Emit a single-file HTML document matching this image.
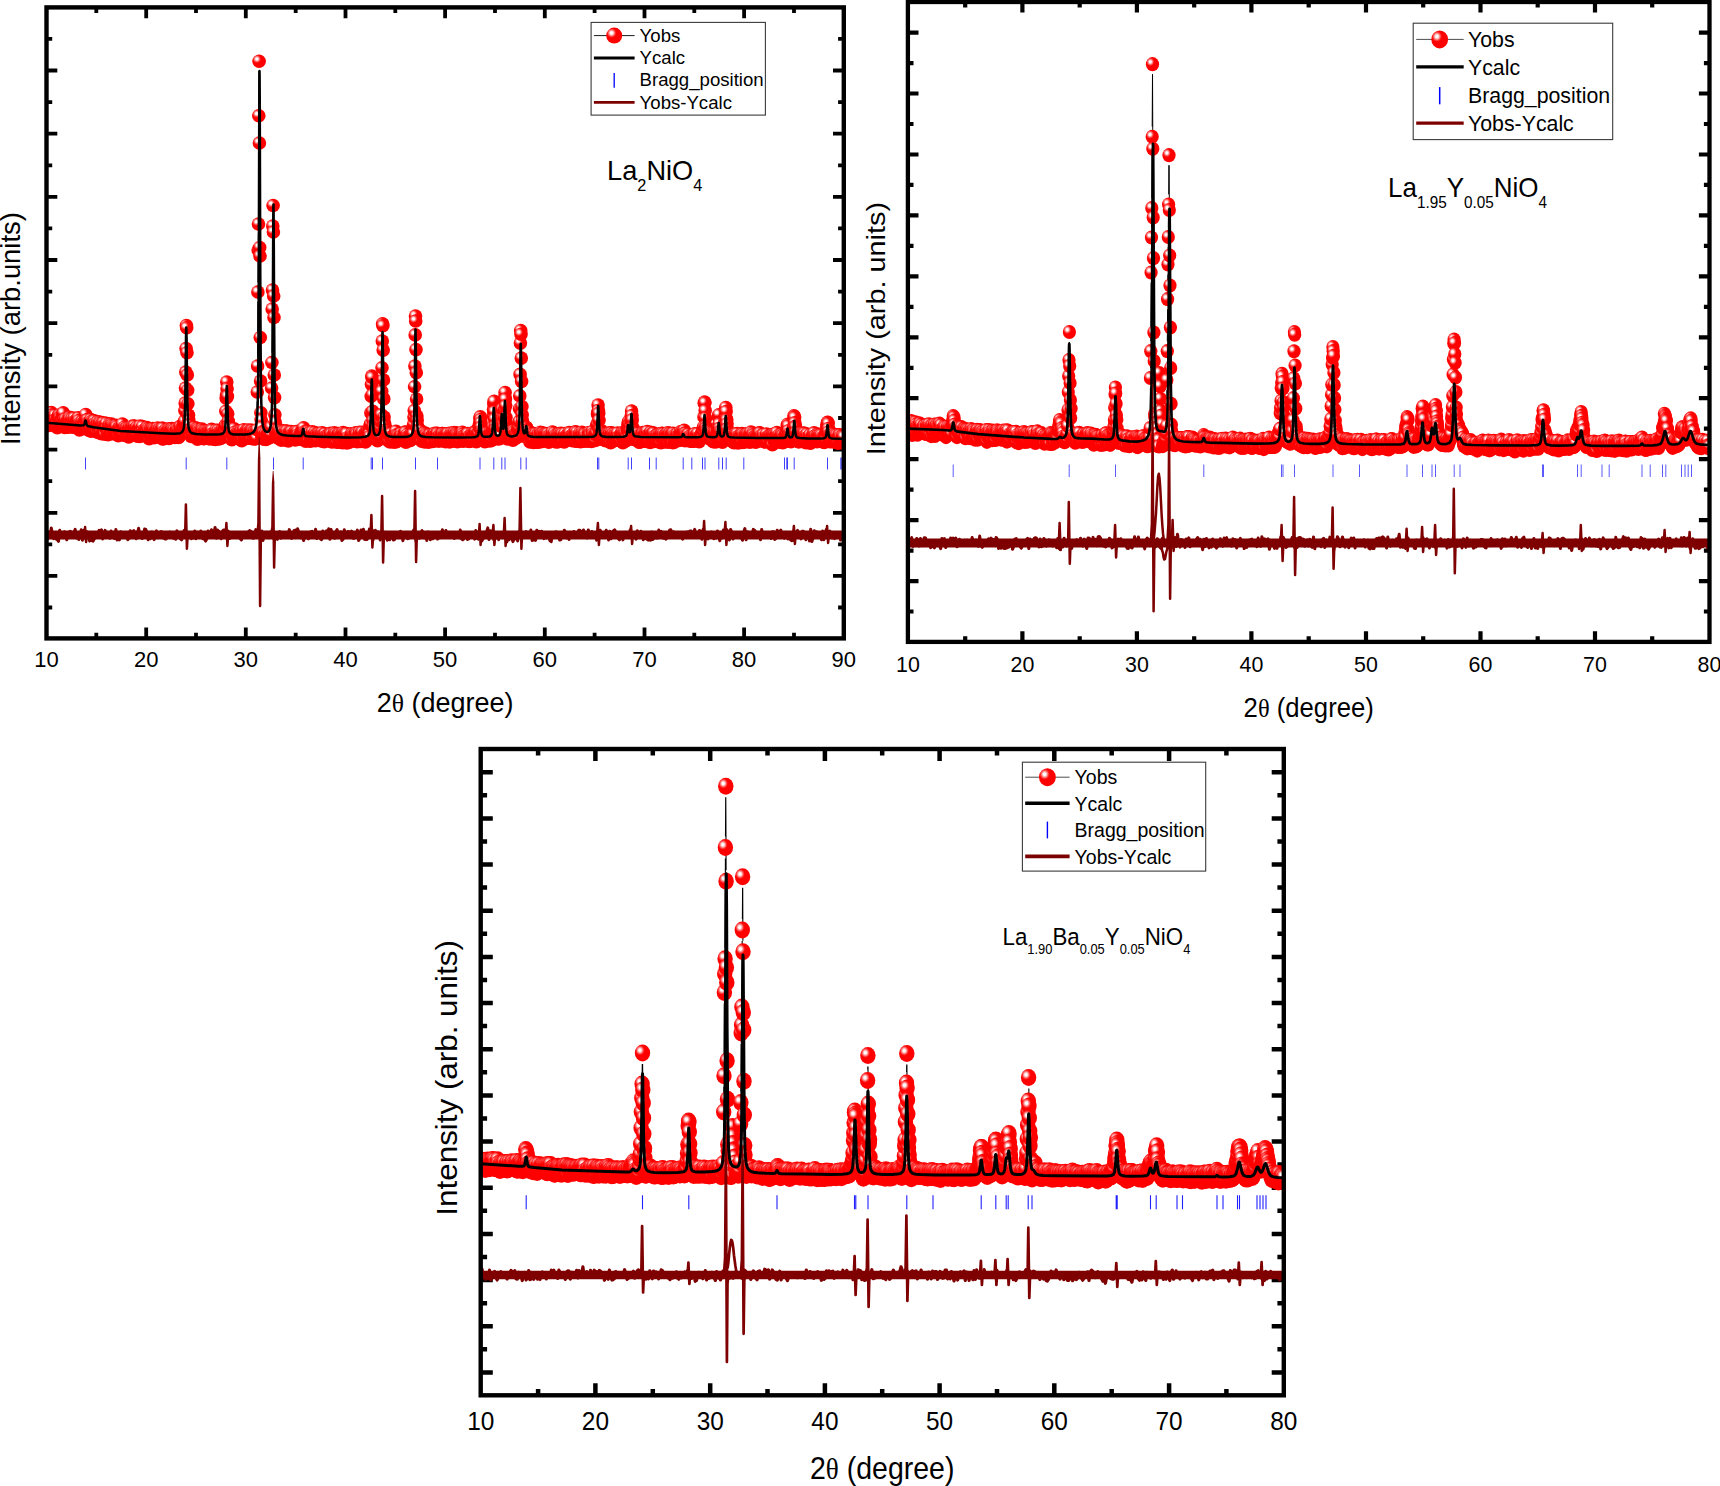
<!DOCTYPE html>
<html lang="en">
<head>
<meta charset="utf-8">
<title>Rietveld refinement XRD patterns</title>
<style>
html,body{margin:0;padding:0;background:#fff;}
body{width:1720px;height:1486px;overflow:hidden;}
svg{display:block;font-family:'Liberation Sans', Arial, sans-serif;fill:#000;}
</style>
</head>
<body>
<svg width="1720" height="1486" viewBox="0 0 1720 1486">
<defs>
<radialGradient id="rg" cx="0.335" cy="0.335" r="0.3">
<stop offset="0" stop-color="#fff"/>
<stop offset="0.25" stop-color="#fff"/>
<stop offset="0.5" stop-color="#ffa0a0"/>
<stop offset="0.8" stop-color="#ff3030"/>
<stop offset="1" stop-color="#ff0000"/>
</radialGradient>
</defs>
<rect width="1720" height="1486" fill="#fff"/>
<marker id="b1" markerUnits="userSpaceOnUse" markerWidth="15.5" markerHeight="15.5" refX="7.8" refY="7.8" overflow="visible"><ellipse cx="7.8" cy="7.8" rx="6.8" ry="6.8" fill="url(#rg)"/></marker>
<clipPath id="c1"><rect x="45" y="7.4" width="800.3" height="631"/></clipPath>
<path d="M46.5 38.9h5.7M843.8 38.9h-5.7M46.5 70.5h10.8M843.8 70.5h-10.8M46.5 102.1h5.7M843.8 102.1h-5.7M46.5 133.7h10.8M843.8 133.7h-10.8M46.5 165.3h5.7M843.8 165.3h-5.7M46.5 196.8h10.8M843.8 196.8h-10.8M46.5 228.4h5.7M843.8 228.4h-5.7M46.5 260h10.8M843.8 260h-10.8M46.5 291.6h5.7M843.8 291.6h-5.7M46.5 323.2h10.8M843.8 323.2h-10.8M46.5 354.8h5.7M843.8 354.8h-5.7M46.5 386.4h10.8M843.8 386.4h-10.8M46.5 418h5.7M843.8 418h-5.7M46.5 449.6h10.8M843.8 449.6h-10.8M46.5 481.2h5.7M843.8 481.2h-5.7M46.5 512.8h10.8M843.8 512.8h-10.8M46.5 544.3h5.7M843.8 544.3h-5.7M46.5 575.9h10.8M843.8 575.9h-10.8M46.5 607.5h5.7M843.8 607.5h-5.7M96.3 7.4v5.7M96.3 638.4v-5.7M146.2 7.4v10.8M146.2 638.4v-10.8M196 7.4v5.7M196 638.4v-5.7M245.8 7.4v10.8M245.8 638.4v-10.8M295.7 7.4v5.7M295.7 638.4v-5.7M345.5 7.4v10.8M345.5 638.4v-10.8M395.3 7.4v5.7M395.3 638.4v-5.7M445.1 7.4v10.8M445.1 638.4v-10.8M495 7.4v5.7M495 638.4v-5.7M544.8 7.4v10.8M544.8 638.4v-10.8M594.6 7.4v5.7M594.6 638.4v-5.7M644.5 7.4v10.8M644.5 638.4v-10.8M694.3 7.4v5.7M694.3 638.4v-5.7M744.1 7.4v10.8M744.1 638.4v-10.8M794 7.4v5.7M794 638.4v-5.7" stroke="#000" stroke-width="3.8" fill="none"/>
<g clip-path="url(#c1)">
<path d="M186 362.4L186 358.4M186.3 338.9L186.3 335.2M186.8 337.5L186.9 343M187.2 362.5L187.2 365.2M257.1 420.1L257.2 401.7M257.4 382.3L257.5 375.7M257.6 356.3L257.8 301.7M258 282.3L258.1 259.7M258.3 240.3L258.4 233.7M258.5 214.3L258.8 125.5M258.8 106L259 71M259.1 71L259.3 133.3M259.4 152.7L259.7 237.8M260 265.7L260.2 327.8M260.3 347.2L260.5 371.3M260.7 390.7L260.8 403M271.4 417.3L271.6 397.7M271.8 378.3L271.8 372.2M272 352.8L272.2 318.7M272.6 280.3L272.8 235.7M273.2 215.2L273.3 222.3M273.5 241.7L273.7 286.3M273.9 305.7L273.9 307.8M274.1 327.2L274.3 365.3M274.5 384.7L274.5 387.8M381.5 405L381.5 401.1M381.8 381.6L381.8 377.6M382.1 358.1L382.2 350.8M383 335.5L383 340.3M383.3 359.8L383.4 370.2M414.4 400.9L414.4 396.6M414.9 356.3L415.1 344.6M415.9 330.8L415.9 339.9M416.2 359.4L416.2 363M416.5 382.5L416.5 389.3M520.2 364.7L520.3 352.8M521.1 344L521.2 348.4M521.4 367.9L521.5 371.7M521.7 391.2L521.8 396.7" fill="none" stroke="#000" stroke-width="1"/>
<polyline points="46.5,415 46.8,414.5 47.1,418.3 47.4,424.1 47.7,418.1 48,419.1 48.3,412.8 48.6,418.5 48.9,425.5 49.2,423.6 49.5,422.6 49.8,413.7 50.1,423 50.4,422.6 50.7,414.5 51,419.3 51.3,412.5 51.6,415 51.9,418.1 52.2,418.2 52.5,421.7 52.8,425.2 53.1,418.6 53.4,418.8 53.7,416.8 54,417.2 54.3,422.8 54.6,420.6 54.9,415.3 55.2,420.7 55.5,419.5 55.8,423.5 56.1,423.2 56.4,422.2 56.7,421 57,424.6 57.3,427.7 57.6,417.6 57.9,418.4 58.2,425.1 58.5,415.4 58.8,418.9 59.1,415.3 59.4,419 59.7,416.9 60,417.8 60.3,425.1 60.6,423.3 60.9,422.6 61.2,419.9 61.4,422.7 61.7,419.2 62,416.8 62.3,421.1 62.6,421.9 62.9,415.4 63.2,412.9 63.5,424.7 63.8,420 64.1,423.9 64.4,423.7 64.7,427.4 65,419.7 65.3,419.1 65.6,425.4 65.9,424.1 66.2,422.8 66.5,427.3 66.8,422.6 67.1,427.2 67.4,420.1 67.7,424 68,426.4 68.3,420.5 68.6,424.5 68.9,420.2 69.2,421.6 69.5,417.3 69.8,418.7 70.1,426.7 70.4,423.3 70.7,423 71,424.7 71.3,422.1 71.6,421.8 71.9,418.6 72.2,425.3 72.5,427.3 72.8,426.3 73.1,425.1 73.4,423.4 73.7,423.2 74,418.1 74.3,426.5 74.6,421.7 74.9,422.5 75.2,421.1 75.5,424.9 75.8,424.1 76.1,424.4 76.4,420.4 76.7,420.5 77,425.2 77.3,421.4 77.6,421.5 77.9,418.5 78.2,421.4 78.5,417.8 78.8,420.6 79.1,426.2 79.4,430 79.7,424.9 80,422.7 80.3,426.5 80.6,425.1 80.9,428.2 81.2,425 81.5,428.1 81.8,423.8 82.1,421.5 82.4,423.7 82.7,428.8 83,427.9 83.3,423.9 83.6,423 83.9,425.4 84.2,421.7 84.5,423 84.8,426.4 85.1,424.5 85.4,419.8 85.7,414.5 86,420.2 86.3,420.2 86.6,427.1 86.9,420.4 87.2,428.1 87.5,419.8 87.8,422.9 88.1,429.5 88.4,424 88.7,430.3 89,425.5 89.3,422.3 89.6,427.5 89.9,426 90.2,425.4 90.5,420.6 90.8,419.5 91,431.1 91.3,429.8 91.6,430.1 91.9,424.2 92.2,421.1 92.5,425.6 92.8,427.7 93.1,426.8 93.4,421 93.7,424 94,427.9 94.3,420.8 94.6,429.3 94.9,430.7 95.2,424.3 95.5,423 95.8,431.3 96.1,428.2 96.4,425.7 96.7,427.2 97,431.9 97.3,424.9 97.6,421.8 97.9,427 98.2,424.5 98.5,428.6 98.8,432.7 99.1,426.1 99.4,425.2 99.7,422.1 100,429.7 100.3,423.2 100.6,430.9 100.9,429.8 101.2,432.4 101.5,433.8 101.8,423.8 102.1,423.9 102.4,433.2 102.7,426.5 103,431.7 103.3,422.9 103.6,426.1 103.9,429.3 104.2,425.6 104.5,429.8 104.8,434.2 105.1,426.7 105.4,426.1 105.7,424.9 106,427.1 106.3,423.3 106.6,428.4 106.9,429.8 107.2,431 107.5,429.9 107.8,430.4 108.1,434.8 108.4,428.7 108.7,433.1 109,426.3 109.3,424.1 109.6,425.9 109.9,432.9 110.2,426.6 110.5,431.3 110.8,432.3 111.1,429.2 111.4,424 111.7,430 112,425 112.3,433.8 112.6,427.4 112.9,425.7 113.2,429.7 113.5,430.9 113.8,426.7 114.1,428.9 114.4,430.1 114.7,428.6 115,425.9 115.3,429.7 115.6,431.7 115.9,427.5 116.2,425.4 116.5,426.7 116.8,434.1 117.1,433.6 117.4,434.5 117.7,432 118,429.7 118.3,435.8 118.6,428.1 118.9,430.6 119.2,432.2 119.5,430.2 119.8,427.5 120.1,427.2 120.3,432.5 120.6,430 120.9,429.1 121.2,428.9 121.5,427.6 121.8,433.6 122.1,431.6 122.4,424 122.7,434.3 123,431.2 123.3,433.1 123.6,429 123.9,429.5 124.2,435.1 124.5,427.1 124.8,429 125.1,431.5 125.4,435.5 125.7,428.7 126,429.2 126.3,430.7 126.6,432.9 126.9,428 127.2,434.5 127.5,431.1 127.8,431 128.1,430.3 128.4,428.5 128.7,436.9 129,436.3 129.3,429.2 129.6,427.5 129.9,432.4 130.2,434.2 130.5,435.3 130.8,430.6 131.1,427.4 131.4,427.9 131.7,432.6 132,432.7 132.3,433.9 132.6,426.1 132.9,427.4 133.2,433.1 133.5,433 133.8,427.9 134.1,427.8 134.4,426.1 134.7,434.7 135,429 135.3,429 135.6,432.8 135.9,428.6 136.2,431.1 136.5,428.5 136.8,427.2 137.1,433.7 137.4,436.2 137.7,431.6 138,429.6 138.3,435.2 138.6,427.7 138.9,428.7 139.2,435 139.5,436.4 139.8,427.6 140.1,426 140.4,433.5 140.7,433.7 141,434.7 141.3,434.2 141.6,432.5 141.9,434.8 142.2,434 142.5,426.6 142.8,431.1 143.1,435.6 143.4,433.2 143.7,432.6 144,434.6 144.3,434.9 144.6,429.5 144.9,431.6 145.2,434.3 145.5,433.5 145.8,430.3 146.1,428.5 146.4,430.1 146.7,433.1 147,427.6 147.3,433.1 147.6,436.7 147.9,428.9 148.2,435.8 148.5,430.3 148.8,431.9 149.1,438.8 149.4,434 149.7,432.2 149.9,434.9 150.2,432.1 150.5,434.2 150.8,429 151.1,429.3 151.4,433.5 151.7,433.1 152,433.3 152.3,428.7 152.6,436.3 152.9,428.6 153.2,435.8 153.5,430.3 153.8,429.3 154.1,437.7 154.4,437.3 154.7,434 155,437.1 155.3,429.7 155.6,436.1 155.9,435.8 156.2,431 156.5,434.3 156.8,428.9 157.1,435.2 157.4,434.8 157.7,428.1 158,430.1 158.3,432.2 158.6,431.6 158.9,431.1 159.2,431.2 159.5,433.6 159.8,428.9 160.1,434.6 160.4,433.4 160.7,433.3 161,432.5 161.3,429.3 161.6,435.7 161.9,428.3 162.2,435 162.5,439 162.8,428.4 163.1,434.4 163.4,436.8 163.7,438.8 164,431.2 164.3,435.3 164.6,438.1 164.9,434.5 165.2,436.2 165.5,434.4 165.8,429.9 166.1,432.9 166.4,437.5 166.7,432.2 167,433.7 167.3,432.3 167.6,430.2 167.9,433.9 168.2,432.1 168.5,436.9 168.8,428.7 169.1,438.4 169.4,429.4 169.7,436.6 170,433.3 170.3,436.3 170.6,432.5 170.9,429.4 171.2,437.5 171.5,433.9 171.8,428.6 172.1,433.6 172.4,429.4 172.7,431.3 173,432.5 173.3,435.5 173.6,432.2 173.9,430 174.2,433.1 174.5,432.5 174.8,437.4 175.1,434.7 175.4,436.8 175.7,433.7 176,431.5 176.3,431.6 176.6,428.7 176.9,431.8 177.2,434.8 177.5,435.8 177.8,429.5 178.1,436.3 178.4,437.4 178.7,434.5 179,436.9 179.3,432.8 179.5,431.5 179.8,434.1 180.1,426.3 180.4,426.7 180.7,432.8 181,431.2 181.3,429.3 181.6,431 181.9,432.9 182.2,431 182.5,429.4 182.8,432.4 183.1,425 183.4,432.7 183.7,428 184,423.7 184.3,421.8 184.6,421 184.9,410.6 185.2,403.1 185.5,388.1 185.8,372.1 186.1,348.6 186.4,325.5 186.7,327.8 187,352.7 187.3,374.9 187.6,390.2 187.9,403.7 188.2,415.1 188.5,415.2 188.8,420.4 189.1,429.3 189.4,424.5 189.7,429.6 190,430.7 190.3,433.7 190.6,433.6 190.9,429 191.2,436.4 191.5,431.5 191.8,429.1 192.1,430.8 192.4,432.5 192.7,434.9 193,429.2 193.3,429 193.6,436.4 193.9,436.7 194.2,429.3 194.5,427.5 194.8,434.5 195.1,436.5 195.4,429.4 195.7,433.5 196,430.6 196.3,435.1 196.6,428.3 196.9,430.2 197.2,434.2 197.5,439.3 197.8,428.5 198.1,430.6 198.4,429.7 198.7,437.1 199,431.4 199.3,431.9 199.6,434.9 199.9,436 200.2,432 200.5,433.6 200.8,434.5 201.1,435 201.4,432 201.7,435.9 202,429.1 202.3,433.3 202.6,430.3 202.9,437 203.2,433.4 203.5,438.7 203.8,435.9 204.1,430.9 204.4,438.4 204.7,432.2 205,437.6 205.3,437 205.6,431 205.9,432.7 206.2,433.7 206.5,432.4 206.8,432.4 207.1,431.8 207.4,433.5 207.7,437.4 208,433.6 208.3,436.1 208.6,430.5 208.9,431.9 209.1,432.1 209.4,438.6 209.7,438.7 210,430.6 210.3,432.3 210.6,435.5 210.9,435.9 211.2,431 211.5,429.3 211.8,436.8 212.1,430.1 212.4,433.9 212.7,437.7 213,435.3 213.3,433.6 213.6,435.8 213.9,439.3 214.2,435.1 214.5,437.9 214.8,433.9 215.1,433.8 215.4,439.5 215.7,435.4 216,430.2 216.3,435.6 216.6,434.5 216.9,434 217.2,435.8 217.5,433.4 217.8,435 218.1,430.4 218.4,434.5 218.7,438.9 219,435.4 219.3,432.7 219.6,432.1 219.9,434.3 220.2,433.2 220.5,438.5 220.8,432.9 221.1,437.7 221.4,431.2 221.7,436.1 222,436.8 222.3,429.9 222.6,433.1 222.9,436.2 223.2,432 223.5,430 223.8,436.9 224.1,432.9 224.4,431 224.7,428.2 225,430.6 225.3,425.5 225.6,425.3 225.9,411.3 226.2,398.3 226.5,394.8 226.8,382 227.1,388.7 227.4,396.4 227.7,413.8 228,423.3 228.3,421.3 228.6,426.2 228.9,426.5 229.2,435.7 229.5,435.1 229.8,434.9 230.1,437.7 230.4,436.9 230.7,437.6 231,437.3 231.3,436 231.6,437.9 231.9,439.7 232.2,433.4 232.5,431.7 232.8,435.7 233.1,430.3 233.4,431.7 233.7,433 234,437 234.3,428.7 234.6,433.7 234.9,432.1 235.2,436.6 235.5,437.9 235.8,434.3 236.1,437.8 236.4,434.2 236.7,435.1 237,433.3 237.3,432.2 237.6,438 237.9,434.8 238.2,432.7 238.4,434.4 238.7,433.2 239,431.1 239.3,435.9 239.6,437.8 239.9,436.8 240.2,431.5 240.5,433.7 240.8,430.7 241.1,430.7 241.4,431.3 241.7,440.6 242,438.1 242.3,437.2 242.6,439.4 242.9,432.2 243.2,430.9 243.5,431 243.8,429.8 244.1,437.6 244.4,434.4 244.7,434.6 245,438.7 245.3,433.6 245.6,431.7 245.9,436.7 246.2,430.5 246.5,437.9 246.8,432.8 247.1,430.5 247.4,433.2 247.7,430.7 248,437.3 248.3,430.9 248.6,430 248.9,434.7 249.2,431.9 249.5,433.2 249.8,438.3 250.1,434.7 250.4,434.4 250.7,432.3 251,430.4 251.3,431.4 251.6,438.5 251.9,430.5 252.2,430.5 252.5,432.2 252.8,434.2 253.1,434.6 253.4,435.1 253.7,439 254,432.3 254.3,434.7 254.6,431.7 254.9,435.4 255.2,433.6 255.5,433.2 255.8,438.8 256.1,438.5 256.4,434.4 256.7,437.9 257,429.8 257.3,392 257.6,366 257.9,292 258.2,250 258.5,224 258.8,115.8 259.1,61.2 259.4,143 259.7,247.5 260,256 260.3,337.5 260.6,381 260.9,412.7 261.2,420 261.5,427.3 261.8,435.8 262.1,436.8 262.4,431.7 262.7,436.2 263,432 263.3,436.5 263.6,432.8 263.9,439.1 264.2,436.9 264.5,435.7 264.8,435.3 265.1,435.8 265.4,434.7 265.7,432.8 266,439.5 266.3,438.2 266.6,438.8 266.9,437.8 267.2,434.1 267.5,437 267.8,437.6 268,434.5 268.3,431.9 268.6,437.7 268.9,434.3 269.2,434.2 269.5,436.1 269.8,437.6 270.1,433.9 270.4,434.4 270.7,433.6 271,434.1 271.3,427 271.6,388 271.9,362.5 272.2,309 272.5,290 272.8,226 273.1,205.5 273.4,232 273.7,296 274,317.5 274.3,375 274.6,397.6 274.9,414.7 275.2,422 275.5,430.3 275.8,432.1 276.1,435.9 276.4,432.9 276.7,437.2 277,436.9 277.3,433.1 277.6,435.2 277.9,433.2 278.2,436.4 278.5,433 278.8,429.4 279.1,433.8 279.4,439 279.7,435.2 280,430.8 280.3,438.2 280.6,438.6 280.9,437.9 281.2,433.6 281.5,440.3 281.8,438.5 282.1,435.3 282.4,437.9 282.7,431.1 283,431.4 283.3,434.2 283.6,438.2 283.9,436.9 284.2,436.7 284.5,439.8 284.8,438.1 285.1,431.1 285.4,439.1 285.7,437.8 286,432.2 286.3,437.5 286.6,435.1 286.9,431.1 287.2,440.1 287.5,434.3 287.8,437.2 288.1,439.3 288.4,440.9 288.7,436.3 289,434.7 289.3,431.7 289.6,433.1 289.9,437 290.2,434.7 290.5,437 290.8,431.5 291.1,439.4 291.4,431.8 291.7,438.2 292,435.2 292.3,437.7 292.6,434.1 292.9,439.1 293.2,436.7 293.5,435.4 293.8,436 294.1,433.3 294.4,436.9 294.7,433.1 295,432.8 295.3,439.9 295.6,432.9 295.9,439.1 296.2,431.5 296.5,437.5 296.8,433 297.1,436.1 297.4,434 297.6,436.8 297.9,431.5 298.2,434.5 298.5,439.1 298.8,438.9 299.1,438.4 299.4,436.4 299.7,438.1 300,435.1 300.3,434.5 300.6,438.7 300.9,434.3 301.2,432.1 301.5,439.4 301.8,432.2 302.1,436.9 302.4,429.4 302.7,433.5 303,430 303.3,430.8 303.6,427.8 303.9,433.9 304.2,431.7 304.5,435.4 304.8,432.6 305.1,438.9 305.4,437.7 305.7,441.3 306,432.3 306.3,434 306.6,438.1 306.9,433.1 307.2,437.9 307.5,435.8 307.8,431.5 308.1,433.2 308.4,436.3 308.7,435.9 309,440.7 309.3,434 309.6,434.4 309.9,432.7 310.2,436.2 310.5,441.1 310.8,440.1 311.1,435.8 311.4,436.5 311.7,437.4 312,437.6 312.3,431.8 312.6,439.8 312.9,439.9 313.2,436.6 313.5,435.1 313.8,436 314.1,436.5 314.4,435.9 314.7,432.6 315,439.3 315.3,440.8 315.6,438.8 315.9,434.2 316.2,436.1 316.5,435.4 316.8,439.6 317.1,434.1 317.4,435.3 317.7,439 318,439.4 318.3,434.9 318.6,433.4 318.9,436.6 319.2,440.1 319.5,433.7 319.8,435.2 320.1,435 320.4,435.5 320.7,436.3 321,436.4 321.3,441 321.6,440.6 321.9,433.7 322.2,432.8 322.5,435.3 322.8,437.3 323.1,439.1 323.4,438.2 323.7,434.6 324,434.9 324.3,441.6 324.6,437.7 324.9,438.8 325.2,433.7 325.5,438.9 325.8,436.3 326.1,437.8 326.4,436.4 326.7,439.9 327,435.8 327.2,437.8 327.5,437.1 327.8,438 328.1,439.8 328.4,435.4 328.7,435.9 329,439.8 329.3,441 329.6,440.5 329.9,439.1 330.2,436.2 330.5,433.4 330.8,439.1 331.1,434.1 331.4,441.2 331.7,441.4 332,442 332.3,441.2 332.6,439 332.9,435.3 333.2,440.1 333.5,438.2 333.8,435.8 334.1,434.8 334.4,432.8 334.7,437.6 335,434.4 335.3,439.9 335.6,436.5 335.9,433.7 336.2,439.3 336.5,438.5 336.8,442.1 337.1,435.2 337.4,436.2 337.7,437 338,437.6 338.3,435.2 338.6,433.9 338.9,433.6 339.2,438 339.5,442.3 339.8,433.9 340.1,439.3 340.4,437.7 340.7,436.2 341,436.5 341.3,441.5 341.6,434 341.9,439.9 342.2,436.8 342.5,442.8 342.8,433.9 343.1,432.6 343.4,439.4 343.7,434.5 344,435.9 344.3,433.5 344.6,434.9 344.9,434 345.2,438.9 345.5,435.1 345.8,434.5 346.1,435.5 346.4,437.1 346.7,433.5 347,443 347.3,439.8 347.6,439.8 347.9,439.1 348.2,437.3 348.5,439.7 348.8,440.3 349.1,439.9 349.4,442.1 349.7,440.3 350,438.5 350.3,440.8 350.6,438.7 350.9,435.9 351.2,437.6 351.5,433.7 351.8,437.6 352.1,439.4 352.4,434.5 352.7,438.7 353,436 353.3,435.7 353.6,435.8 353.9,437.6 354.2,436.1 354.5,437 354.8,440.9 355.1,438.7 355.4,437.8 355.7,432.9 356,433.2 356.3,435.3 356.6,434.2 356.8,439.8 357.1,441.7 357.4,438.3 357.7,437.8 358,439 358.3,440.1 358.6,438.4 358.9,438.6 359.2,434.4 359.5,432.3 359.8,441.2 360.1,441.5 360.4,436.1 360.7,438 361,440.8 361.3,432.9 361.6,439.9 361.9,440.5 362.2,432.2 362.5,438.5 362.8,440.4 363.1,440.9 363.4,436.7 363.7,435.2 364,440.3 364.3,436.9 364.6,435.9 364.9,437.4 365.2,432.6 365.5,442 365.8,435.7 366.1,432.8 366.4,434.1 366.7,437.8 367,432.2 367.3,438.9 367.6,437.5 367.9,430.5 368.2,437.7 368.5,433.2 368.8,432.8 369.1,438.2 369.4,428.1 369.7,433.7 370,436.4 370.3,424.7 370.6,423.8 370.9,412.9 371.2,396.2 371.5,384.4 371.8,376 372.1,377.4 372.4,395 372.7,411.3 373,420.6 373.3,426.1 373.6,427.2 373.9,434.1 374.2,429.5 374.5,431.9 374.8,433.4 375.1,438.4 375.4,435.9 375.7,434.3 376,434.2 376.3,434.3 376.6,436 376.9,437.9 377.2,435.4 377.5,440.7 377.8,431.1 378.1,436.6 378.4,433.9 378.7,431.5 379,434.3 379.3,437.7 379.6,431.6 379.9,436.1 380.2,429.8 380.5,427.5 380.8,421.5 381.1,416.3 381.4,414.8 381.7,391.3 382,367.8 382.3,341 382.6,323.8 382.9,325.8 383.2,350.1 383.5,380 383.8,398.9 384.1,417.1 384.4,422.8 384.7,429.2 385,425.6 385.3,430.2 385.6,432.2 385.9,432.3 386.1,432.5 386.4,431 386.7,436.5 387,434.5 387.3,434.5 387.6,437.9 387.9,430.9 388.2,433.7 388.5,440.9 388.8,435.2 389.1,432.2 389.4,432.7 389.7,433.5 390,441.9 390.3,433.5 390.6,435.5 390.9,433.7 391.2,438.6 391.5,437.8 391.8,440.2 392.1,437.1 392.4,436.4 392.7,436.2 393,440.3 393.3,437.9 393.6,436.1 393.9,436.3 394.2,442.3 394.5,439.2 394.8,436.5 395.1,433.5 395.4,440.3 395.7,433.9 396,431.2 396.3,434.7 396.6,441.8 396.9,435.5 397.2,440.7 397.5,439.7 397.8,435.8 398.1,438.2 398.4,437.6 398.7,438.9 399,439.6 399.3,440 399.6,437.3 399.9,438.5 400.2,438.7 400.5,440.3 400.8,436.5 401.1,433.5 401.4,435.8 401.7,439.5 402,438.7 402.3,437.5 402.6,438.5 402.9,439.1 403.2,440.3 403.5,440.6 403.8,436.8 404.1,439.2 404.4,433.3 404.7,436.2 405,432.1 405.3,437.1 405.6,432.4 405.9,442.1 406.2,440.2 406.5,438.8 406.8,441 407.1,434.5 407.4,437.1 407.7,437.1 408,438.6 408.3,438.7 408.6,440 408.9,439.8 409.2,436.3 409.5,440.6 409.8,436.1 410.1,437.4 410.4,435.7 410.7,440.3 411,433.9 411.3,438.7 411.6,439.2 411.9,435.3 412.2,432.5 412.5,434.5 412.8,435.7 413.1,427.4 413.4,433.6 413.7,424.1 414,417 414.3,410.6 414.6,386.8 414.9,366.1 415.2,334.9 415.5,316 415.7,321 416,349.6 416.3,372.8 416.6,399 416.9,416.1 417.2,420.6 417.5,426.3 417.8,432 418.1,430.6 418.4,431.1 418.7,430.9 419,431.6 419.3,437.7 419.6,434.7 419.9,432.9 420.2,430.3 420.5,438.2 420.8,439.4 421.1,435.5 421.4,436.3 421.7,441.1 422,433.9 422.3,435 422.6,435.3 422.9,436.8 423.2,435.5 423.5,440 423.8,440.5 424.1,434.9 424.4,432.8 424.7,442 425,439.2 425.3,436.3 425.6,438.9 425.9,433.6 426.2,435 426.5,439.2 426.8,437.4 427.1,438 427.4,436.2 427.7,436.5 428,437.2 428.3,438.8 428.6,442.1 428.9,435.4 429.2,439.3 429.5,437.1 429.8,436.4 430.1,434.6 430.4,440.5 430.7,440 431,436.8 431.3,438.9 431.6,438.1 431.9,437.1 432.2,437.5 432.5,435.4 432.8,441.4 433.1,434.1 433.4,434.4 433.7,437.5 434,436.7 434.3,434.3 434.6,435.4 434.9,433.4 435.2,436.3 435.5,439.9 435.8,440.7 436.1,436.2 436.4,434.4 436.7,434.4 437,433.4 437.3,435.9 437.6,433.6 437.9,438 438.2,438.6 438.5,440.7 438.8,440.6 439.1,441 439.4,435.7 439.7,434.6 440,435.7 440.3,439.8 440.6,439.9 440.9,438.5 441.2,435.1 441.5,438 441.8,436.9 442.1,433.5 442.4,433.6 442.7,433.8 443,441 443.3,436.9 443.6,437.8 443.9,439.8 444.2,437.4 444.5,434.2 444.8,440.5 445.1,436.6 445.3,437 445.6,441.8 445.9,434.2 446.2,439.3 446.5,433.9 446.8,434.8 447.1,435 447.4,440.4 447.7,434.7 448,433.5 448.3,440.3 448.6,437.6 448.9,439.2 449.2,441.7 449.5,440.7 449.8,435.5 450.1,441.6 450.4,437.4 450.7,437.2 451,433 451.3,440.4 451.6,439.8 451.9,437.6 452.2,433.6 452.5,435.2 452.8,435.3 453.1,440.2 453.4,440.9 453.7,435.2 454,434.5 454.3,432.6 454.6,439.9 454.9,435.1 455.2,440.5 455.5,439.3 455.8,435.3 456.1,432.9 456.4,433.6 456.7,434.9 457,439.5 457.3,441.7 457.6,438.3 457.9,435.3 458.2,438.9 458.5,437.9 458.8,440.4 459.1,438.1 459.4,438.2 459.7,435 460,434.9 460.3,434.8 460.6,440.8 460.9,439.4 461.2,433.9 461.5,440.7 461.8,435.9 462.1,434 462.4,432.3 462.7,434.2 463,436.2 463.3,436.8 463.6,441.2 463.9,439.8 464.2,436 464.5,437 464.8,438.5 465.1,439.7 465.4,436 465.7,439.5 466,438.8 466.3,436.3 466.6,438.7 466.9,436.1 467.2,437.4 467.5,435.7 467.8,433.6 468.1,438.9 468.4,438.1 468.7,438.8 469,441.2 469.3,441.4 469.6,435.8 469.9,436 470.2,438.7 470.5,440.9 470.8,440.7 471.1,439.9 471.4,436.2 471.7,436.6 472,433.3 472.3,436.3 472.6,439.8 472.9,434.2 473.2,433.8 473.5,435.8 473.8,435.2 474.1,434 474.4,433.9 474.7,437.1 474.9,431.6 475.2,440.5 475.5,431.7 475.8,432.1 476.1,435 476.4,441.8 476.7,440.1 477,434.2 477.3,434.5 477.6,438.2 477.9,432.8 478.2,438.9 478.5,435 478.8,433.5 479.1,425.8 479.4,427.4 479.7,422.9 480,418.2 480.3,416.9 480.6,419.5 480.9,422.6 481.2,427.1 481.5,432.1 481.8,437.3 482.1,430.9 482.4,435.4 482.7,435 483,438.6 483.3,432 483.6,433.7 483.9,432.8 484.2,438.1 484.5,436.1 484.8,441.6 485.1,436.3 485.4,441.1 485.7,433.6 486,433.2 486.3,439.7 486.6,436.1 486.9,433.5 487.2,439 487.5,436.6 487.8,435.3 488.1,438.6 488.4,440.7 488.7,435.7 489,434.5 489.3,434.3 489.6,440.7 489.9,435.3 490.2,437.4 490.5,431.9 490.8,436.6 491.1,440.7 491.4,438.9 491.7,433.9 492,431.3 492.3,433.5 492.6,430.1 492.9,427 493.2,415.5 493.5,409.6 493.8,403.8 494.1,401.4 494.4,411.7 494.7,419.1 495,430.7 495.3,426.2 495.6,429.1 495.9,433.5 496.2,438.2 496.5,433.7 496.8,431.6 497.1,437.5 497.4,431 497.7,438.9 498,436.9 498.3,434.7 498.6,438.2 498.9,434.4 499.2,436 499.5,433.8 499.8,438.6 500.1,436.2 500.4,434.8 500.7,426.3 501,425.7 501.3,422.6 501.6,415.6 501.9,415.6 502.2,409.2 502.5,419 502.8,423.7 503.1,424.6 503.4,426.6 503.7,424.2 504,427.4 504.2,417.4 504.5,409.6 504.8,397.2 505.1,392.5 505.4,399.3 505.7,405.8 506,417.5 506.3,423.5 506.6,430.8 506.9,434.9 507.2,428.9 507.5,439 507.8,431 508.1,436.2 508.4,434.8 508.7,437.5 509,432 509.3,435.4 509.6,436.6 509.9,431.9 510.2,437.8 510.5,435.7 510.8,435.6 511.1,431.4 511.4,431.9 511.7,438.7 512,436.5 512.3,439.2 512.6,436.4 512.9,440.1 513.2,430.7 513.5,434.4 513.8,432 514.1,438.8 514.4,439 514.7,434.5 515,434.4 515.3,438.3 515.6,435.2 515.9,432.5 516.2,435.3 516.5,436.1 516.8,436.3 517.1,436.1 517.4,437.2 517.7,429.6 518,436.3 518.3,429.3 518.6,430.8 518.9,427.5 519.2,421.6 519.5,408.7 519.8,395.9 520.1,374.4 520.4,343.1 520.7,330.5 521,334.2 521.3,358.1 521.6,381.4 521.9,406.5 522.2,414.7 522.5,420.9 522.8,431.3 523.1,433.5 523.4,432.5 523.7,436.3 524,429.6 524.3,430.3 524.6,430.2 524.9,431 525.2,435.8 525.5,427.9 525.8,432.6 526.1,427.2 526.4,429.2 526.7,427.9 527,429.8 527.3,430.4 527.6,434.3 527.9,435.4 528.2,438.1 528.5,433.7 528.8,431 529.1,436.8 529.4,434.6 529.7,434.3 530,442 530.3,437.6 530.6,435.4 530.9,435.2 531.2,435.4 531.5,434 531.8,435.5 532.1,435.8 532.4,435.8 532.7,436.7 533,440.2 533.3,439.3 533.6,442.5 533.8,438.7 534.1,434.1 534.4,436.6 534.7,441.4 535,438.5 535.3,440.9 535.6,434.1 535.9,433.7 536.2,442.3 536.5,436.7 536.8,440 537.1,437.4 537.4,435 537.7,437 538,436.3 538.3,433.8 538.6,439 538.9,442.2 539.2,440.5 539.5,439.4 539.8,437.9 540.1,439.5 540.4,432.2 540.7,441.3 541,433.2 541.3,433.9 541.6,439.5 541.9,434.2 542.2,438.4 542.5,441.5 542.8,437.7 543.1,433.1 543.4,435.2 543.7,439.4 544,437.9 544.3,437.5 544.6,433.6 544.9,434.6 545.2,434.5 545.5,435.9 545.8,435.4 546.1,438.8 546.4,433.8 546.7,434.2 547,436.8 547.3,435.5 547.6,436.2 547.9,433.6 548.2,436.3 548.5,439 548.8,442.1 549.1,440.4 549.4,437.8 549.7,439.8 550,434.8 550.3,437.3 550.6,440.2 550.9,438.1 551.2,437.6 551.5,436 551.8,438.5 552.1,436.9 552.4,432 552.7,436.2 553,438.9 553.3,437.2 553.6,440.1 553.9,435.1 554.2,433 554.5,437.7 554.8,438.7 555.1,438.3 555.4,439.6 555.7,434.9 556,441.9 556.3,440.6 556.6,441.3 556.9,440.1 557.2,435 557.5,440.7 557.8,441 558.1,441.6 558.4,441.4 558.7,439.4 559,433.5 559.3,434.2 559.6,436.5 559.9,440.9 560.2,438.1 560.5,437.1 560.8,438.4 561.1,433.4 561.4,436.2 561.7,436.2 562,434.6 562.3,433.9 562.6,438.2 562.9,441.5 563.2,439.3 563.4,441.2 563.7,436.3 564,436.6 564.3,442 564.6,435.2 564.9,433.5 565.2,437.2 565.5,440 565.8,437.2 566.1,436.7 566.4,437.5 566.7,435.9 567,438.6 567.3,435.2 567.6,434.7 567.9,438.4 568.2,436.7 568.5,439.4 568.8,436.3 569.1,432.6 569.4,438 569.7,436.4 570,432.8 570.3,436.8 570.6,438.8 570.9,436.9 571.2,435.9 571.5,437.8 571.8,438 572.1,437.4 572.4,440.6 572.7,435.1 573,437.5 573.3,434.2 573.6,438.5 573.9,436 574.2,439.4 574.5,437.2 574.8,440.3 575.1,433.4 575.4,431.9 575.7,441.1 576,438.3 576.3,440.3 576.6,436.2 576.9,432.4 577.2,441.3 577.5,435.8 577.8,437.7 578.1,439.3 578.4,439.9 578.7,439.9 579,438.8 579.3,434.7 579.6,440.7 579.9,433 580.2,440.6 580.5,441.7 580.8,439.9 581.1,437 581.4,435.3 581.7,440.3 582,432.2 582.3,440.7 582.6,433.5 582.9,435.3 583.2,434.6 583.5,435.8 583.8,440.1 584.1,441.1 584.4,436 584.7,433.7 585,434.5 585.3,437.9 585.6,436.9 585.9,439.1 586.2,439.1 586.5,439 586.8,438.6 587.1,439.3 587.4,439.3 587.7,441.2 588,438.1 588.3,438.7 588.6,432.7 588.9,440.1 589.2,439.4 589.5,435.4 589.8,432.5 590.1,434.1 590.4,435.1 590.7,439.2 591,437.7 591.3,438.6 591.6,441.4 591.9,439.3 592.2,437.1 592.5,431.6 592.8,434 593,438.5 593.3,435.5 593.6,436.5 593.9,437 594.2,438.8 594.5,438.1 594.8,436.4 595.1,434.8 595.4,440.4 595.7,434.7 596,432.8 596.3,434.8 596.6,433 596.9,424.8 597.2,424.1 597.5,413.9 597.8,412.7 598.1,405 598.4,410.6 598.7,413.4 599,420.2 599.3,430.2 599.6,430.5 599.9,431.7 600.2,430.6 600.5,430 600.8,432.8 601.1,439 601.4,436.3 601.7,431.9 602,436.2 602.3,434.5 602.6,431.7 602.9,433 603.2,439.1 603.5,435.9 603.8,439.7 604.1,434 604.4,435.2 604.7,439.8 605,436.1 605.3,440 605.6,440.6 605.9,436.5 606.2,440.2 606.5,439.7 606.8,434.2 607.1,439.4 607.4,439.5 607.7,433.9 608,435.6 608.3,437.2 608.6,439.6 608.9,435 609.2,435.3 609.5,432.7 609.8,433.4 610.1,436.6 610.4,435.4 610.7,442.6 611,435.3 611.3,436 611.6,432.7 611.9,437.9 612.2,440.4 612.5,435.8 612.8,433.9 613.1,433.8 613.4,437 613.7,439.3 614,440.8 614.3,436.1 614.6,437.8 614.9,433.7 615.2,437.3 615.5,435.1 615.8,440 616.1,435.9 616.4,436.8 616.7,438.8 617,436.4 617.3,438.8 617.6,433.1 617.9,440 618.2,439.6 618.5,437 618.8,437 619.1,439 619.4,440.4 619.7,440 620,440.3 620.3,440.5 620.6,438.6 620.9,433.8 621.2,440.7 621.5,433.3 621.8,436 622.1,434.6 622.3,432.7 622.6,435.1 622.9,442.7 623.2,433.3 623.5,438.9 623.8,439.5 624.1,433.1 624.4,438 624.7,438.1 625,440.8 625.3,433.2 625.6,438.1 625.9,436.5 626.2,440.6 626.5,436.2 626.8,438.2 627.1,437.3 627.4,430.4 627.7,427.8 628,423.9 628.3,426.5 628.6,421.6 628.9,431.3 629.2,424 629.5,436.4 629.8,429 630.1,429.8 630.4,425.8 630.7,430.7 631,420.5 631.3,415.8 631.6,411 631.9,415.5 632.2,419.9 632.5,427.5 632.8,428 633.1,436.4 633.4,430.2 633.7,439.4 634,430.1 634.3,435.9 634.6,434.5 634.9,435.6 635.2,436.5 635.5,432.4 635.8,435.9 636.1,433.7 636.4,439.1 636.7,440.2 637,435.9 637.3,438.6 637.6,435.6 637.9,433.5 638.2,439.9 638.5,436.3 638.8,435.8 639.1,442.1 639.4,441.9 639.7,434.7 640,441 640.3,438.7 640.6,435.4 640.9,436.4 641.2,441.8 641.5,435.7 641.8,437.2 642.1,435.4 642.4,439.8 642.7,432.6 643,433.4 643.3,437.1 643.6,441.3 643.9,438.3 644.2,435.9 644.5,439 644.8,433.1 645.1,436.2 645.4,437.3 645.7,433.1 646,436 646.3,435.2 646.6,439.3 646.9,441.5 647.2,431.5 647.5,439.5 647.8,437.7 648.1,440.5 648.4,435.4 648.7,441.2 649,437.1 649.3,433.5 649.6,439.4 649.9,441.5 650.2,442.5 650.5,433.2 650.8,432.2 651.1,439.7 651.4,435.5 651.7,435.9 651.9,433.9 652.2,434.4 652.5,434.4 652.8,435.9 653.1,437.8 653.4,433.3 653.7,433.1 654,438.7 654.3,441.4 654.6,439.4 654.9,436.1 655.2,435.8 655.5,440.1 655.8,441.2 656.1,439.5 656.4,437.7 656.7,434.9 657,441.4 657.3,435.1 657.6,438.5 657.9,436.9 658.2,441.5 658.5,436.9 658.8,441.8 659.1,438.8 659.4,434.1 659.7,437.2 660,440.4 660.3,439.3 660.6,434.1 660.9,442.7 661.2,437.8 661.5,436.5 661.8,433.5 662.1,433.4 662.4,436.9 662.7,438.4 663,439.6 663.3,433.8 663.6,438.2 663.9,436 664.2,440.9 664.5,438.2 664.8,442 665.1,437.1 665.4,438.5 665.7,434.6 666,434.5 666.3,434 666.6,436.8 666.9,436.8 667.2,436.2 667.5,438.2 667.8,432.9 668.1,441 668.4,442.1 668.7,434.4 669,438.3 669.3,434.9 669.6,437.2 669.9,433.3 670.2,435.7 670.5,440.3 670.8,439 671.1,435.9 671.4,433.7 671.7,434 672,440.7 672.3,433.7 672.6,439.4 672.9,442.7 673.2,433.3 673.5,436.6 673.8,437.1 674.1,435.5 674.4,440.6 674.7,442 675,440.9 675.3,436.4 675.6,440.1 675.9,436.5 676.2,437.1 676.5,439.6 676.8,436.8 677.1,440 677.4,433.7 677.7,440 678,436 678.3,438.9 678.6,440.2 678.9,440.4 679.2,434.7 679.5,439 679.8,435.1 680.1,439.5 680.4,431.8 680.7,438.6 681,438.8 681.3,438.5 681.5,432.6 681.8,432.5 682.1,431.9 682.4,437.3 682.7,435.7 683,434.5 683.3,435.3 683.6,431.3 683.9,434.2 684.2,430.4 684.5,433.3 684.8,433.4 685.1,440.8 685.4,433.3 685.7,435.2 686,438.2 686.3,436 686.6,439 686.9,438.4 687.2,439.3 687.5,438.1 687.8,434.5 688.1,435.2 688.4,434.2 688.7,438 689,438.1 689.3,440.1 689.6,437.4 689.9,436 690.2,441.2 690.5,436.5 690.8,437.6 691.1,438.8 691.4,437.9 691.7,438.6 692,440.3 692.3,441.3 692.6,440.7 692.9,440.9 693.2,441 693.5,441 693.8,436.1 694.1,438.2 694.4,436 694.7,433.8 695,438.2 695.3,436.3 695.6,439.7 695.9,440.7 696.2,439.1 696.5,435.4 696.8,439.3 697.1,437.7 697.4,438.7 697.7,433.5 698,439.3 698.3,438.7 698.6,439.1 698.9,437.3 699.2,441.7 699.5,437.1 699.8,438.4 700.1,438.1 700.4,435.4 700.7,437.9 701,435.6 701.3,438.6 701.6,437.6 701.9,434.1 702.2,431.7 702.5,435.8 702.8,437.2 703.1,429 703.4,431.6 703.7,426.8 704,416.9 704.3,403.2 704.6,402 704.9,402.8 705.2,410.6 705.5,418.1 705.8,426 706.1,427.9 706.4,430.6 706.7,437 707,432.3 707.3,434 707.6,434.5 707.9,435 708.2,434.8 708.5,436 708.8,437.1 709.1,437.3 709.4,437 709.7,431.4 710,437.7 710.3,435 710.6,439.5 710.9,432.4 711.1,432.9 711.4,434.5 711.7,439 712,434.1 712.3,438.7 712.6,440 712.9,438.7 713.2,441.8 713.5,433.4 713.8,437.1 714.1,436.1 714.4,440.8 714.7,432.7 715,436.1 715.3,432.5 715.6,442 715.9,436.6 716.2,433.5 716.5,438.5 716.8,438.4 717.1,435.4 717.4,433 717.7,429.9 718,426.7 718.3,416.1 718.6,417.3 718.9,414.8 719.2,423.9 719.5,428.4 719.8,435.1 720.1,431.1 720.4,439.5 720.7,436.9 721,431.7 721.3,438.3 721.6,436 721.9,436.2 722.2,436.5 722.5,442.1 722.8,435.2 723.1,437 723.4,440.3 723.7,440 724,432.7 724.3,435.6 724.6,429.4 724.9,423.6 725.2,421.3 725.5,415.8 725.8,407.5 726.1,411.5 726.4,419.3 726.7,419.8 727,423.8 727.3,428.7 727.6,434.1 727.9,437.8 728.2,432.8 728.5,437.3 728.8,434.5 729.1,434 729.4,434 729.7,436.6 730,437.7 730.3,439.4 730.6,439.7 730.9,435.4 731.2,438.2 731.5,439 731.8,440.9 732.1,441.2 732.4,441.1 732.7,437.2 733,437.4 733.3,435.8 733.6,436.1 733.9,442.8 734.2,438.5 734.5,435.6 734.8,438 735.1,435.4 735.4,435.3 735.7,434 736,438.8 736.3,438.2 736.6,434.9 736.9,437.3 737.2,433.6 737.5,439.7 737.8,436.5 738.1,443 738.4,442.1 738.7,441.3 739,436.6 739.3,437.5 739.6,441.6 739.9,435.5 740.2,440.3 740.4,440.1 740.7,435.7 741,439.7 741.3,435.9 741.6,439.7 741.9,433.6 742.2,442.4 742.5,434.1 742.8,437.4 743.1,438 743.4,442.3 743.7,435.6 744,436.7 744.3,441.9 744.6,438.2 744.9,438.3 745.2,439.7 745.5,437.2 745.8,434.6 746.1,436.5 746.4,434.2 746.7,435.9 747,439.3 747.3,441.3 747.6,440.2 747.9,433.9 748.2,436.5 748.5,437.3 748.8,440.1 749.1,440.8 749.4,434.7 749.7,442.2 750,438.8 750.3,438.2 750.6,435.2 750.9,432.1 751.2,438.7 751.5,438 751.8,441.5 752.1,437.6 752.4,435.6 752.7,438.8 753,433 753.3,434.9 753.6,437.6 753.9,439.2 754.2,439.6 754.5,437 754.8,436.6 755.1,436.4 755.4,437.3 755.7,442.2 756,438.9 756.3,441.4 756.6,436.4 756.9,437.1 757.2,440.4 757.5,435.3 757.8,440.5 758.1,438.9 758.4,439.3 758.7,434 759,440.6 759.3,432.9 759.6,433.5 759.9,433.1 760.2,438.2 760.5,438 760.8,440.5 761.1,436.1 761.4,435.4 761.7,440.6 762,436.7 762.3,440.6 762.6,438.1 762.9,439.9 763.2,438.2 763.5,434.5 763.8,438.7 764.1,437.4 764.4,440.1 764.7,442 765,439.3 765.3,441.1 765.6,441 765.9,438.1 766.2,441.8 766.5,434 766.8,440.6 767.1,439.5 767.4,437.1 767.7,439.5 768,436.5 768.3,440.7 768.6,441.8 768.9,436.5 769.2,435.9 769.5,435.7 769.8,437 770,436.6 770.3,436.7 770.6,435.6 770.9,442.3 771.2,440.1 771.5,437.2 771.8,435 772.1,437.1 772.4,444.6 772.7,434.6 773,434.4 773.3,435 773.6,435.9 773.9,439.8 774.2,438.6 774.5,441.7 774.8,434 775.1,439.3 775.4,439.4 775.7,440 776,440.5 776.3,435.3 776.6,439.7 776.9,432.6 777.2,437.9 777.5,437.4 777.8,438 778.1,439.3 778.4,437.9 778.7,437.5 779,434.8 779.3,442.3 779.6,439.7 779.9,438.9 780.2,437.2 780.5,438 780.8,435.1 781.1,440.4 781.4,434.5 781.7,436.1 782,437.7 782.3,438.3 782.6,435.5 782.9,442.7 783.2,438.4 783.5,439.5 783.8,441.2 784.1,436.9 784.4,439.4 784.7,441.2 785,441.2 785.3,434.7 785.6,438.6 785.9,434.5 786.2,432.7 786.5,435 786.8,433.5 787.1,428.1 787.4,425.3 787.7,424.3 788,425.9 788.3,433.1 788.6,430.7 788.9,436 789.2,439.5 789.5,439.7 789.8,436.3 790.1,433 790.4,435.9 790.7,441.3 791,441.6 791.3,439 791.6,436.1 791.9,440.7 792.2,433.1 792.5,438.1 792.8,433.4 793.1,435.8 793.4,432.2 793.7,426.9 794,415.8 794.3,417 794.6,417.5 794.9,422.9 795.2,426.4 795.5,426.9 795.8,434.2 796.1,432.3 796.4,437.7 796.7,438.5 797,436.2 797.3,434.8 797.6,434 797.9,434.6 798.2,436.8 798.5,441.7 798.8,441.7 799.1,439.9 799.4,436.2 799.6,440.1 799.9,436.7 800.2,438.6 800.5,438.8 800.8,433.3 801.1,439.7 801.4,441.4 801.7,434.4 802,440.6 802.3,436.8 802.6,437.7 802.9,433.9 803.2,433 803.5,434.1 803.8,438.6 804.1,439.5 804.4,433.4 804.7,438.7 805,436 805.3,435.9 805.6,440.1 805.9,442.7 806.2,436.3 806.5,437 806.8,440.8 807.1,434 807.4,442.2 807.7,437.2 808,437.6 808.3,439.5 808.6,441.6 808.9,439.5 809.2,438.4 809.5,437.4 809.8,435.3 810.1,434.8 810.4,443.2 810.7,442.6 811,439.8 811.3,438.2 811.6,441.9 811.9,439.4 812.2,436.5 812.5,437.9 812.8,436.4 813.1,434.3 813.4,437.6 813.7,439.8 814,432.9 814.3,436.6 814.6,439.6 814.9,436 815.2,437.8 815.5,435.6 815.8,439.6 816.1,440.1 816.4,438 816.7,439.5 817,441.7 817.3,439.2 817.6,437.6 817.9,434.1 818.2,434.9 818.5,440.9 818.8,437.1 819.1,438.7 819.4,435.6 819.7,435.1 820,435 820.3,437.3 820.6,439.9 820.9,437.9 821.2,435.2 821.5,438.5 821.8,439.9 822.1,439.6 822.4,441.6 822.7,439.7 823,437.1 823.3,440.3 823.6,439.2 823.9,438.5 824.2,442.5 824.5,436.1 824.8,440 825.1,435.8 825.4,440.7 825.7,433.7 826,439.8 826.3,431.9 826.6,429.9 826.9,426.3 827.2,424.6 827.5,422.3 827.8,422.6 828.1,423.6 828.4,428.5 828.7,431.7 829,437.8 829.2,438.9 829.5,434.7 829.8,441.6 830.1,440.2 830.4,434.7 830.7,438.8 831,435.9 831.3,436.2 831.6,437.2 831.9,433.4 832.2,441.7 832.5,435.4 832.8,435.3 833.1,439.3 833.4,438.4 833.7,434.3 834,440.7 834.3,441.7 834.6,439 834.9,441 835.2,434.8 835.5,441.3 835.8,441.2 836.1,442.5 836.4,440.5 836.7,435.1 837,442.4 837.3,442.1 837.6,442.9 837.9,442.8 838.2,439.8 838.5,442.8 838.8,436.1 839.1,434.8 839.4,437.2 839.7,435.1 840,442.1 840.3,437 840.6,442.2 840.9,440.9 841.2,440.4 841.5,442.9 841.8,440.3 842.1,440.3 842.4,436.3 842.7,440.6 843,438.2 843.3,438.1 843.6,436.7" fill="none" stroke="none" marker-start="url(#b1)" marker-mid="url(#b1)" marker-end="url(#b1)"/>
<polyline points="46.5,422.8 80.6,425.4 83.3,425.3 83.9,425 84.3,424.4 84.6,423.6 85,422 85.3,420.9 85.4,420.6 85.5,420.5 85.6,420.5 85.7,420.7 85.9,421.4 86.4,423.6 86.7,424.6 87,425.2 87.5,425.8 88.7,426.3 93.6,427.2 120.9,431 160.7,433.2 174,433.7 178.2,433.6 180.1,433.2 181.4,432.5 182.2,431.8 182.8,430.9 183.2,430 183.5,429 183.8,427.8 184,426.6 184.1,425.9 184.2,425 184.3,424 184.4,422.8 184.5,421.4 184.6,419.7 184.7,417.6 184.8,415 184.9,411.9 185,408.3 185.1,403.9 185.2,398.8 185.3,392.9 185.4,386.3 185.5,378.9 185.6,370.8 185.7,362.2 185.8,353.5 185.9,345.1 186,337.6 186.1,331.7 186.2,328.2 186.3,327.5 186.4,329.7 186.5,334.6 186.6,341.4 186.7,349.5 186.9,366.8 187,375.2 187.1,382.9 187.2,389.9 187.3,396.2 187.4,401.6 187.5,406.3 187.6,410.3 187.7,413.7 187.8,416.5 187.9,418.8 188,420.7 188.1,422.2 188.2,423.5 188.3,424.6 188.4,425.5 188.6,427 188.8,428.1 189.1,429.3 189.5,430.4 190,431.4 190.7,432.3 191.7,433 193.3,433.6 196.3,434.1 203.5,434.4 216,434.5 220.3,434.3 222.2,433.8 223.2,433.3 223.9,432.5 224.3,431.8 224.6,431 224.8,430.2 225,429.1 225.1,428.4 225.2,427.5 225.3,426.4 225.4,425.1 225.5,423.5 225.6,421.7 225.7,419.5 225.8,416.9 225.9,414 226,410.8 226.1,407.2 226.2,403.3 226.4,395.5 226.5,391.8 226.6,388.8 226.7,386.8 226.8,386 226.9,386.5 227,388.3 227.1,391.1 227.2,394.7 227.5,406.4 227.6,410 227.7,413.4 227.8,416.3 227.9,419 228,421.2 228.1,423.2 228.2,424.8 228.3,426.2 228.4,427.3 228.5,428.2 228.6,429 228.8,430.2 229,431 229.3,431.8 229.8,432.7 230.5,433.4 231.7,434 233.9,434.4 238.8,434.6 245.4,434.4 249.2,434 251.3,433.4 252.7,432.7 253.7,431.8 254.4,430.8 255,429.6 255.5,428.2 255.9,426.6 256.2,425.1 256.4,423.8 256.6,422.3 256.8,420.4 256.9,419.4 257,418.2 257.1,416.8 257.2,415.3 257.3,413.6 257.4,411.7 257.5,409.4 257.6,406.7 257.7,403.5 257.8,399.6 257.9,394.8 258,388.9 258.1,381.6 258.2,372.4 258.3,361.1 258.4,347.2 258.5,330.3 258.6,310 258.7,286.3 258.8,259.1 258.9,228.8 259,195.9 259.1,162 259.2,129.3 259.3,100.8 259.4,80.2 259.5,71 259.6,74.8 259.7,90.8 259.8,116.4 259.9,147.7 260,181.5 260.1,215 260.2,246.5 260.3,275.1 260.4,300.3 260.5,322 260.6,340.3 260.7,355.4 260.8,367.8 260.9,377.8 261,385.9 261.1,392.4 261.2,397.6 261.3,401.8 261.4,405.3 261.5,408.2 261.6,410.6 261.7,412.7 261.8,414.5 261.9,416.1 262,417.5 262.1,418.7 262.3,420.8 262.5,422.6 262.7,424 263,425.7 263.3,427 263.7,428.4 264.2,429.6 264.8,430.6 265.6,431.4 266.5,431.8 267.5,431.9 268.3,431.5 269,430.8 269.5,430 269.9,429.1 270.2,428.2 270.5,426.9 270.8,425.2 271,423.7 271.2,421.8 271.3,420.7 271.4,419.3 271.5,417.8 271.6,415.9 271.7,413.7 271.8,411 271.9,407.6 272,403.4 272.1,398.2 272.2,391.7 272.3,383.7 272.4,373.9 272.5,362.1 272.6,348.2 272.7,332 272.8,313.6 272.9,293.5 273.1,250.8 273.2,231.2 273.3,215.5 273.4,206.1 273.5,204.5 273.6,211.2 273.7,224.8 273.8,243.2 273.9,264.2 274,285.7 274.1,306.4 274.2,325.5 274.3,342.5 274.4,357.4 274.5,370 274.6,380.5 274.7,389.2 274.8,396.2 274.9,401.9 275,406.5 275.1,410.1 275.2,413.1 275.3,415.5 275.4,417.5 275.5,419.2 275.6,420.7 275.7,421.9 275.8,423 276,424.8 276.2,426.2 276.5,427.9 276.8,429.1 277.2,430.4 277.7,431.6 278.4,432.6 279.3,433.5 280.7,434.3 282.9,435 286.9,435.6 295.2,436 299.7,436 301,435.7 301.5,435.4 301.8,434.9 302.1,434.1 302.4,432.9 302.7,431.1 303,429.4 303.1,429 303.2,428.7 303.3,428.7 303.4,428.9 303.5,429.2 303.7,430.3 304.1,432.7 304.4,434.1 304.7,434.9 305.1,435.5 305.8,436 307.7,436.3 317.4,436.7 347.6,437.4 360.9,437.2 365,436.8 366.9,436.3 368,435.6 368.7,434.8 369.1,434.1 369.4,433.3 369.6,432.5 369.8,431.5 369.9,430.8 370,430 370.1,429 370.2,427.8 370.3,426.3 370.4,424.6 370.5,422.6 370.6,420.1 370.7,417.3 370.8,414 370.9,410.3 371,406.2 371.1,401.8 371.3,392.4 371.4,387.9 371.5,384 371.6,381.1 371.7,379.5 371.8,379.5 371.9,381 372,383.9 372.1,387.8 372.2,392.2 372.4,401.6 372.5,406 372.6,410.1 372.7,413.8 372.8,417 372.9,419.9 373,422.3 373.1,424.4 373.2,426.1 373.3,427.5 373.4,428.7 373.5,429.7 373.6,430.5 373.8,431.7 374,432.5 374.3,433.4 374.7,434.2 375.3,434.8 376.1,435.2 377.1,435.2 378,434.8 378.7,434.1 379.2,433.3 379.6,432.3 379.9,431.3 380.1,430.4 380.3,429.2 380.4,428.4 380.5,427.6 380.6,426.5 380.7,425.3 380.8,423.8 380.9,421.9 381,419.7 381.1,417 381.2,413.8 381.3,410 381.4,405.4 381.5,400.1 381.6,394.1 381.7,387.3 381.8,379.7 381.9,371.6 382.1,354.5 382.2,346.4 382.3,339.5 382.4,334.5 382.5,332 382.6,332.4 382.7,335.5 382.8,341.1 382.9,348.3 383,356.6 383.2,373.6 383.3,381.7 383.4,389.1 383.5,395.7 383.6,401.6 383.7,406.7 383.8,411.1 383.9,414.7 384,417.8 384.1,420.4 384.2,422.5 384.3,424.3 384.4,425.7 384.5,426.9 384.6,428 384.7,428.8 384.9,430.2 385.1,431.2 385.4,432.3 385.8,433.4 386.2,434.3 386.9,435.2 388,435.9 389.7,436.5 392.9,436.9 399.6,437.1 405.7,436.9 408.6,436.5 410.2,435.9 411.2,435.1 411.9,434.2 412.4,433.1 412.8,431.9 413.1,430.6 413.3,429.4 413.4,428.6 413.5,427.7 413.6,426.7 413.7,425.4 413.8,423.9 413.9,422 414,419.8 414.1,417.1 414.2,413.8 414.3,410 414.4,405.4 414.5,400.1 414.6,393.9 414.7,387 414.8,379.3 414.9,371 415.1,353.5 415.2,345.1 415.3,337.8 415.4,332.4 415.5,329.5 415.6,329.5 415.6,332.5 415.7,337.9 415.8,345.2 415.9,353.6 416.1,371.1 416.2,379.4 416.3,387.1 416.4,394 416.5,400.1 416.6,405.4 416.7,410 416.8,413.9 416.9,417.1 417,419.8 417.1,422.1 417.2,423.9 417.3,425.4 417.4,426.7 417.5,427.7 417.6,428.6 417.8,430 418,431.1 418.3,432.3 418.7,433.4 419.2,434.4 419.9,435.2 420.9,436 422.5,436.5 425.5,437 432.8,437.3 457.4,437.4 472.5,437.2 475.6,436.9 476.9,436.4 477.6,435.9 478,435.2 478.3,434.3 478.5,433.4 478.6,432.8 478.7,432 478.8,431.2 478.9,430.1 479,429 479.1,427.6 479.2,426.1 479.4,422.8 479.6,419.4 479.7,417.9 479.8,416.8 479.9,416.1 480,416 480.1,416.5 480.2,417.5 480.3,418.8 480.5,422.2 480.7,425.5 480.8,427.1 480.9,428.5 481,429.7 481.1,430.8 481.2,431.7 481.3,432.5 481.5,433.7 481.7,434.5 482,435.3 482.4,435.8 483.2,436.4 484.7,436.7 487.4,436.8 489.5,436.5 490.6,436 491.2,435.4 491.6,434.7 491.9,433.9 492.1,433 492.2,432.4 492.3,431.7 492.4,430.9 492.5,429.9 492.6,428.7 492.7,427.3 492.8,425.6 492.9,423.8 493,421.8 493.1,419.6 493.4,412.6 493.5,410.6 493.6,409 493.7,408.1 493.8,408 493.9,408.7 494,410 494.1,411.9 494.2,414.1 494.4,418.8 494.5,421.1 494.6,423.1 494.7,425 494.8,426.7 494.9,428.1 495,429.4 495.1,430.4 495.2,431.3 495.3,432.1 495.5,433.2 495.7,433.9 496,434.6 496.5,435.2 497.3,435.7 498.3,435.6 499.1,435.3 499.6,434.7 499.9,434.1 500.1,433.4 500.3,432.5 500.4,431.9 500.5,431.1 500.6,430.2 500.7,429.2 500.8,428 500.9,426.7 501,425.1 501.2,421.7 501.4,418.1 501.5,416.5 501.6,415.2 501.7,414.3 501.8,414 501.9,414.3 502,415.1 502.1,416.3 502.2,417.8 502.5,422.6 502.6,424.1 502.7,425.4 502.8,426.4 502.9,427.3 503,428 503.1,428.5 503.2,428.8 503.3,428.9 503.4,428.8 503.5,428.5 503.6,427.9 503.7,427.1 503.8,426.1 503.9,424.8 504,423.2 504.1,421.4 504.2,419.2 504.2,416.8 504.3,414.2 504.5,408.7 504.6,406 504.7,403.7 504.8,401.9 504.9,401 505,401 505.1,402 505.2,403.8 505.3,406.2 505.4,408.9 505.6,414.7 505.7,417.5 505.8,420 505.9,422.3 506,424.3 506.1,426.1 506.2,427.6 506.3,428.9 506.4,430 506.5,430.9 506.6,431.6 506.8,432.8 507,433.5 507.3,434.3 507.8,435.1 508.6,435.7 509.9,436.2 512,436.4 514.2,436.1 515.7,435.6 516.6,434.9 517.2,434.2 517.7,433.2 518.1,432 518.4,430.7 518.6,429.5 518.7,428.8 518.8,427.9 518.9,426.8 519,425.5 519.1,423.9 519.2,422 519.3,419.7 519.4,416.9 519.5,413.6 519.6,409.7 519.7,405.1 519.8,399.9 519.9,393.9 520,387.3 520.1,380.2 520.3,365 520.4,357.8 520.5,351.4 520.6,346.6 520.7,343.9 520.8,343.8 520.9,346.1 521,350.7 521.1,356.9 521.2,364.1 521.4,379.2 521.5,386.4 521.6,393.1 521.7,399.1 521.8,404.4 521.9,409.1 522,413.1 522.1,416.4 522.2,419.3 522.3,421.6 522.4,423.5 522.5,425.1 522.6,426.5 522.7,427.5 522.8,428.4 523,429.8 523.2,430.9 523.5,431.9 523.8,432.7 524.2,433.2 524.5,433.3 524.8,433.1 525,432.7 525.2,432 525.4,431 525.6,429.7 525.9,427.5 526,426.8 526.1,426.3 526.2,426 526.3,426 526.4,426.2 526.5,426.7 526.7,428.2 527,430.7 527.2,432.1 527.4,433.3 527.6,434.1 527.9,435 528.3,435.6 529,436.1 530.6,436.6 534.4,437 548.2,437.1 586.8,437 592.3,436.7 594.1,436.4 595.1,435.8 595.7,435.2 596.1,434.5 596.4,433.5 596.6,432.5 596.7,431.8 596.8,431 596.9,430 597,428.8 597.1,427.4 597.2,425.8 597.3,424 597.4,421.9 597.5,419.7 597.8,412.2 597.9,409.9 598,407.9 598.1,406.6 598.2,406 598.3,406.3 598.4,407.4 598.5,409.1 598.6,411.3 598.9,418.8 599,421.1 599.1,423.3 599.2,425.2 599.3,426.9 599.4,428.3 599.5,429.6 599.6,430.6 599.7,431.5 599.8,432.2 600,433.3 600.2,434.1 600.5,434.8 601,435.5 601.8,436.1 603.3,436.6 606.7,436.9 618.1,436.9 623.4,436.7 625.2,436.3 626,435.9 626.4,435.4 626.7,434.7 626.9,434 627.1,433.1 627.3,431.8 627.5,430.2 627.9,426.5 628,425.8 628.1,425.3 628.2,425 628.3,425 628.4,425.4 628.5,425.9 628.7,427.5 629,429.8 629.2,431.1 629.4,431.9 629.6,432.2 629.8,432.1 629.9,431.9 630,431.6 630.1,431.1 630.2,430.4 630.3,429.6 630.4,428.6 630.5,427.4 630.6,426.1 630.7,424.6 630.9,421.1 631.1,417.5 631.2,415.9 631.3,414.7 631.4,413.9 631.5,413.8 631.6,414.2 631.7,415.2 631.8,416.7 631.9,418.4 632.2,423.9 632.3,425.6 632.4,427.1 632.5,428.5 632.6,429.7 632.7,430.7 632.8,431.6 632.9,432.3 633.1,433.4 633.3,434.2 633.6,434.9 634.1,435.6 635,436.2 636.7,436.6 641.2,436.9 678.1,437.2 681,437.1 681.7,436.7 682.1,436.3 682.5,435.4 683,434.2 683.2,434 683.4,434.2 684.2,436.1 684.6,436.6 685.2,437 687.2,437.2 696.6,437.3 699.9,437 701.3,436.6 702,436.1 702.4,435.6 702.7,434.9 702.9,434.2 703.1,433.1 703.2,432.4 703.3,431.6 703.4,430.6 703.5,429.5 703.6,428.1 703.7,426.7 703.8,425 704.1,419.7 704.2,417.9 704.3,416.5 704.4,415.5 704.5,415 704.6,415.1 704.7,415.9 704.8,417.1 704.9,418.7 705.2,424.1 705.3,425.8 705.4,427.3 705.5,428.7 705.6,430 705.7,431.1 705.8,432 705.9,432.7 706.1,433.9 706.3,434.7 706.6,435.5 707.1,436.2 708,436.7 709.7,437.1 713,437.2 715.2,437 716.2,436.6 716.7,436.1 717,435.6 717.2,435 717.4,434.2 717.6,433 717.8,431.5 718,429.5 718.4,424.9 718.5,424 718.6,423.3 718.7,423 718.8,423.1 718.9,423.6 719,424.4 719.1,425.4 719.5,429.9 719.7,431.8 719.9,433.3 720.1,434.3 720.3,435.1 720.6,435.7 721,436.2 721.7,436.5 722.6,436.4 723.3,436 723.7,435.5 724,434.8 724.2,434 724.4,432.8 724.5,432 724.6,431.1 724.7,430.1 724.8,428.8 724.9,427.5 725,425.9 725.2,422.5 725.4,419.1 725.5,417.7 725.6,416.6 725.7,416 725.8,416 725.9,416.6 726,417.7 726.1,419.1 726.5,426 726.6,427.5 726.7,428.9 726.8,430.2 726.9,431.2 727,432.1 727.1,432.9 727.3,434.1 727.5,434.9 727.8,435.7 728.2,436.3 729,436.9 730.5,437.3 734.3,437.6 757.3,438 781,438.1 784.1,437.9 785.2,437.5 785.7,437 786,436.5 786.3,435.6 786.5,434.6 786.7,433.4 787.2,429.7 787.3,429.1 787.4,428.7 787.5,428.5 787.6,428.6 787.7,429 787.8,429.5 788.3,433.2 788.5,434.4 788.7,435.4 789,436.3 789.3,436.9 789.8,437.3 790.7,437.4 791.6,437.2 792.1,436.8 792.4,436.3 792.7,435.5 792.9,434.6 793.1,433.3 793.2,432.5 793.3,431.5 793.4,430.4 793.6,427.9 793.9,423.7 794,422.5 794.1,421.5 794.2,420.9 794.3,420.7 794.4,421.1 794.5,421.8 794.6,422.9 794.8,425.7 795,428.5 795.2,430.9 795.3,431.9 795.4,432.8 795.6,434.3 795.8,435.3 796,436 796.3,436.7 796.8,437.3 797.8,437.8 799.9,438.1 807.9,438.4 821.3,438.4 824,438.2 825.1,437.7 825.6,437.3 825.9,436.7 826.1,436 826.3,435.1 826.5,433.9 826.7,432.2 826.9,430.2 827.2,426.9 827.3,426 827.4,425.4 827.5,425 827.6,425 827.7,425.4 827.8,426.1 827.9,427 828.3,431.4 828.5,433.2 828.7,434.6 828.9,435.7 829,436.4 829.3,437.1 829.8,437.7 830.8,438.2 833.2,438.5 843.8,438.8" fill="none" stroke="#000" stroke-width="2.5" stroke-linejoin="round"/>
<path d="M85.5 457.5V469.5M186.2 457.5V469.5M226.8 457.5V469.5M259.5 457.5V469.5M273.5 457.5V469.5M303.2 457.5V469.5M371.2 457.5V469.5M372.5 457.5V469.5M382.5 457.5V469.5M415.5 457.5V469.5M437.5 457.5V469.5M480 457.5V469.5M493.8 457.5V469.5M501.8 457.5V469.5M505 457.5V469.5M520.8 457.5V469.5M526.2 457.5V469.5M597.5 457.5V469.5M598.8 457.5V469.5M628.2 457.5V469.5M631.5 457.5V469.5M649.5 457.5V469.5M656.2 457.5V469.5M683.2 457.5V469.5M691.8 457.5V469.5M702.5 457.5V469.5M705 457.5V469.5M718.8 457.5V469.5M722.5 457.5V469.5M726.2 457.5V469.5M743.8 457.5V469.5M784.5 457.5V469.5M786.8 457.5V469.5M787.5 457.5V469.5M794.2 457.5V469.5M827.5 457.5V469.5M840.8 457.5V469.5M841.8 457.5V469.5" stroke="#4040ff" stroke-width="1" fill="none"/>
<path d="M46.5 535H843.8" stroke="#7f0000" stroke-width="8.8" fill="none"/>
<polyline points="46.5,537 47.7,538.9 48.9,532 50.1,537.5 51.3,527.9 52.5,535.3 53.7,538.7 54.9,537.7 56.1,539.1 57.3,539.6 58.5,541.3 59.7,530.3 60.9,535.7 62,533 63.2,537.7 64.4,531.8 65.6,534.9 66.8,539.8 68,532.9 69.2,531.9 70.4,531.3 71.6,536 72.8,536.2 74,532.4 75.2,529.4 76.4,538.1 77.6,532.6 78.8,539.5 80,535.3 81.2,529.8 82.4,540.2 83.6,530.2 84.8,538 86,538.7 87.2,531.8 88.4,534.4 89.6,541 90.8,534.9 91.9,540.6 93.1,541.1 94.3,538.8 95.5,537.6 96.7,535.1 97.9,532.9 99.1,530.4 100.3,532.8 101.5,529.8 102.7,539 103.9,534.3 105.1,530.4 106.3,533.3 107.5,532.3 108.7,535.4 109.9,538.2 111.1,531.1 112.3,533.6 113.5,532.4 114.7,538.6 115.9,529.5 117.1,540 118.3,533.7 119.5,539.9 120.6,531.7 121.8,536.7 123,537.1 124.2,532.9 125.4,535 126.6,537.1 127.8,539.6 129,538.5 130.2,530.7 131.4,536.4 132.6,531.6 133.8,530.5 135,534.2 136.2,538.8 137.4,533.2 138.6,528.3 139.8,534.2 141,534.3 142.2,538.5 143.4,537 144.6,529 145.8,529.4 147,532.8 148.2,539.7 149.4,536.6 150.5,538.6 151.7,532 152.9,535.2 154.1,539.6 155.3,534.8 156.5,530.9 157.7,537.7 158.9,537.2 160.1,536.4 161.3,531.5 162.5,537.8 163.7,537.8 164.9,538.9 166.1,539.1 167.3,534.7 168.5,535.2 169.7,532 170.9,532.7 172.1,535.5 173.3,538.2 174.5,535.3 175.7,539.2 176.9,530.7 178.1,537.6 179.3,533.4 180.4,538.9 181.6,539.9 182.8,536.2 184,530.5 185.2,534.6 186.4,533.8 187.6,532.4 188.8,534 190,537 191.2,538.7 192.4,536.6 193.6,537.9 194.8,531 196,538.7 197.2,532.3 198.4,532.6 199.6,537.6 200.8,531 202,538 203.2,538.9 204.4,537.6 205.6,541.1 206.8,539.1 208,530.9 209.1,535.4 210.3,533.6 211.5,529.7 212.7,537.6 213.9,533 215.1,527.4 216.3,538.2 217.5,530 218.7,531.3 219.9,537.5 221.1,538.7 222.3,531.4 223.5,530 224.7,530 225.9,534.4 227.1,530.7 228.3,531.1 229.5,538.5 230.7,537.7 231.9,535.7 233.1,536.3 234.3,536.5 235.5,535.1 236.7,534.6 237.9,533 239,535.2 240.2,538.7 241.4,539.9 242.6,534.3 243.8,534.6 245,536.9 246.2,534.1 247.4,536 248.6,531.4 249.8,530.6 251,531.5 252.2,533.4 253.4,538.3 254.6,535.6 255.8,529.6 257,530.2 258.2,530.4 259.4,534.3 260.6,538.3 261.8,530.9 263,540.6 264.2,533 265.4,536.1 266.6,532.2 267.8,536.1 268.9,537.7 270.1,531.9 271.3,533.6 272.5,534.3 273.7,538.6 274.9,536.9 276.1,535 277.3,539.4 278.5,533.2 279.7,531.5 280.9,538.2 282.1,535.7 283.3,533.6 284.5,534.2 285.7,537.5 286.9,533.8 288.1,535.1 289.3,529.6 290.5,533.5 291.7,538.4 292.9,536.1 294.1,530.4 295.3,530.1 296.5,537.3 297.6,528.8 298.8,532.2 300,532.6 301.2,537.9 302.4,533 303.6,540.6 304.8,536.6 306,536.8 307.2,537.3 308.4,538.9 309.6,537.4 310.8,531.7 312,531.3 313.2,535.8 314.4,535.7 315.6,529.2 316.8,538.6 318,536.7 319.2,535.7 320.4,538.8 321.6,539.7 322.8,531.1 324,534.4 325.2,534.3 326.4,530.9 327.5,532.9 328.7,528.8 329.9,539.3 331.1,529.5 332.3,534.3 333.5,537 334.7,538.2 335.9,531.5 337.1,529.5 338.3,536.2 339.5,536 340.7,531.9 341.9,540.6 343.1,539.3 344.3,529.8 345.5,534.8 346.7,534.8 347.9,531.5 349.1,532 350.3,532.4 351.5,531.1 352.7,538 353.9,538.4 355.1,537.3 356.3,533.9 357.4,530.1 358.6,540.5 359.8,538.2 361,529.9 362.2,533.2 363.4,529.3 364.6,539.4 365.8,539.3 367,539.5 368.2,537.3 369.4,529 370.6,532.1 371.8,529.2 373,540 374.2,531 375.4,530.3 376.6,537.2 377.8,531.8 379,533.2 380.2,540 381.4,536.3 382.6,533.7 383.8,539.5 385,532.3 386.1,534.2 387.3,540.3 388.5,533.1 389.7,539.8 390.9,535.4 392.1,534.9 393.3,540 394.5,539.5 395.7,537.4 396.9,534.3 398.1,537.6 399.3,533.3 400.5,531.3 401.7,535.5 402.9,540.6 404.1,535.4 405.3,537 406.5,532.4 407.7,538.8 408.9,538.1 410.1,533.1 411.3,533.9 412.5,536.7 413.7,530.1 414.9,534.1 416,541 417.2,538.5 418.4,535.4 419.6,538.2 420.8,533.1 422,530.6 423.2,532.1 424.4,537.9 425.6,534.1 426.8,540.5 428,532.1 429.2,533.8 430.4,539.7 431.6,534.7 432.8,538.8 434,537.3 435.2,536.2 436.4,533.1 437.6,539.1 438.8,533.4 440,537.8 441.2,535.5 442.4,529.7 443.6,537.3 444.8,536.3 445.9,530.4 447.1,535.2 448.3,534.8 449.5,532.8 450.7,532.6 451.9,537.5 453.1,535.5 454.3,538.5 455.5,533.3 456.7,537.2 457.9,533.4 459.1,537.8 460.3,530.1 461.5,538.9 462.7,539.8 463.9,538.8 465.1,536.3 466.3,534.1 467.5,539.5 468.7,538.9 469.9,532.9 471.1,536.9 472.3,535.9 473.5,534.2 474.7,539.1 475.8,530.4 477,538.1 478.2,539.2 479.4,532.7 480.6,536 481.8,541.1 483,538.9 484.2,532.2 485.4,536.2 486.6,531.8 487.8,527.9 489,539.5 490.2,530.7 491.4,530.9 492.6,531.8 493.8,539.7 495,539.1 496.2,534.2 497.4,535.2 498.6,539.7 499.8,534.3 501,535.8 502.2,537.6 503.4,536.9 504.5,534.6 505.7,535.6 506.9,542 508.1,536.8 509.3,539.6 510.5,535.5 511.7,537.2 512.9,541.6 514.1,539.3 515.3,537.9 516.5,538.7 517.7,540.9 518.9,531.8 520.1,536.1 521.3,534 522.5,534 523.7,536 524.9,532.8 526.1,531.5 527.3,536.5 528.5,532.4 529.7,537 530.9,530.1 532.1,540.5 533.3,537.9 534.4,540 535.6,540.4 536.8,530.2 538,534.2 539.2,531.4 540.4,535.1 541.6,531.3 542.8,533.5 544,538.6 545.2,532.8 546.4,537.9 547.6,535.1 548.8,537.9 550,540.6 551.2,541.7 552.4,534.9 553.6,532.8 554.8,532.4 556,531.7 557.2,532.5 558.4,535.6 559.6,540 560.8,539.7 562,533.4 563.2,537 564.3,530.2 565.5,532 566.7,538 567.9,533.1 569.1,539.5 570.3,533.1 571.5,534.7 572.7,535.1 573.9,531.5 575.1,535.8 576.3,537.5 577.5,537 578.7,530.2 579.9,530.3 581.1,531.6 582.3,534.4 583.5,530 584.7,533.2 585.9,535.6 587.1,537.9 588.3,529.9 589.5,535.7 590.7,537.3 591.9,531.5 593,536.7 594.2,535.9 595.4,534.7 596.6,540.2 597.8,531.5 599,537.2 600.2,530.2 601.4,533.4 602.6,532.8 603.8,537.1 605,534.9 606.2,530.2 607.4,533.1 608.6,540 609.8,531.2 611,538.7 612.2,535 613.4,530.9 614.6,529.8 615.8,531.9 617,534.4 618.2,538.4 619.4,539.9 620.6,532.9 621.8,535.2 622.9,539.9 624.1,535.8 625.3,532.4 626.5,533.5 627.7,536.5 628.9,536.9 630.1,530.1 631.3,532.5 632.5,534.1 633.7,533.8 634.9,535.9 636.1,539.2 637.3,530.8 638.5,533.6 639.7,537.7 640.9,531.3 642.1,533.2 643.3,539.7 644.5,532.7 645.7,538.6 646.9,539.1 648.1,540.1 649.3,538 650.5,540.2 651.7,531.9 652.8,539.5 654,538 655.2,535 656.4,538.1 657.6,538 658.8,530.1 660,537.4 661.2,531.4 662.4,534.6 663.6,538.3 664.8,536.3 666,539.1 667.2,536.8 668.4,533.3 669.6,530.2 670.8,529.7 672,537.1 673.2,531.7 674.4,532.2 675.6,537.4 676.8,532.7 678,536.4 679.2,533.2 680.4,536.7 681.5,536.1 682.7,539.1 683.9,534.4 685.1,534 686.3,532.6 687.5,531.9 688.7,532.3 689.9,531.1 691.1,530.9 692.3,534.7 693.5,533.3 694.7,529.4 695.9,534.7 697.1,535.4 698.3,535.8 699.5,530.4 700.7,531.4 701.9,539.3 703.1,529.5 704.3,531.2 705.5,536.2 706.7,537 707.9,538.9 709.1,533.5 710.3,535.4 711.4,532 712.6,532.8 713.8,538.7 715,534.8 716.2,538.1 717.4,530.9 718.6,535.4 719.8,540.7 721,534.8 722.2,537.9 723.4,530 724.6,530.9 725.8,537.5 727,529.8 728.2,532.8 729.4,539.9 730.6,529.4 731.8,532.1 733,539.1 734.2,535.6 735.4,534.7 736.6,533.8 737.8,536.9 739,533.2 740.2,537.8 741.3,537.4 742.5,540.3 743.7,532 744.9,528.6 746.1,539.8 747.3,531.7 748.5,536.7 749.7,536.3 750.9,535.2 752.1,534.5 753.3,529.4 754.5,530.2 755.7,531.9 756.9,533.9 758.1,535.7 759.3,534.2 760.5,539.7 761.7,529.5 762.9,535.7 764.1,535.9 765.3,536.6 766.5,533.8 767.7,535.4 768.9,535.5 770,534 771.2,538.5 772.4,531.8 773.6,531.7 774.8,539.5 776,538.4 777.2,530.3 778.4,533.7 779.6,531.5 780.8,530.2 782,534.9 783.2,533.3 784.4,538.2 785.6,532.3 786.8,536.8 788,538.9 789.2,537.6 790.4,539.6 791.6,540.7 792.8,540.6 794,531 795.2,535.4 796.4,535.1 797.6,530.4 798.8,537 799.9,533 801.1,538.9 802.3,531.2 803.5,531.2 804.7,534.1 805.9,539.8 807.1,533.1 808.3,534.6 809.5,540.9 810.7,529.2 811.9,541.5 813.1,537.3 814.3,530.7 815.5,534.9 816.7,531.9 817.9,534.1 819.1,532.6 820.3,536.4 821.5,539.8 822.7,531.1 823.9,539.7 825.1,532.5 826.3,529.5 827.5,533 828.7,532.1 829.8,531.1 831,535.2 832.2,537.9 833.4,534.6 834.6,538.6 835.8,535.2 837,537.7 838.2,534.5 839.4,534 840.6,540.1 841.8,533 843,537.9" fill="none" stroke="#7f0000" stroke-width="3" stroke-linejoin="round"/>
<path d="M83.3 533.9L84.4 534L85.1 527L86.1 542L86.8 535.7L87.9 535.1M184.1 535.2L185.2 531.3L185.9 504.5L186.9 548.7L187.6 536.4L188.7 533.2M224.6 534.4L225.7 533.6L226.4 523L227.4 546L228.1 536.1L229.2 533.9M257.3 535.8L258.4 523.2L259.1 459L260.1 606L260.8 542.1L261.9 533.7M271.3 533.3L272.4 527.3L273.1 483L274.1 567.5L274.8 538.2L275.9 536.8M369.6 535.3L370.6 532.6L371.4 515L372.4 547.5L373.1 536.2L374.1 533.3M380.3 535.9L381.4 530.3L382.1 496L383.1 562.5L383.8 537.8L384.9 533.6M413.3 534L414.4 529.7L415.1 491L416.1 562L416.8 537.7L417.9 534.2M477.8 535.8L478.9 533.7L479.6 524L480.6 545L481.3 536L482.4 534.9M491.6 533.9L492.6 533.8L493.4 525L494.4 545L495.1 536L496.1 534.8M502.8 533.5L503.9 533L504.6 518L505.6 546L506.3 536.1L507.4 536.7M518.5 535.3L519.6 529.4L520.4 488L521.4 548.8L522 536.4L523.1 534.9M596 534.3L597.1 533.6L597.9 523L598.9 545L599.5 536L600.6 533.2M629.3 536L630.4 533.9L631.1 526L632.1 544L632.8 535.9L633.9 535.2M702.3 536.1L703.4 533.3L704.1 521L705.1 545L705.8 536L706.9 536.2M723.5 533.3L724.6 533.4L725.4 522L726.4 545L727 536L728.1 535.6M792 533.2L793.1 533.9L793.9 526L794.9 544L795.5 535.9L796.6 535.7M825.3 534.8L826.4 533.9L827.1 526L828.1 543L828.8 535.8L829.9 534.9" fill="none" stroke="#7f0000" stroke-width="2.5" stroke-linejoin="round" stroke-linecap="round"/>
<path d="M257.9 459L258.8 437L259.5 437L260.4 459ZM271.9 483L272.8 471L273.5 471L274.4 483Z" fill="#7f0000"/>
</g>
<rect x="46.5" y="7.4" width="797.3" height="631" fill="none" stroke="#000" stroke-width="4.4"/>
<text transform="translate(46.5 667.1)" font-size="22" text-anchor="middle">10</text>
<text transform="translate(146.2 667.1)" font-size="22" text-anchor="middle">20</text>
<text transform="translate(245.8 667.1)" font-size="22" text-anchor="middle">30</text>
<text transform="translate(345.5 667.1)" font-size="22" text-anchor="middle">40</text>
<text transform="translate(445.1 667.1)" font-size="22" text-anchor="middle">50</text>
<text transform="translate(544.8 667.1)" font-size="22" text-anchor="middle">60</text>
<text transform="translate(644.5 667.1)" font-size="22" text-anchor="middle">70</text>
<text transform="translate(744.1 667.1)" font-size="22" text-anchor="middle">80</text>
<text transform="translate(843.8 667.1)" font-size="22" text-anchor="middle">90</text>
<text transform="translate(445.1 711.5)" font-size="27" text-anchor="middle">2<tspan font-family='"Liberation Serif", "DejaVu Serif", serif' font-size="25.6">θ</tspan> (degree)</text>
<text transform="translate(20 328.6) rotate(-90)" font-size="27.4" text-anchor="middle">Intensity (arb.units)</text>
<rect x="591.1" y="22.4" width="174.3" height="92.7" fill="#fff" stroke="#3a3a3a" stroke-width="1.1"/>
<path d="M593.9 35.6H634.6" stroke="#000" stroke-width="0.9"/>
<ellipse cx="614.2" cy="35.6" rx="8" ry="8" fill="url(#rg)"/>
<path d="M593.9 58H634.6" stroke="#000" stroke-width="2.8"/>
<path d="M614.2 73V87.8" stroke="#0000ff" stroke-width="1.3"/>
<path d="M593.9 102.4H634.6" stroke="#7d0000" stroke-width="2.8"/>
<text transform="translate(639.6 41.7) scale(1 0.985)" font-size="18.6">Yobs</text>
<text transform="translate(639.6 64) scale(1 0.985)" font-size="18.6">Ycalc</text>
<text transform="translate(639.6 86.4) scale(1 0.985)" font-size="18.6">Bragg_position</text>
<text transform="translate(639.6 108.5) scale(1 0.985)" font-size="18.6">Yobs-Ycalc</text>
<text transform="translate(607.1 179.9)"><tspan font-size="27.2" dy="0">La</tspan><tspan font-size="16.3" dy="10.7">2</tspan><tspan font-size="27.2" dy="-10.7">NiO</tspan><tspan font-size="16.3" dy="10.7">4</tspan></text>
<marker id="b2" markerUnits="userSpaceOnUse" markerWidth="15.2" markerHeight="16.2" refX="7.6" refY="8.1" overflow="visible"><ellipse cx="7.6" cy="8.1" rx="6.6" ry="7.1" fill="url(#rg)"/></marker>
<clipPath id="c2"><rect x="906.4" y="2" width="804.6" height="639.9"/></clipPath>
<path d="M907.9 32.6h10.6M1709.5 32.6h-10.6M907.9 63.1h5.6M1709.5 63.1h-5.6M907.9 93.5h10.6M1709.5 93.5h-10.6M907.9 124h5.6M1709.5 124h-5.6M907.9 154.5h10.6M1709.5 154.5h-10.6M907.9 184.9h5.6M1709.5 184.9h-5.6M907.9 215.4h10.6M1709.5 215.4h-10.6M907.9 245.9h5.6M1709.5 245.9h-5.6M907.9 276.4h10.6M1709.5 276.4h-10.6M907.9 306.8h5.6M1709.5 306.8h-5.6M907.9 337.3h10.6M1709.5 337.3h-10.6M907.9 367.8h5.6M1709.5 367.8h-5.6M907.9 398.2h10.6M1709.5 398.2h-10.6M907.9 428.7h5.6M1709.5 428.7h-5.6M907.9 459.2h10.6M1709.5 459.2h-10.6M907.9 489.6h5.6M1709.5 489.6h-5.6M907.9 520.1h10.6M1709.5 520.1h-10.6M907.9 550.6h5.6M1709.5 550.6h-5.6M907.9 581.1h10.6M1709.5 581.1h-10.6M907.9 611.5h5.6M1709.5 611.5h-5.6M965.2 2v5.6M965.2 641.9v-5.6M1022.4 2v10.6M1022.4 641.9v-10.6M1079.7 2v5.6M1079.7 641.9v-5.6M1136.9 2v10.6M1136.9 641.9v-10.6M1194.2 2v5.6M1194.2 641.9v-5.6M1251.4 2v10.6M1251.4 641.9v-10.6M1308.7 2v5.6M1308.7 641.9v-5.6M1366 2v10.6M1366 641.9v-10.6M1423.2 2v5.6M1423.2 641.9v-5.6M1480.5 2v10.6M1480.5 641.9v-10.6M1537.7 2v5.6M1537.7 641.9v-5.6M1595 2v10.6M1595 641.9v-10.6M1652.2 2v5.6M1652.2 641.9v-5.6" stroke="#000" stroke-width="4.2" fill="none"/>
<g clip-path="url(#c2)">
<path d="M1069.1 349.9L1069.2 342.1M1069.5 342.1L1069.6 355.9M1071.2 418.7L1071.3 422.4M1150.2 418L1150.4 388.1M1150.6 367.9L1150.7 361.3M1150.8 341.2L1151.1 282.6M1151.2 262.4L1151.4 247.6M1151.6 227.4L1151.7 218.1M1151.9 197.9L1152.1 146.8M1152.2 126.7L1152.5 74.3M1152.5 74.3L1152.8 138.7M1152.9 158.8L1153.1 207.4M1153.3 227.6L1153.4 248.2M1153.6 268.3L1153.8 322.4M1154 342.6L1154.1 350.9M1154.3 371.1L1154.5 403.9M1159.1 436.3L1159.3 383.2M1166.7 415.7L1166.9 390.1M1167.1 369.9L1167.2 361.3M1167.3 341.2L1167.6 309.3M1167.7 289.2L1167.9 274.6M1168.1 254.4L1168.2 247.1M1168.4 226.9L1168.5 214.6M1168.7 194.4L1168.9 165.3M1169.1 165.3L1169.3 199.9M1169.4 220.1L1169.6 245.4M1169.8 265.6L1169.9 275.4M1170.1 295.6L1170.3 317.4M1170.5 337.6L1170.6 357.9M1170.8 378.1L1171 393.7M1293.8 368.1L1293.9 361.4M1294.8 344.8L1295 355.4M1295.6 393.6L1295.6 398.3" fill="none" stroke="#000" stroke-width="1"/>
<polyline points="907.9,428 908.2,431.9 908.6,430.6 908.9,424.9 909.3,423.7 909.6,430.7 910,425.6 910.3,428.4 910.6,430.9 911,429.5 911.3,421.1 911.7,434.6 912,434.6 912.4,424.7 912.7,430.7 913.1,434.6 913.4,431.7 913.7,424.9 914.1,427.1 914.4,427.9 914.8,432.3 915.1,431.6 915.5,422.3 915.8,424.7 916.1,433.6 916.5,427 916.8,429.2 917.2,426.3 917.5,434.7 917.9,428.2 918.2,431.7 918.5,430.8 918.9,425 919.2,428.7 919.6,423.7 919.9,423.5 920.3,432.2 920.6,428.6 921,424.9 921.3,431.3 921.6,430.2 922,430.8 922.3,430.8 922.7,431.6 923,426.7 923.4,426.2 923.7,429.5 924,426.1 924.4,428.4 924.7,433.3 925.1,433 925.4,430.6 925.8,434 926.1,431.8 926.5,425.7 926.8,424.9 927.1,429 927.5,432.7 927.8,426.4 928.2,427.4 928.5,434.2 928.9,424.3 929.2,434 929.5,426.9 929.9,428.9 930.2,435.2 930.6,427.3 930.9,428.5 931.3,436.1 931.6,426 931.9,425.7 932.3,431.2 932.6,432.7 933,430.2 933.3,426.4 933.7,433.1 934,426.5 934.4,424.5 934.7,429.3 935,436 935.4,432.7 935.7,428.3 936.1,424.7 936.4,426.2 936.8,431.5 937.1,431.3 937.4,429.4 937.8,426.3 938.1,433.2 938.5,430.2 938.8,431.4 939.2,429.6 939.5,423.7 939.8,430 940.2,429.7 940.5,425.4 940.9,425.1 941.2,430 941.6,434.3 941.9,430.2 942.3,431 942.6,429 942.9,429.4 943.3,428.9 943.6,427.5 944,426.5 944.3,431.5 944.7,432.2 945,427.1 945.3,430.9 945.7,431.8 946,437.1 946.4,433.3 946.7,431.4 947.1,430.6 947.4,426.7 947.8,434.9 948.1,433.2 948.4,432.7 948.8,427.4 949.1,431.9 949.5,428.5 949.8,433.9 950.2,429.5 950.5,428.2 950.8,429.1 951.2,434 951.5,433.7 951.9,425.9 952.2,424.9 952.6,421.9 952.9,420.3 953.2,416 953.6,419.2 953.9,417.3 954.3,420.6 954.6,424.7 955,432.3 955.3,434.9 955.7,429.3 956,426.9 956.3,436.1 956.7,433.3 957,437.1 957.4,431.8 957.7,428.2 958.1,428.5 958.4,431.3 958.7,427.7 959.1,432.9 959.4,434.5 959.8,433.5 960.1,435.6 960.5,434.6 960.8,427.9 961.1,427.2 961.5,427.3 961.8,431 962.2,433.7 962.5,433.3 962.9,432 963.2,436.1 963.6,428.4 963.9,428.9 964.2,429 964.6,435.9 964.9,429.7 965.3,432.8 965.6,438.2 966,429.6 966.3,429.4 966.6,429.7 967,431.1 967.3,433.3 967.7,430 968,435.7 968.4,435.1 968.7,434.7 969.1,431 969.4,430.4 969.7,435.1 970.1,431.1 970.4,438.2 970.8,436.7 971.1,429 971.5,431.1 971.8,431.1 972.1,436.9 972.5,434.1 972.8,431.1 973.2,430 973.5,432.1 973.9,437.4 974.2,435.2 974.5,438.3 974.9,433.6 975.2,439.7 975.6,434.8 975.9,437.7 976.3,431.2 976.6,430.7 977,438.3 977.3,429.9 977.6,437.1 978,439.6 978.3,432.1 978.7,431.9 979,434.2 979.4,435.7 979.7,430.1 980,435.9 980.4,431 980.7,430.5 981.1,432.6 981.4,433 981.8,434.3 982.1,436.2 982.4,435.1 982.8,431.9 983.1,433.5 983.5,434.7 983.8,437.6 984.2,434.4 984.5,439.1 984.9,434.8 985.2,438.7 985.5,435.3 985.9,430.8 986.2,430 986.6,434.1 986.9,441.8 987.3,432.6 987.6,433.9 987.9,437.1 988.3,433.5 988.6,438.1 989,430.1 989.3,438 989.7,432.3 990,440 990.4,437.7 990.7,437.9 991,435.4 991.4,432.4 991.7,433.3 992.1,440.2 992.4,434.1 992.8,430.7 993.1,437.1 993.4,436.8 993.8,436.8 994.1,431.2 994.5,431.7 994.8,438 995.2,436.2 995.5,440 995.8,431.6 996.2,434.9 996.5,431.9 996.9,431.5 997.2,430.3 997.6,431.3 997.9,433.2 998.3,437.1 998.6,435.3 998.9,435.9 999.3,436.6 999.6,433 1000,438.9 1000.3,439.2 1000.7,435.7 1001,431.5 1001.3,439.6 1001.7,436.1 1002,431.3 1002.4,438 1002.7,435.1 1003.1,430.5 1003.4,438.9 1003.7,436.2 1004.1,432.6 1004.4,433.6 1004.8,431.3 1005.1,432.4 1005.5,437.5 1005.8,434.4 1006.2,430.3 1006.5,432.6 1006.8,441.6 1007.2,440 1007.5,437 1007.9,430.5 1008.2,439.6 1008.6,437.9 1008.9,436.7 1009.2,440.3 1009.6,440.2 1009.9,440.1 1010.3,433.5 1010.6,437.3 1011,440.1 1011.3,434.7 1011.6,433.7 1012,435 1012.3,432.4 1012.7,436.8 1013,437.4 1013.4,432 1013.7,432.4 1014.1,432 1014.4,434.6 1014.7,436 1015.1,439 1015.4,439.8 1015.8,431.8 1016.1,437.6 1016.5,438 1016.8,442.5 1017.1,437 1017.5,434.9 1017.8,436.8 1018.2,436.8 1018.5,437.9 1018.9,443.1 1019.2,438.6 1019.6,437.9 1019.9,437.3 1020.2,437.1 1020.6,439.3 1020.9,432.9 1021.3,440.2 1021.6,439.8 1022,433.6 1022.3,436 1022.6,439.9 1023,437.8 1023.3,435.3 1023.7,435.9 1024,432.2 1024.4,434.2 1024.7,442 1025,439.1 1025.4,438.9 1025.7,433.4 1026.1,433.8 1026.4,435.8 1026.8,441.6 1027.1,434.4 1027.5,433.4 1027.8,440.8 1028.1,441 1028.5,441.4 1028.8,433.9 1029.2,437.7 1029.5,434.6 1029.9,438.7 1030.2,437.2 1030.5,435.1 1030.9,440 1031.2,438 1031.6,432.2 1031.9,436.8 1032.3,438.5 1032.6,439.4 1032.9,436.4 1033.3,432.4 1033.6,438.7 1034,441.7 1034.3,435.2 1034.7,438.9 1035,440.3 1035.4,443 1035.7,436.1 1036,440.2 1036.4,437.5 1036.7,435.7 1037.1,436.9 1037.4,431.4 1037.8,434.4 1038.1,435.3 1038.4,436.7 1038.8,438.6 1039.1,435.6 1039.5,439.5 1039.8,437.8 1040.2,435.3 1040.5,437.3 1040.9,438.8 1041.2,437.5 1041.5,433.2 1041.9,439.8 1042.2,441.9 1042.6,435.9 1042.9,438.8 1043.3,440.8 1043.6,435.3 1043.9,442.3 1044.3,440.1 1044.6,443.7 1045,437.1 1045.3,436.5 1045.7,436.3 1046,442.5 1046.3,438.9 1046.7,437.4 1047,436 1047.4,442.2 1047.7,442.8 1048.1,443.2 1048.4,436.2 1048.8,440.9 1049.1,437.9 1049.4,435.4 1049.8,437 1050.1,444 1050.5,433 1050.8,434.7 1051.2,437.3 1051.5,433.5 1051.8,434.4 1052.2,443.9 1052.5,436.1 1052.9,439.7 1053.2,440.3 1053.6,435.6 1053.9,439.4 1054.2,434.8 1054.6,440 1054.9,442.5 1055.3,436.1 1055.6,434.6 1056,434.6 1056.3,439.4 1056.7,437.1 1057,432.6 1057.3,433.7 1057.7,437.7 1058,431.1 1058.4,430.3 1058.7,426 1059.1,426.4 1059.4,422.1 1059.7,420.1 1060.1,429.7 1060.4,422.9 1060.8,422.4 1061.1,423.4 1061.5,429.9 1061.8,428.2 1062.2,433.9 1062.5,429.9 1062.8,432.7 1063.2,439.9 1063.5,436.5 1063.9,441.5 1064.2,439.7 1064.6,442.2 1064.9,437.6 1065.2,440.3 1065.6,436.9 1065.9,439.1 1066.3,435.8 1066.6,437.9 1067,439.4 1067.3,433.4 1067.6,426 1068,410 1068.3,392 1068.7,376 1069,360 1069.4,332 1069.7,366 1070.1,383 1070.4,400 1070.7,418 1071.1,408.6 1071.4,432.5 1071.8,438.8 1072.1,435.5 1072.5,440.1 1072.8,438.3 1073.1,437.6 1073.5,440.1 1073.8,439.2 1074.2,435.3 1074.5,439.1 1074.9,438.7 1075.2,442.7 1075.5,439.4 1075.9,434.1 1076.2,436.6 1076.6,434.5 1076.9,438.1 1077.3,440.9 1077.6,441.5 1078,433.1 1078.3,441.3 1078.6,434.6 1079,435.4 1079.3,432.9 1079.7,441.1 1080,440.9 1080.4,439.9 1080.7,438 1081,437 1081.4,441.3 1081.7,435.7 1082.1,436.5 1082.4,440.6 1082.8,442 1083.1,437.4 1083.5,435.7 1083.8,434.2 1084.1,438.2 1084.5,438.9 1084.8,440.7 1085.2,435.7 1085.5,435 1085.9,436.3 1086.2,437.5 1086.5,433.4 1086.9,435.2 1087.2,440.1 1087.6,433.3 1087.9,433.9 1088.3,437.5 1088.6,433.6 1088.9,437.8 1089.3,435.9 1089.6,441.6 1090,438.9 1090.3,441.1 1090.7,437.4 1091,433.5 1091.4,437.3 1091.7,435.5 1092,439.7 1092.4,436.9 1092.7,439.5 1093.1,438 1093.4,437 1093.8,444.7 1094.1,442.8 1094.4,438.4 1094.8,438.2 1095.1,434.8 1095.5,437.1 1095.8,442.2 1096.2,435.2 1096.5,440.5 1096.8,436.6 1097.2,436.4 1097.5,439.2 1097.9,436.7 1098.2,440.4 1098.6,440.6 1098.9,441.8 1099.3,437.8 1099.6,438.9 1099.9,440.1 1100.3,441.8 1100.6,438.5 1101,445 1101.3,439.1 1101.7,437.4 1102,441.6 1102.3,435.6 1102.7,444.3 1103,438.8 1103.4,439.6 1103.7,437.2 1104.1,440 1104.4,444.5 1104.8,437 1105.1,433.7 1105.4,439.6 1105.8,442.3 1106.1,433.4 1106.5,443.3 1106.8,436.2 1107.2,437.6 1107.5,442.9 1107.8,435.9 1108.2,442.6 1108.5,438 1108.9,443.4 1109.2,439.9 1109.6,435.5 1109.9,438.3 1110.2,444.8 1110.6,439.1 1110.9,436.3 1111.3,442.8 1111.6,441.3 1112,439.7 1112.3,439.1 1112.7,435.9 1113,431.9 1113.3,431 1113.7,431 1114,426.1 1114.4,419.9 1114.7,407.7 1115.1,394.6 1115.4,387.5 1115.7,393.5 1116.1,403.8 1116.4,415 1116.8,419.7 1117.1,428.3 1117.5,434.6 1117.8,433.2 1118.1,437.9 1118.5,436.9 1118.8,443 1119.2,439.6 1119.5,437 1119.9,437.5 1120.2,435.8 1120.6,437.3 1120.9,440.5 1121.2,437.6 1121.6,436.8 1121.9,435.5 1122.3,439.6 1122.6,437.1 1123,439.4 1123.3,436.3 1123.6,440.6 1124,443.4 1124.3,439.7 1124.7,445.4 1125,440.2 1125.4,439.5 1125.7,436.8 1126,442.8 1126.4,445.4 1126.7,438.2 1127.1,436.4 1127.4,439.3 1127.8,442 1128.1,439.6 1128.5,441.8 1128.8,442.8 1129.1,446.1 1129.5,446.1 1129.8,444.7 1130.2,443.9 1130.5,439.8 1130.9,439.4 1131.2,437.9 1131.5,442.8 1131.9,443.7 1132.2,437.4 1132.6,441.1 1132.9,442.4 1133.3,439.3 1133.6,440.7 1134,440.5 1134.3,439.6 1134.6,442.1 1135,440.4 1135.3,437.2 1135.7,438.5 1136,441.9 1136.4,446.6 1136.7,436.7 1137,444.8 1137.4,437.5 1137.7,447.1 1138.1,438.5 1138.4,445.9 1138.8,445.7 1139.1,438.3 1139.4,444.4 1139.8,440.3 1140.1,439.6 1140.5,439.2 1140.8,442.9 1141.2,444.7 1141.5,438.4 1141.9,439.3 1142.2,443.6 1142.5,439.5 1142.9,440.3 1143.2,436.1 1143.6,441.6 1143.9,442.7 1144.3,443 1144.6,438.3 1144.9,441 1145.3,439 1145.6,439.4 1146,441.1 1146.3,440.4 1146.7,446.1 1147,444 1147.3,440.3 1147.7,440 1148,446.2 1148.4,444.3 1148.7,440.2 1149.1,442.1 1149.4,440.5 1149.8,437.5 1150.1,428.1 1150.4,378 1150.8,351.2 1151.1,272.5 1151.5,237.5 1151.8,208 1152.2,136.8 1152.5,64.2 1152.8,148.8 1153.2,217.5 1153.5,258.2 1153.9,332.5 1154.2,361 1154.6,414 1154.9,417.5 1155.3,423 1155.6,428.1 1155.9,434.2 1156.3,441.9 1156.6,442.6 1157,439.2 1157.3,440 1157.7,445.9 1158,440.8 1158.3,441.2 1158.7,439.9 1159,446.4 1159.4,373.1 1159.7,385.4 1160.1,386.2 1160.4,398.8 1160.7,410.8 1161.1,415.5 1161.4,423.9 1161.8,426.9 1162.1,424 1162.5,446.1 1162.8,445.8 1163.2,442.7 1163.5,444.6 1163.8,441.8 1164.2,441.9 1164.5,444.7 1164.9,441.8 1165.2,440.1 1165.6,440.4 1165.9,439.2 1166.2,433 1166.6,425.8 1166.9,380 1167.3,351.2 1167.6,299.2 1168,264.5 1168.3,237 1168.6,204.5 1169,155.2 1169.3,210 1169.7,255.5 1170,285.5 1170.4,327.5 1170.7,368 1171.1,403.8 1171.4,424.7 1171.7,431.1 1172.1,439.8 1172.4,444.1 1172.8,439.1 1173.1,444.6 1173.5,443.4 1173.8,440 1174.1,441.3 1174.5,439.8 1174.8,445.2 1175.2,438.6 1175.5,443.1 1175.9,440.5 1176.2,439.9 1176.6,441.7 1176.9,441.1 1177.2,440.8 1177.6,439.9 1177.9,438 1178.3,443.4 1178.6,440.9 1179,444.2 1179.3,438.1 1179.6,443.1 1180,444.2 1180.3,444.2 1180.7,443.9 1181,438 1181.4,438.6 1181.7,439.2 1182,439.2 1182.4,444 1182.7,438.2 1183.1,445.7 1183.4,442.2 1183.8,439.3 1184.1,440 1184.5,441.9 1184.8,442.8 1185.1,438.6 1185.5,446.4 1185.8,440.7 1186.2,445.2 1186.5,442.3 1186.9,445.4 1187.2,437 1187.5,441.4 1187.9,437 1188.2,446 1188.6,443.4 1188.9,437.1 1189.3,443 1189.6,444.4 1189.9,444.5 1190.3,444.3 1190.6,440.9 1191,439.7 1191.3,443.3 1191.7,444.3 1192,442.4 1192.4,437.6 1192.7,439.5 1193,443.1 1193.4,443 1193.7,438.7 1194.1,445.1 1194.4,439.6 1194.8,445.5 1195.1,441.2 1195.4,444.4 1195.8,445 1196.1,445.6 1196.5,441.8 1196.8,441.4 1197.2,444.6 1197.5,441.2 1197.9,445.5 1198.2,441.5 1198.5,444.8 1198.9,441.1 1199.2,443.6 1199.6,445.2 1199.9,443.2 1200.3,446.4 1200.6,445.1 1200.9,445.2 1201.3,443.6 1201.6,440.3 1202,443 1202.3,441.7 1202.7,444.1 1203,440.2 1203.3,441.6 1203.7,435 1204,436.7 1204.4,437.6 1204.7,439.9 1205.1,445.5 1205.4,440.4 1205.8,444.7 1206.1,440.1 1206.4,442.4 1206.8,442.5 1207.1,437.7 1207.5,438.8 1207.8,439.2 1208.2,442.2 1208.5,438.8 1208.8,439.9 1209.2,446.5 1209.5,442.7 1209.9,437.6 1210.2,438.2 1210.6,438.9 1210.9,438.9 1211.2,442.9 1211.6,443.3 1211.9,441.9 1212.3,440.1 1212.6,445 1213,440.4 1213.3,441.2 1213.7,447.5 1214,439.1 1214.3,444.4 1214.7,444.9 1215,439.5 1215.4,439.7 1215.7,442 1216.1,446.1 1216.4,443.9 1216.7,447.4 1217.1,441.1 1217.4,441.9 1217.8,445.2 1218.1,442.4 1218.5,445.1 1218.8,439.6 1219.1,447.9 1219.5,441.6 1219.8,439.7 1220.2,443.4 1220.5,445.7 1220.9,442.4 1221.2,442.2 1221.6,439.7 1221.9,443.9 1222.2,446.6 1222.6,438.8 1222.9,443.7 1223.3,443.2 1223.6,445.7 1224,444.2 1224.3,445.6 1224.6,446.2 1225,442 1225.3,441.8 1225.7,438.7 1226,446.5 1226.4,445.5 1226.7,446.1 1227.1,444.8 1227.4,439.1 1227.7,442.8 1228.1,446.4 1228.4,443.1 1228.8,440.7 1229.1,443.6 1229.5,447.3 1229.8,439.7 1230.1,445.3 1230.5,444.3 1230.8,442 1231.2,442.5 1231.5,446.1 1231.9,441.2 1232.2,440 1232.5,442 1232.9,437.5 1233.2,444.6 1233.6,443.6 1233.9,442.8 1234.3,444.1 1234.6,440 1235,441 1235.3,439.1 1235.6,444.3 1236,440.7 1236.3,445.3 1236.7,445.1 1237,443.3 1237.4,442.7 1237.7,445.4 1238,440.3 1238.4,443.4 1238.7,443 1239.1,443.5 1239.4,442.9 1239.8,441.5 1240.1,438.7 1240.4,446.4 1240.8,447.8 1241.1,445.5 1241.5,440.3 1241.8,440.3 1242.2,444.1 1242.5,446.4 1242.9,445.4 1243.2,440.3 1243.5,441.8 1243.9,447.9 1244.2,440 1244.6,441.8 1244.9,445.8 1245.3,445.5 1245.6,443.9 1245.9,439.7 1246.3,445 1246.6,440.6 1247,441.1 1247.3,441.8 1247.7,442.3 1248,445.6 1248.4,446.3 1248.7,441 1249,443.1 1249.4,446.5 1249.7,443.3 1250.1,439.1 1250.4,438.8 1250.8,442.2 1251.1,445.2 1251.4,447.2 1251.8,447.9 1252.1,440 1252.5,440.8 1252.8,447.4 1253.2,445.3 1253.5,446.3 1253.8,446.1 1254.2,444.6 1254.5,444.1 1254.9,442.8 1255.2,440.5 1255.6,446.4 1255.9,441.2 1256.3,441 1256.6,441.4 1256.9,441.6 1257.3,441.7 1257.6,443.7 1258,440.8 1258.3,440.8 1258.7,442.3 1259,441.1 1259.3,447.8 1259.7,447.7 1260,443.9 1260.4,442.6 1260.7,447.4 1261.1,443.2 1261.4,442.1 1261.7,447.8 1262.1,444 1262.4,442.3 1262.8,442.9 1263.1,438.9 1263.5,444.4 1263.8,449.1 1264.2,441.9 1264.5,448.1 1264.8,439.8 1265.2,441.1 1265.5,443.4 1265.9,441.5 1266.2,443 1266.6,445.4 1266.9,446.3 1267.2,440.8 1267.6,444.1 1267.9,445.7 1268.3,438.4 1268.6,441.4 1269,437.7 1269.3,446.4 1269.7,443.5 1270,446.9 1270.3,445.8 1270.7,443.1 1271,441.6 1271.4,442 1271.7,439 1272.1,446.8 1272.4,446.8 1272.7,446.6 1273.1,446.1 1273.4,438.9 1273.8,446.4 1274.1,443 1274.5,446.9 1274.8,443.5 1275.1,437.7 1275.5,445.9 1275.8,439 1276.2,442.4 1276.5,443 1276.9,438.7 1277.2,439.8 1277.6,434 1277.9,437 1278.2,437.7 1278.6,437.3 1278.9,432.2 1279.3,436.8 1279.6,429.5 1280,428.7 1280.3,413.3 1280.6,407.7 1281,400.7 1281.3,388.3 1281.7,382.8 1282,373.8 1282.4,376.5 1282.7,382 1283,388.6 1283.4,402.3 1283.7,407.8 1284.1,416 1284.4,428.4 1284.8,429.4 1285.1,438.4 1285.5,432.8 1285.8,440 1286.1,437.8 1286.5,440.9 1286.8,441.8 1287.2,440.1 1287.5,440.7 1287.9,438.2 1288.2,436.8 1288.5,437.1 1288.9,439 1289.2,441.5 1289.6,443.3 1289.9,435.4 1290.3,443.7 1290.6,437.3 1291,432.8 1291.3,435.1 1291.6,439.4 1292,431.8 1292.3,431 1292.7,431.2 1293,420.2 1293.4,398.2 1293.7,378.2 1294,351.3 1294.4,332 1294.7,334.7 1295.1,365.5 1295.4,383.5 1295.8,408.4 1296.1,426.2 1296.4,429.8 1296.8,432 1297.1,435.8 1297.5,439.8 1297.8,437.9 1298.2,444 1298.5,436.8 1298.9,439.5 1299.2,439.7 1299.5,443.3 1299.9,441 1300.2,445.3 1300.6,442.4 1300.9,445.8 1301.3,440.3 1301.6,439.5 1301.9,440.5 1302.3,444 1302.6,445.8 1303,445.1 1303.3,440.2 1303.7,447.2 1304,438.4 1304.3,440.6 1304.7,443 1305,442.9 1305.4,446.1 1305.7,442.1 1306.1,446.4 1306.4,444.1 1306.8,441 1307.1,446.8 1307.4,447.2 1307.8,438.8 1308.1,446.4 1308.5,439.7 1308.8,443.1 1309.2,445.3 1309.5,440.9 1309.8,441 1310.2,439.6 1310.5,442.5 1310.9,444 1311.2,439.9 1311.6,443.4 1311.9,441.4 1312.2,445.3 1312.6,444.5 1312.9,439.6 1313.3,440.1 1313.6,446.4 1314,444 1314.3,445.6 1314.7,441 1315,447.8 1315.3,446.1 1315.7,441.5 1316,447.7 1316.4,446.2 1316.7,446.8 1317.1,440.4 1317.4,446.5 1317.7,440.5 1318.1,446.3 1318.4,446.8 1318.8,441.3 1319.1,444.1 1319.5,446.6 1319.8,439.3 1320.2,441.2 1320.5,442 1320.8,446.8 1321.2,439.6 1321.5,445.1 1321.9,440.4 1322.2,445.8 1322.6,443.6 1322.9,442.5 1323.2,444.3 1323.6,442.7 1323.9,442.1 1324.3,439.1 1324.6,443.3 1325,438.1 1325.3,438.1 1325.6,442.6 1326,442.6 1326.3,440.4 1326.7,446.3 1327,440.6 1327.4,438.2 1327.7,438.8 1328.1,438.3 1328.4,438.2 1328.7,441.2 1329.1,439.2 1329.4,437.7 1329.8,432.7 1330.1,426.1 1330.5,426.2 1330.8,418.9 1331.1,406 1331.5,394.8 1331.8,384.7 1332.2,364.6 1332.5,357.7 1332.9,347 1333.2,351.2 1333.5,355.9 1333.9,372.8 1334.2,384.9 1334.6,398 1334.9,409.7 1335.3,420.5 1335.6,425.9 1336,428.5 1336.3,431.6 1336.6,439 1337,436 1337.3,435.2 1337.7,442.3 1338,443.9 1338.4,444.6 1338.7,439.8 1339,442.2 1339.4,437.1 1339.7,444.1 1340.1,440.2 1340.4,442.4 1340.8,438.4 1341.1,443.3 1341.5,439.3 1341.8,446.2 1342.1,439.2 1342.5,448.2 1342.8,442.7 1343.2,441.1 1343.5,443.6 1343.9,442.2 1344.2,444.1 1344.5,444.7 1344.9,442.2 1345.2,447.6 1345.6,446.9 1345.9,443.9 1346.3,439.1 1346.6,439.8 1346.9,444.9 1347.3,444.3 1347.6,440.4 1348,444.1 1348.3,439.6 1348.7,443.8 1349,441.5 1349.4,442 1349.7,440 1350,441.3 1350.4,440.8 1350.7,440.8 1351.1,444.8 1351.4,443 1351.8,440.9 1352.1,446.5 1352.4,443.7 1352.8,443.9 1353.1,441.4 1353.5,448.2 1353.8,440.7 1354.2,446.5 1354.5,445.7 1354.8,448.1 1355.2,440.6 1355.5,446.2 1355.9,443.8 1356.2,442.7 1356.6,440.1 1356.9,445 1357.3,443 1357.6,439.8 1357.9,444 1358.3,443.9 1358.6,446.6 1359,446.3 1359.3,446.4 1359.7,441.9 1360,440.2 1360.3,446.4 1360.7,447.3 1361,439.9 1361.4,444.1 1361.7,443 1362.1,447 1362.4,449.1 1362.8,442.1 1363.1,443 1363.4,447.7 1363.8,443.3 1364.1,442.8 1364.5,444.6 1364.8,444.9 1365.2,444.9 1365.5,445.6 1365.8,447 1366.2,444.6 1366.5,440.9 1366.9,441 1367.2,443.8 1367.6,444.2 1367.9,445 1368.2,446.3 1368.6,446 1368.9,440.9 1369.3,443.8 1369.6,446.6 1370,447.8 1370.3,447.6 1370.7,440 1371,446.8 1371.3,443 1371.7,449.2 1372,440.8 1372.4,442.4 1372.7,445.5 1373.1,447.6 1373.4,443.3 1373.7,443.3 1374.1,442 1374.4,448.4 1374.8,445.8 1375.1,442.6 1375.5,442.2 1375.8,439.7 1376.1,447.9 1376.5,439.5 1376.8,445 1377.2,447.2 1377.5,444.7 1377.9,445.3 1378.2,444.7 1378.6,442.2 1378.9,441.2 1379.2,448.6 1379.6,447.6 1379.9,446 1380.3,443.2 1380.6,443 1381,444.9 1381.3,443.6 1381.6,440.1 1382,443.3 1382.3,441 1382.7,446 1383,447.5 1383.4,444.5 1383.7,444.4 1384.1,440 1384.4,445.3 1384.7,445.7 1385.1,447.9 1385.4,443.7 1385.8,443.9 1386.1,448.8 1386.5,444.4 1386.8,444.8 1387.1,442.3 1387.5,443.6 1387.8,442.2 1388.2,442.5 1388.5,449.5 1388.9,443.1 1389.2,443.7 1389.5,447.1 1389.9,442.8 1390.2,448.5 1390.6,441.2 1390.9,439.4 1391.3,447.3 1391.6,443.3 1392,439.2 1392.3,444.9 1392.6,442 1393,442.4 1393.3,445.4 1393.7,444.3 1394,442.5 1394.4,442.3 1394.7,440.9 1395,444.8 1395.4,441.9 1395.7,444.7 1396.1,441.7 1396.4,442.2 1396.8,443.4 1397.1,444.1 1397.4,446.8 1397.8,443.1 1398.1,441.7 1398.5,440.5 1398.8,440.2 1399.2,445.8 1399.5,447 1399.9,440.3 1400.2,443.9 1400.5,444.4 1400.9,444.3 1401.2,442.8 1401.6,446.8 1401.9,442 1402.3,438 1402.6,446.1 1402.9,446.1 1403.3,444.1 1403.6,445.7 1404,444.8 1404.3,440.2 1404.7,436.4 1405,432 1405.4,437.3 1405.7,425.9 1406,428.4 1406.4,425.5 1406.7,423.3 1407.1,417 1407.4,419.2 1407.8,418.2 1408.1,419.9 1408.4,429.9 1408.8,433.2 1409.1,434.5 1409.5,440 1409.8,437.1 1410.2,441.3 1410.5,439.8 1410.8,440.1 1411.2,441.3 1411.5,443.2 1411.9,443.2 1412.2,441.2 1412.6,439.4 1412.9,441.2 1413.3,443.1 1413.6,446.8 1413.9,445.5 1414.3,446 1414.6,439.2 1415,443.6 1415.3,441.5 1415.7,442.9 1416,446.4 1416.3,442 1416.7,444.6 1417,445.4 1417.4,444 1417.7,444.9 1418.1,443.8 1418.4,440.1 1418.7,440.3 1419.1,440.4 1419.4,436 1419.8,439.6 1420.1,435.8 1420.5,431.6 1420.8,430.9 1421.2,426.8 1421.5,420.7 1421.8,416.5 1422.2,408.4 1422.5,410 1422.9,406.6 1423.2,415.5 1423.6,418.4 1423.9,419.3 1424.2,429.5 1424.6,429.7 1424.9,432.2 1425.3,437.6 1425.6,440.9 1426,441 1426.3,441 1426.6,441.4 1427,442.1 1427.3,444.4 1427.7,443.4 1428,443.4 1428.4,444.5 1428.7,438.1 1429.1,435.9 1429.4,440.9 1429.7,436 1430.1,435 1430.4,433.6 1430.8,430 1431.1,434.8 1431.5,424.3 1431.8,425.6 1432.1,419.4 1432.5,418.6 1432.8,425.3 1433.2,416.6 1433.5,418.6 1433.9,423.2 1434.2,420.8 1434.6,410.5 1434.9,407.4 1435.2,406.1 1435.6,405 1435.9,408.9 1436.3,411.2 1436.6,416.5 1437,421.4 1437.3,423.5 1437.6,426.8 1438,431.1 1438.3,433.7 1438.7,433.5 1439,438.6 1439.4,437.8 1439.7,441.9 1440,438.3 1440.4,437.8 1440.7,443.9 1441.1,441.6 1441.4,440.1 1441.8,444.7 1442.1,437.9 1442.5,445 1442.8,444.5 1443.1,438.7 1443.5,442.9 1443.8,438.8 1444.2,441.1 1444.5,441.8 1444.9,441.3 1445.2,445.5 1445.5,442.7 1445.9,439.4 1446.2,444.5 1446.6,440.8 1446.9,438.4 1447.3,441.5 1447.6,440.7 1447.9,439.9 1448.3,445.4 1448.6,440.6 1449,440.5 1449.3,438.4 1449.7,441.8 1450,437.7 1450.4,433.8 1450.7,430.7 1451,434.2 1451.4,425.1 1451.7,418.2 1452.1,414.4 1452.4,406.9 1452.8,395.7 1453.1,374.4 1453.4,359.6 1453.8,343.5 1454.1,339.5 1454.5,343.2 1454.8,354.1 1455.2,362.8 1455.5,377.6 1455.9,392 1456.2,407.5 1456.5,413.9 1456.9,421.1 1457.2,426.5 1457.6,426.3 1457.9,429.6 1458.3,429.5 1458.6,425.2 1458.9,434.3 1459.3,429.3 1459.6,430.1 1460,432.3 1460.3,432.5 1460.7,430.5 1461,431.5 1461.3,437.5 1461.7,436.7 1462,438.2 1462.4,433.3 1462.7,438.3 1463.1,437.5 1463.4,443.9 1463.8,441.7 1464.1,446.3 1464.4,446.1 1464.8,442.2 1465.1,446.1 1465.5,439 1465.8,439.4 1466.2,446.2 1466.5,445 1466.8,447.1 1467.2,448.3 1467.5,440.8 1467.9,440 1468.2,447 1468.6,447.8 1468.9,445.5 1469.2,441.1 1469.6,443.3 1469.9,444.3 1470.3,445.3 1470.6,440.1 1471,446.5 1471.3,441.6 1471.7,444.7 1472,443 1472.3,448.3 1472.7,445.7 1473,447.1 1473.4,448.1 1473.7,446.9 1474.1,446.2 1474.4,444.5 1474.7,448 1475.1,443.7 1475.4,446.2 1475.8,443 1476.1,442.8 1476.5,445.4 1476.8,448 1477.2,450.6 1477.5,446.3 1477.8,445.3 1478.2,444.3 1478.5,448 1478.9,448.2 1479.2,443.6 1479.6,442.9 1479.9,442.5 1480.2,442.3 1480.6,447.8 1480.9,446.8 1481.3,441.7 1481.6,443.3 1482,441.9 1482.3,448.1 1482.6,440.5 1483,440.9 1483.3,446.4 1483.7,443.5 1484,442.3 1484.4,444.9 1484.7,447.9 1485.1,442.3 1485.4,448.9 1485.7,447.8 1486.1,442.2 1486.4,442 1486.8,449.4 1487.1,447.9 1487.5,447.6 1487.8,441.5 1488.1,446.9 1488.5,440.7 1488.8,446.1 1489.2,447.8 1489.5,450.3 1489.9,447.8 1490.2,447.9 1490.5,445.1 1490.9,443.9 1491.2,449.6 1491.6,445 1491.9,443.4 1492.3,441 1492.6,446.9 1493,446.2 1493.3,445.5 1493.6,440.9 1494,443.9 1494.3,442.6 1494.7,446.9 1495,444.2 1495.4,445.5 1495.7,441 1496,443.7 1496.4,443.2 1496.7,445.6 1497.1,441.9 1497.4,444.2 1497.8,448.3 1498.1,447.9 1498.5,443.9 1498.8,445.5 1499.1,447.1 1499.5,449.3 1499.8,440.9 1500.2,441.9 1500.5,445.6 1500.9,442.5 1501.2,439.6 1501.5,440.8 1501.9,443.8 1502.2,448.8 1502.6,443.7 1502.9,442.7 1503.3,448.1 1503.6,450.1 1503.9,447.7 1504.3,446.6 1504.6,445.7 1505,444.5 1505.3,445.9 1505.7,447 1506,449.2 1506.4,442.1 1506.7,446.4 1507,446.4 1507.4,444.1 1507.7,447 1508.1,448.6 1508.4,443.7 1508.8,447.9 1509.1,440.1 1509.4,446.5 1509.8,445.2 1510.1,445.7 1510.5,448 1510.8,443.1 1511.2,441.7 1511.5,446 1511.8,449.6 1512.2,442.2 1512.5,447.2 1512.9,444.9 1513.2,448.4 1513.6,441.5 1513.9,447.6 1514.3,448.5 1514.6,447.1 1514.9,451.4 1515.3,443.8 1515.6,444.8 1516,448.8 1516.3,446.1 1516.7,448.1 1517,449.1 1517.3,440.3 1517.7,444.9 1518,443 1518.4,448.7 1518.7,443.5 1519.1,444.3 1519.4,445.2 1519.7,443.7 1520.1,444.8 1520.4,447.7 1520.8,445.6 1521.1,447.2 1521.5,441.6 1521.8,447.2 1522.2,445.8 1522.5,441.9 1522.8,444.1 1523.2,450.6 1523.5,444.7 1523.9,445.6 1524.2,441.2 1524.6,443.5 1524.9,442.2 1525.2,448.3 1525.6,442.2 1525.9,444.8 1526.3,445.2 1526.6,443.7 1527,442.5 1527.3,442.3 1527.7,447.9 1528,441.4 1528.3,445.4 1528.7,444.7 1529,444 1529.4,445.6 1529.7,450 1530.1,447.3 1530.4,443.1 1530.7,443.8 1531.1,440.2 1531.4,442.2 1531.8,446.9 1532.1,448.9 1532.5,444.1 1532.8,440.1 1533.1,442.9 1533.5,443.4 1533.8,443 1534.2,445.8 1534.5,440.7 1534.9,440.8 1535.2,442.9 1535.6,448.7 1535.9,446 1536.2,441.6 1536.6,440.3 1536.9,439.4 1537.3,441.6 1537.6,447.6 1538,443.9 1538.3,448.7 1538.6,440.7 1539,442.7 1539.3,438.7 1539.7,440.8 1540,444.8 1540.4,438.8 1540.7,438.1 1541,432.2 1541.4,432.9 1541.7,426.5 1542.1,419.7 1542.4,418.2 1542.8,416.9 1543.1,410.8 1543.5,410.3 1543.8,417.3 1544.1,414.8 1544.5,419.5 1544.8,430.1 1545.2,431.9 1545.5,438 1545.9,435.5 1546.2,434.8 1546.5,443.3 1546.9,441.8 1547.2,444.3 1547.6,445.2 1547.9,443.1 1548.3,444.6 1548.6,446.6 1549,439.8 1549.3,447.5 1549.6,445.1 1550,446.5 1550.3,447.5 1550.7,445 1551,443.7 1551.4,442 1551.7,446.5 1552,441.7 1552.4,442.7 1552.7,448.7 1553.1,443.4 1553.4,441.4 1553.8,448.2 1554.1,449.4 1554.4,441 1554.8,442.9 1555.1,441.5 1555.5,448.7 1555.8,447 1556.2,446.7 1556.5,442.5 1556.9,447.9 1557.2,446.9 1557.5,440.7 1557.9,446 1558.2,448.8 1558.6,450.4 1558.9,445.6 1559.3,443.4 1559.6,445.6 1559.9,448.6 1560.3,449.6 1560.6,443.5 1561,447.3 1561.3,441.9 1561.7,442.6 1562,446.9 1562.3,445.1 1562.7,442.8 1563,442.1 1563.4,449 1563.7,446.5 1564.1,446.1 1564.4,448.8 1564.8,445.7 1565.1,442.7 1565.4,446.1 1565.8,446.3 1566.1,446.2 1566.5,442.2 1566.8,447.3 1567.2,443.1 1567.5,442.5 1567.8,440.4 1568.2,443.4 1568.5,441.4 1568.9,449 1569.2,447.2 1569.6,446.8 1569.9,446.2 1570.3,446.6 1570.6,440.9 1570.9,445.2 1571.3,446.3 1571.6,441.4 1572,445.1 1572.3,443.7 1572.7,445.2 1573,439.3 1573.3,447 1573.7,442.5 1574,439.2 1574.4,446.8 1574.7,446 1575.1,444.4 1575.4,444.1 1575.7,442.8 1576.1,434.4 1576.4,431.8 1576.8,431.1 1577.1,429.2 1577.5,431.4 1577.8,435 1578.2,432.3 1578.5,426.4 1578.8,431.5 1579.2,430.9 1579.5,424.6 1579.9,420.6 1580.2,421.6 1580.6,415 1580.9,418.7 1581.2,412 1581.6,415.8 1581.9,418.5 1582.3,422.8 1582.6,425 1583,425.2 1583.3,433.9 1583.6,430.2 1584,438.6 1584.3,440.5 1584.7,440.1 1585,444 1585.4,440.6 1585.7,442.7 1586.1,442.8 1586.4,446.9 1586.7,442.7 1587.1,441.5 1587.4,441.4 1587.8,446.2 1588.1,442.1 1588.5,446.1 1588.8,441.7 1589.1,442.6 1589.5,443.1 1589.8,444.7 1590.2,447.5 1590.5,447.8 1590.9,444.7 1591.2,445.8 1591.6,446.2 1591.9,448.1 1592.2,449.9 1592.6,442.2 1592.9,449.4 1593.3,447.5 1593.6,446.1 1594,441.6 1594.3,448 1594.6,449.1 1595,443.1 1595.3,448.8 1595.7,447.9 1596,446.5 1596.4,450 1596.7,451 1597,442.9 1597.4,444.7 1597.7,443.8 1598.1,444.2 1598.4,442.4 1598.8,442.9 1599.1,446 1599.5,446.2 1599.8,449.6 1600.1,445 1600.5,448.3 1600.8,442.4 1601.2,442 1601.5,445 1601.9,441.5 1602.2,448.1 1602.5,447.9 1602.9,447.7 1603.2,445.4 1603.6,448.9 1603.9,442.7 1604.3,441.3 1604.6,448.7 1604.9,440.5 1605.3,449.9 1605.6,442 1606,445.4 1606.3,442 1606.7,446.4 1607,445.2 1607.4,444.7 1607.7,446.4 1608,442.8 1608.4,444.5 1608.7,450 1609.1,444.4 1609.4,442.9 1609.8,445.2 1610.1,444.9 1610.4,449.5 1610.8,445.5 1611.1,450.3 1611.5,447.3 1611.8,441.4 1612.2,446.1 1612.5,444.3 1612.8,449.5 1613.2,449.9 1613.5,448.7 1613.9,448.5 1614.2,442.1 1614.6,450.8 1614.9,445.8 1615.3,441.5 1615.6,445.5 1615.9,448.3 1616.3,442.4 1616.6,442.3 1617,450 1617.3,442.6 1617.7,442.4 1618,445.5 1618.3,441.1 1618.7,448.2 1619,440.7 1619.4,442.3 1619.7,444.7 1620.1,443.3 1620.4,448.1 1620.8,449.6 1621.1,447.3 1621.4,447.3 1621.8,449.1 1622.1,442.9 1622.5,445.6 1622.8,449 1623.2,450.2 1623.5,445.5 1623.8,443.2 1624.2,448.4 1624.5,448.8 1624.9,442.9 1625.2,441.5 1625.6,441.8 1625.9,446.8 1626.2,444.8 1626.6,450.7 1626.9,449 1627.3,445.4 1627.6,446 1628,444.9 1628.3,448.7 1628.7,447.9 1629,446.9 1629.3,448.4 1629.7,444.7 1630,444.9 1630.4,442 1630.7,442 1631.1,446.5 1631.4,449.2 1631.7,449.4 1632.1,447.3 1632.4,444.1 1632.8,443.1 1633.1,447.4 1633.5,445.1 1633.8,443.3 1634.1,446.1 1634.5,443.5 1634.8,442.2 1635.2,446.2 1635.5,441.9 1635.9,445.5 1636.2,447.6 1636.6,442.1 1636.9,443.8 1637.2,441.4 1637.6,443.1 1637.9,442.3 1638.3,448.9 1638.6,447.4 1639,446.9 1639.3,441.4 1639.6,439.8 1640,447.4 1640.3,445.9 1640.7,445.6 1641,440.4 1641.4,439.4 1641.7,438.1 1642.1,437.5 1642.4,442.7 1642.7,440.4 1643.1,445.9 1643.4,441.1 1643.8,440 1644.1,448.4 1644.5,445 1644.8,445.8 1645.1,449.4 1645.5,446.1 1645.8,450 1646.2,441.6 1646.5,445.6 1646.9,443.3 1647.2,449.3 1647.5,445 1647.9,443.8 1648.2,443.8 1648.6,447.6 1648.9,443.6 1649.3,448.4 1649.6,446.5 1650,446.1 1650.3,441.1 1650.6,440.8 1651,448.7 1651.3,447.2 1651.7,441 1652,444.2 1652.4,447 1652.7,447.1 1653,441.2 1653.4,441.4 1653.7,441.9 1654.1,447.7 1654.4,447.1 1654.8,445.7 1655.1,440.4 1655.4,447.3 1655.8,446.7 1656.1,440 1656.5,443.3 1656.8,439.3 1657.2,445.5 1657.5,445 1657.9,441 1658.2,446.4 1658.5,447.9 1658.9,441 1659.2,443.5 1659.6,445.5 1659.9,437.7 1660.3,442.4 1660.6,440.9 1660.9,438.4 1661.3,439.4 1661.6,437.2 1662,435.3 1662.3,434.4 1662.7,427.5 1663,428.2 1663.4,427.3 1663.7,425.9 1664,423.1 1664.4,413.8 1664.7,420.4 1665.1,415.5 1665.4,417 1665.8,418.9 1666.1,419.7 1666.4,420.9 1666.8,428.6 1667.1,430.2 1667.5,428.5 1667.8,437.2 1668.2,434.6 1668.5,437.7 1668.8,441.7 1669.2,435.4 1669.5,442.3 1669.9,438.3 1670.2,443.6 1670.6,438.5 1670.9,444.9 1671.3,438.7 1671.6,444.7 1671.9,443.6 1672.3,447 1672.6,447.8 1673,447.3 1673.3,443 1673.7,444.5 1674,443.7 1674.3,440.6 1674.7,445.9 1675,440.8 1675.4,441.9 1675.7,442.1 1676.1,446.5 1676.4,444.3 1676.7,443.5 1677.1,445.8 1677.4,443 1677.8,441.9 1678.1,439.3 1678.5,443.4 1678.8,445.1 1679.2,443 1679.5,438.2 1679.8,435 1680.2,437.2 1680.5,441 1680.9,432.2 1681.2,431.9 1681.6,431.3 1681.9,427.6 1682.2,427.4 1682.6,432.8 1682.9,427.9 1683.3,431 1683.6,432.8 1684,429.8 1684.3,432.5 1684.7,435 1685,428.7 1685.3,432 1685.7,433.8 1686,439.8 1686.4,433.9 1686.7,433.5 1687.1,434 1687.4,435.9 1687.7,435.6 1688.1,434.6 1688.4,428.8 1688.8,423.1 1689.1,431.3 1689.5,424.5 1689.8,427.6 1690.1,419.3 1690.5,420.6 1690.8,418.4 1691.2,420.7 1691.5,426.6 1691.9,430.9 1692.2,426.2 1692.6,430.9 1692.9,430.4 1693.2,432 1693.6,431.3 1693.9,439.7 1694.3,439.4 1694.6,437.8 1695,439.1 1695.3,443.1 1695.6,437.8 1696,440.1 1696.3,440 1696.7,442.4 1697,442.6 1697.4,446.3 1697.7,440.2 1698,447 1698.4,442.7 1698.7,440.1 1699.1,447.7 1699.4,446.7 1699.8,444.3 1700.1,439.9 1700.5,446.9 1700.8,446.2 1701.1,448.2 1701.5,443.3 1701.8,441.8 1702.2,445.5 1702.5,439.8 1702.9,446.5 1703.2,446.2 1703.5,446.7 1703.9,444.6 1704.2,442.9 1704.6,447.1 1704.9,441 1705.3,443.9 1705.6,445.3 1706,445.2 1706.3,446.3 1706.6,444 1707,447.5 1707.3,446.4 1707.7,440.7 1708,445.3 1708.4,448.1 1708.7,445.6 1709,446.2 1709.4,446.4" fill="none" stroke="none" marker-start="url(#b2)" marker-mid="url(#b2)" marker-end="url(#b2)"/>
<polyline points="907.9,428.7 943.1,430 948.9,430.5 950.5,430.4 951.2,430 951.5,429.5 951.9,428.7 952.1,427.9 952.3,426.8 952.9,423.5 953,422.9 953.1,422.6 953.2,422.5 953.4,422.6 953.5,423 953.7,424.2 954.2,427 954.4,428.1 954.6,429 955,429.9 955.4,430.6 956.2,431.1 958.3,431.7 967.9,432.9 978.3,434.1 1024,437.5 1051.3,438.9 1056.3,439 1057.6,438.7 1058.6,438 1059.7,437.1 1060.3,437 1061.8,437.8 1062.7,437.8 1063.8,437.5 1064.7,436.8 1065.4,435.9 1065.8,435.1 1066.2,434.2 1066.5,432.9 1066.7,431.8 1066.8,431 1067,430.2 1067.1,429.2 1067.2,427.9 1067.3,426.5 1067.4,424.7 1067.5,422.5 1067.6,419.9 1067.8,416.8 1067.9,413 1068,408.7 1068.1,403.6 1068.2,397.9 1068.3,391.4 1068.4,384.4 1068.6,376.8 1068.7,369.1 1068.8,361.4 1068.9,354.5 1069,348.8 1069.1,345.1 1069.3,343.8 1069.4,345.1 1069.5,348.8 1069.6,354.5 1069.7,361.5 1069.8,369.1 1069.9,376.9 1070.1,384.4 1070.2,391.5 1070.3,397.9 1070.4,403.6 1070.5,408.7 1070.6,413 1070.7,416.7 1070.9,419.9 1071,422.5 1071.1,424.6 1071.2,426.4 1071.3,427.9 1071.4,429.1 1071.5,430.1 1071.7,431 1071.9,432.3 1072.1,433.3 1072.5,434.4 1072.9,435.4 1073.5,436.3 1074.3,437.1 1075.5,437.7 1077.6,438.2 1081.7,438.5 1091.8,438.6 1104.8,439.5 1108.9,439.5 1110.7,439.1 1111.7,438.6 1112.4,437.9 1112.9,437.1 1113.2,436.1 1113.5,435.1 1113.6,434.4 1113.7,433.5 1113.8,432.5 1113.9,431.3 1114,429.8 1114.1,428.1 1114.3,426 1114.4,423.6 1114.5,420.9 1114.6,417.9 1114.7,414.6 1115.1,404 1115.2,400.8 1115.3,398.3 1115.4,396.7 1115.5,396.3 1115.6,397 1115.7,398.9 1115.9,401.6 1116,404.9 1116.2,412.1 1116.3,415.6 1116.4,418.8 1116.5,421.8 1116.7,424.4 1116.8,426.7 1116.9,428.7 1117,430.4 1117.1,431.9 1117.2,433 1117.3,434 1117.5,434.9 1117.7,436.1 1117.9,437 1118.3,437.8 1118.8,438.7 1119.6,439.5 1121,440.1 1123.6,440.7 1129.6,441.3 1136.8,441.6 1140.8,441 1143.5,440.3 1145.2,439.5 1146.3,438.6 1147.2,437.4 1147.9,436.1 1148.5,434.7 1148.8,433.5 1149.2,432 1149.5,430.1 1149.8,428.6 1150,426.7 1150.1,425.5 1150.2,424.3 1150.3,422.9 1150.4,421.3 1150.6,419.4 1150.7,417.3 1150.8,414.7 1150.9,411.6 1151,407.9 1151.1,403.4 1151.2,397.9 1151.4,391.1 1151.5,382.8 1151.6,372.8 1151.7,360.7 1151.8,346.3 1151.9,329.5 1152,310.2 1152.2,288.5 1152.3,264.6 1152.4,239.3 1152.5,213.5 1152.6,188.8 1152.7,167.3 1152.8,151.6 1153,143.8 1153.1,145.2 1153.2,155.5 1153.3,173.2 1153.4,195.8 1153.5,220.9 1153.6,246.6 1153.8,271.5 1153.9,294.6 1154,315.5 1154.1,333.9 1154.2,349.8 1154.3,363.3 1154.4,374.6 1154.6,383.9 1154.7,391.6 1154.8,397.8 1154.9,402.9 1155,407 1155.1,410.4 1155.3,413.1 1155.4,415.4 1155.5,417.3 1155.6,419 1155.7,420.4 1155.8,421.6 1155.9,422.7 1156.2,424.5 1156.4,425.9 1156.6,427 1157,428.2 1157.3,429.1 1157.8,429.9 1158.3,430.5 1159.3,430.8 1161.4,431.1 1163.6,431.8 1164.4,431.7 1165,431.3 1165.4,430.6 1165.8,429.8 1166.1,428.6 1166.4,427.5 1166.6,426.1 1166.7,425.2 1166.8,424.3 1166.9,423.2 1167,421.8 1167.2,420.3 1167.3,418.4 1167.4,416.2 1167.5,413.5 1167.6,410.1 1167.7,406 1167.8,400.9 1168,394.6 1168.1,387 1168.2,377.8 1168.3,366.9 1168.4,354 1168.5,339.2 1168.6,322.5 1168.8,304.1 1168.9,284.4 1169,264.3 1169.1,245 1169.2,228 1169.3,215.3 1169.5,208.8 1169.6,209.3 1169.7,216.9 1169.8,230.4 1169.9,247.9 1170,267.6 1170.1,287.8 1170.3,307.4 1170.4,325.7 1170.5,342.3 1170.6,356.9 1170.7,369.6 1170.8,380.5 1170.9,389.6 1171.1,397.1 1171.2,403.3 1171.3,408.4 1171.4,412.5 1171.5,415.9 1171.6,418.6 1171.7,420.9 1171.9,422.9 1172,424.5 1172.1,425.9 1172.2,427.1 1172.3,428.2 1172.5,430 1172.8,431.5 1173.1,433.2 1173.5,434.6 1173.9,435.9 1174.5,437.2 1175.2,438.2 1176.2,439.3 1177.6,440.1 1179.6,440.8 1183.1,441.5 1189.5,441.9 1199.8,442.2 1201.4,442 1202,441.7 1202.4,441.1 1202.8,440.4 1203.5,438.3 1203.7,438 1203.8,438 1204,438.3 1204.8,440.7 1205.2,441.4 1205.6,441.9 1206.6,442.3 1209.9,442.6 1241.8,443.4 1256.4,443.6 1269,443.5 1273.4,443.1 1275.6,442.6 1276.9,441.9 1277.8,441.1 1278.4,440.3 1278.8,439.3 1279.2,438.1 1279.4,437 1279.6,435.5 1279.7,434.6 1279.8,433.6 1280,432.3 1280.1,430.9 1280.2,429.2 1280.3,427.3 1280.4,425.2 1280.5,422.7 1280.6,420 1280.8,417.1 1280.9,413.8 1281,410.3 1281.1,406.7 1281.3,399 1281.4,395.3 1281.6,391.9 1281.7,389 1281.8,386.7 1281.9,385.4 1282,385 1282.1,385.7 1282.2,387.3 1282.4,389.8 1282.5,392.9 1282.6,396.4 1282.9,407.8 1283,411.4 1283.2,414.8 1283.3,417.9 1283.4,420.8 1283.5,423.4 1283.6,425.8 1283.7,427.8 1283.9,429.6 1284,431.2 1284.1,432.6 1284.2,433.7 1284.3,434.8 1284.4,435.6 1284.7,437 1284.9,438 1285.2,439.1 1285.7,440 1286.4,440.8 1287.3,441.4 1288.4,441.7 1289.5,441.5 1290.3,441 1291,440.2 1291.4,439.4 1291.8,438.4 1292,437.5 1292.2,436.3 1292.3,435.5 1292.4,434.5 1292.6,433.4 1292.7,432 1292.8,430.2 1292.9,428.2 1293,425.7 1293.1,422.7 1293.2,419.2 1293.4,415.2 1293.5,410.6 1293.6,405.5 1293.7,399.9 1293.8,393.9 1294,381.6 1294.2,376 1294.3,371.5 1294.4,368.5 1294.5,367.5 1294.6,368.6 1294.7,371.6 1294.8,376.1 1295,381.7 1295.2,394 1295.3,400 1295.4,405.6 1295.5,410.8 1295.6,415.4 1295.8,419.4 1295.9,422.9 1296,425.9 1296.1,428.4 1296.2,430.4 1296.3,432.2 1296.4,433.6 1296.6,434.8 1296.7,435.8 1296.8,436.6 1297,437.8 1297.2,438.8 1297.6,439.8 1298.1,440.7 1298.7,441.6 1299.8,442.4 1301.4,443 1304.2,443.5 1310.6,443.8 1319.9,443.8 1324.3,443.4 1326.4,442.9 1327.7,442.3 1328.6,441.5 1329.2,440.7 1329.7,439.7 1330,438.7 1330.2,437.8 1330.5,436.6 1330.6,435.8 1330.7,434.9 1330.8,433.8 1330.9,432.5 1331,431 1331.1,429.2 1331.3,427.1 1331.4,424.6 1331.5,421.7 1331.6,418.4 1331.7,414.7 1331.8,410.5 1331.9,405.8 1332.1,400.7 1332.2,395.3 1332.4,384 1332.5,378.5 1332.6,373.5 1332.7,369.5 1332.9,366.7 1333,365.5 1333.1,366 1333.2,368.2 1333.3,371.8 1333.4,376.4 1333.5,381.7 1333.8,393.1 1333.9,398.6 1334,403.8 1334.1,408.7 1334.2,413.1 1334.4,417 1334.5,420.5 1334.6,423.5 1334.7,426.2 1334.8,428.4 1334.9,430.3 1335,432 1335.2,433.3 1335.3,434.5 1335.4,435.5 1335.5,436.3 1335.7,437.6 1336,438.6 1336.3,439.7 1336.8,440.7 1337.4,441.6 1338.4,442.4 1339.7,443.1 1342.1,443.6 1347.1,444 1362.9,444.4 1395.6,444.5 1401.1,444.3 1403.1,443.9 1404,443.5 1404.5,442.8 1404.9,442.2 1405.2,441.1 1405.5,440.1 1405.7,438.8 1406,436.5 1406.5,433 1406.6,432.3 1406.7,431.7 1406.8,431.2 1407,431 1407.1,431 1407.2,431.3 1407.3,431.8 1407.4,432.4 1407.6,434 1408.1,437.5 1408.3,438.9 1408.6,440.2 1408.9,441.5 1409.2,442.4 1409.7,443.1 1410.4,443.7 1411.8,444.1 1414.5,444.2 1417.1,443.9 1418.5,443.5 1419.3,442.9 1419.8,442.3 1420.1,441.5 1420.4,440.7 1420.6,439.7 1420.8,438.4 1421,436.6 1421.3,434.5 1421.5,431.9 1422,426.3 1422.1,425 1422.2,423.9 1422.3,423.1 1422.4,422.6 1422.5,422.5 1422.6,422.8 1422.8,423.4 1422.9,424.4 1423,425.6 1423.2,428.3 1423.6,432.5 1423.8,434.9 1424,436.9 1424.2,438.6 1424.5,439.8 1424.7,440.7 1425,441.7 1425.5,442.4 1426.2,442.9 1427.2,443.2 1428.3,443 1429.1,442.6 1429.5,442 1429.9,441.2 1430.2,440 1430.4,438.9 1430.7,437.6 1430.9,435.9 1431.2,432.9 1431.6,430 1431.7,429.2 1431.8,428.6 1431.9,428.2 1432,428 1432.1,428.1 1432.3,428.4 1432.4,428.9 1432.6,430.3 1432.9,432.5 1433.2,433.6 1433.3,434 1433.4,434.3 1433.5,434.4 1433.6,434.4 1433.7,434.2 1433.9,433.9 1434,433.4 1434.1,432.9 1434.3,431.3 1434.6,429.4 1435,425.2 1435.1,424.3 1435.2,423.6 1435.4,423.2 1435.5,423 1435.6,423.1 1435.7,423.5 1435.8,424.2 1435.9,425.1 1436.2,427.4 1436.6,432.3 1436.8,434.6 1437.1,436.5 1437.3,438.1 1437.5,439.3 1437.8,440.3 1438.1,441.4 1438.4,442.1 1439,442.9 1439.9,443.5 1441.5,443.9 1444.2,444.1 1446.8,443.8 1448.4,443.3 1449.6,442.6 1450.2,441.8 1450.8,440.8 1451.2,439.9 1451.4,439.1 1451.6,438 1451.8,436.5 1452,435.6 1452.1,434.5 1452.2,433.2 1452.3,431.8 1452.4,430.1 1452.5,428.2 1452.6,426 1452.8,423.5 1452.9,420.7 1453,417.7 1453.1,414.4 1453.2,410.8 1453.3,407 1453.7,395.2 1453.8,391.6 1453.9,388.4 1454,385.9 1454.1,384.3 1454.2,383.8 1454.4,384.3 1454.5,385.8 1454.6,388.2 1454.7,391.3 1454.8,394.9 1455.2,406.7 1455.3,410.5 1455.4,414 1455.5,417.3 1455.6,420.4 1455.7,423.1 1455.9,425.6 1456,427.7 1456.1,429.6 1456.2,431.3 1456.3,432.7 1456.4,433.9 1456.5,434.9 1456.7,435.8 1456.8,436.5 1457,437.7 1457.2,438.4 1457.6,439.1 1457.9,439.4 1458.4,439.3 1459.1,438.6 1459.6,438 1460,438 1460.3,438.3 1460.8,439.2 1461.8,441.6 1462.5,442.8 1463.3,443.6 1464.4,444.2 1466.8,444.6 1472.8,445 1496.2,445.4 1529.4,445.5 1535.6,445.2 1538,444.8 1539.2,444.2 1539.9,443.6 1540.4,442.7 1540.7,441.7 1540.9,440.8 1541.2,439.4 1541.4,437.7 1541.5,436.7 1541.6,435.5 1541.9,432.9 1542.1,429.8 1542.4,424.8 1542.5,423.3 1542.7,422 1542.8,420.9 1542.9,420.2 1543,420 1543.1,420.2 1543.2,420.9 1543.3,421.9 1543.5,423.2 1543.7,426.3 1544,431.3 1544.3,434.2 1544.4,435.5 1544.5,436.6 1544.7,438.6 1544.9,440.1 1545.2,441.3 1545.4,442.1 1545.7,443 1546.2,443.7 1547,444.4 1548.4,444.9 1551.1,445.3 1558.7,445.6 1569,445.5 1572.4,445.1 1573.9,444.7 1574.7,444.1 1575.3,443.3 1575.7,442.3 1576.2,440.9 1577,438 1577.2,437.4 1577.5,437 1577.7,437 1578,437.3 1578.6,438.3 1579,438.6 1579.2,438.4 1579.4,438 1579.6,437.4 1580,435.9 1580.7,432.1 1580.9,431.1 1581,430.8 1581.1,430.5 1581.2,430.5 1581.4,430.6 1581.5,430.9 1581.6,431.3 1581.8,432.5 1582.6,437.8 1583,439.7 1583.3,441.2 1583.6,442.3 1584.1,443.4 1584.7,444.1 1585.6,444.7 1587.3,445.2 1591.1,445.6 1604.4,445.9 1622.5,445.9 1638.6,445.6 1640.1,445.3 1640.8,444.9 1641.8,443.6 1642.2,443.6 1643.2,444.9 1643.9,445.3 1645.6,445.5 1653.4,445.3 1657.5,444.8 1659.5,444.3 1660.5,443.7 1661.2,443 1661.7,442 1662.2,440.9 1662.7,439.5 1663.1,437.7 1664.2,433 1664.5,431.8 1664.7,431.2 1665,431 1665.2,431.1 1665.4,431.5 1665.8,432.6 1666.3,435.1 1667,438.1 1667.5,439.8 1667.9,441.1 1668.5,442.3 1669.2,443.2 1670.1,443.9 1671.6,444.3 1674.3,444.5 1677,444.2 1678.5,443.8 1679.5,443 1680.3,442.1 1681.2,440.6 1682.2,438.7 1682.7,438.2 1683.2,438 1683.6,438.2 1685.1,439.9 1685.7,440.2 1686.3,440.1 1686.8,439.6 1687.4,438.7 1688,437.3 1688.8,434.9 1689.5,432.7 1689.9,431.6 1690.3,431.1 1690.6,431 1690.9,431.4 1691.3,432.1 1691.9,433.9 1693,437.8 1693.7,439.8 1694.4,441.2 1695.1,442.3 1696,443.2 1697.2,443.8 1699.4,444.3 1704.1,444.7 1709.5,444.8" fill="none" stroke="#000" stroke-width="2.7" stroke-linejoin="round"/>
<path d="M953.2 464.5V477M1069.2 464.5V477M1115.5 464.5V477M1153 464.5V477M1169.5 464.5V477M1203.8 464.5V477M1281.5 464.5V477M1283 464.5V477M1294.5 464.5V477M1333 464.5V477M1359.5 464.5V477M1407 464.5V477M1422.5 464.5V477M1432 464.5V477M1435.5 464.5V477M1454.2 464.5V477M1460 464.5V477M1542.5 464.5V477M1543.5 464.5V477M1577.5 464.5V477M1581.2 464.5V477M1602 464.5V477M1609.2 464.5V477M1642 464.5V477M1650.2 464.5V477M1662.5 464.5V477M1665.8 464.5V477M1681.5 464.5V477M1685 464.5V477M1688.2 464.5V477M1691.5 464.5V477" stroke="#5a5aff" stroke-width="1" fill="none"/>
<path d="M907.9 543H1709.5" stroke="#7f0000" stroke-width="9.2" fill="none"/>
<polyline points="907.9,543.8 909.2,543.3 910.4,540.1 911.7,537.6 912.9,546.4 914.2,541.2 915.5,544.1 916.7,538.4 918,539.7 919.2,546.1 920.5,538.6 921.8,545.7 923,542.8 924.3,537.7 925.5,538 926.8,542.2 928.1,543 929.3,540.6 930.6,547.7 931.8,546.7 933.1,546.2 934.4,547.9 935.6,544.9 936.9,544.3 938.1,541.5 939.4,545.2 940.7,548.6 941.9,538.5 943.2,541.2 944.4,538.5 945.7,547.6 946.9,542.3 948.2,543.7 949.5,543.5 950.7,537.9 952,543.5 953.2,538.1 954.5,540.6 955.8,538 957,546.7 958.3,545.3 959.5,539.2 960.8,544.8 962.1,545.2 963.3,544.7 964.6,540.2 965.8,541.9 967.1,540.2 968.4,545.3 969.6,540.8 970.9,545.2 972.1,537.4 973.4,541.8 974.7,545.1 975.9,539.9 977.2,542.3 978.4,546.4 979.7,536.1 981,546 982.2,547.3 983.5,545.8 984.7,544.1 986,543.9 987.3,540.9 988.5,538.9 989.8,539.9 991,538.2 992.3,539.3 993.6,539.7 994.8,544.2 996.1,537.4 997.3,539.2 998.6,548.5 999.9,543.3 1001.1,548.2 1002.4,541.3 1003.6,548.3 1004.9,548.6 1006.2,548 1007.4,547.7 1008.7,547.2 1009.9,543.7 1011.2,542.4 1012.5,549.3 1013.7,546.5 1015,538.9 1016.2,538.6 1017.5,542.1 1018.7,540.8 1020,546.1 1021.3,548.2 1022.5,545.7 1023.8,542 1025,544.2 1026.3,539.7 1027.6,538.4 1028.8,548.5 1030.1,539 1031.3,541.7 1032.6,544.3 1033.9,538.7 1035.1,537.8 1036.4,538 1037.6,544.2 1038.9,546.9 1040.2,539.1 1041.4,546.7 1042.7,546.2 1043.9,538.5 1045.2,540.5 1046.5,546.1 1047.7,542.7 1049,539.8 1050.2,543.1 1051.5,541.5 1052.8,546.1 1054,544.1 1055.3,543.2 1056.5,547.7 1057.8,538.5 1059.1,548.6 1060.3,549.5 1061.6,545.1 1062.8,547 1064.1,538.2 1065.4,542.6 1066.6,546.2 1067.9,542.8 1069.1,541.1 1070.4,543.5 1071.7,548.4 1072.9,542.4 1074.2,541.7 1075.4,545.1 1076.7,539.7 1078,545.3 1079.2,543.2 1080.5,538.2 1081.7,542.2 1083,546.1 1084.3,539.1 1085.5,543.9 1086.8,548.5 1088,537.9 1089.3,538.3 1090.6,541.3 1091.8,540.9 1093.1,537.3 1094.3,545.5 1095.6,539.3 1096.8,545.7 1098.1,536.7 1099.4,536.5 1100.6,538.2 1101.9,543.4 1103.1,545.8 1104.4,546.2 1105.7,546.9 1106.9,542.7 1108.2,543.4 1109.4,538.2 1110.7,539.9 1112,547.9 1113.2,547 1114.5,546.3 1115.7,545.3 1117,546.1 1118.3,539.1 1119.5,544.8 1120.8,538.7 1122,541.5 1123.3,543.7 1124.6,541 1125.8,544.4 1127.1,548.3 1128.3,548.5 1129.6,541.2 1130.9,547.2 1132.1,548 1133.4,543.5 1134.6,536.8 1135.9,541.1 1137.2,545.8 1138.4,537.1 1139.7,544 1140.9,540.6 1142.2,545.8 1143.5,540.8 1144.7,548.9 1146,540.1 1147.2,538.1 1148.5,539.3 1149.8,545.8 1151,542.1 1152.3,544.5 1153.5,540.5 1154.8,542.3 1156.1,546.4 1157.3,538.7 1158.6,544.4 1159.8,547.2 1161.1,548.6 1162.4,538.3 1163.6,544.1 1164.9,540.8 1166.1,544.4 1167.4,544.3 1168.6,540 1169.9,541.1 1171.2,548.1 1172.4,545.8 1173.7,544.2 1174.9,537.4 1176.2,546.5 1177.5,534.2 1178.7,542.6 1180,547.1 1181.2,539.4 1182.5,540.7 1183.8,542.4 1185,547.5 1186.3,539 1187.5,541.3 1188.8,537.8 1190.1,546.8 1191.3,544.7 1192.6,545.6 1193.8,544.6 1195.1,541.2 1196.4,539.3 1197.6,537.6 1198.9,541.2 1200.1,539.2 1201.4,543.9 1202.7,549.7 1203.9,539.3 1205.2,546.5 1206.4,538.4 1207.7,543.6 1209,547.9 1210.2,545.2 1211.5,547.1 1212.7,538.9 1214,541.4 1215.3,546.7 1216.5,548.1 1217.8,545.9 1219,545.5 1220.3,538.8 1221.6,544 1222.8,546.2 1224.1,537.9 1225.3,539.2 1226.6,537.7 1227.9,545.1 1229.1,541.7 1230.4,544.5 1231.6,546.1 1232.9,538.8 1234.2,539.9 1235.4,539.8 1236.7,548.1 1237.9,541.4 1239.2,541.2 1240.4,538.3 1241.7,544.2 1243,542.3 1244.2,548.6 1245.5,545.7 1246.7,547.4 1248,541.5 1249.3,539.9 1250.5,539.6 1251.8,539.1 1253,544.9 1254.3,542.3 1255.6,541.3 1256.8,546.8 1258.1,538.1 1259.3,543.4 1260.6,546.3 1261.9,536.8 1263.1,543.7 1264.4,538.9 1265.6,539.4 1266.9,544.5 1268.2,538.9 1269.4,549.3 1270.7,544 1271.9,540.7 1273.2,544 1274.5,548.4 1275.7,545.7 1277,548.3 1278.2,543.2 1279.5,544.5 1280.8,537 1282,539.6 1283.3,537.4 1284.5,539.6 1285.8,547.6 1287.1,546.6 1288.3,540.5 1289.6,540.6 1290.8,542 1292.1,537.6 1293.4,539.8 1294.6,547.5 1295.9,538.4 1297.1,547.6 1298.4,538 1299.7,537.5 1300.9,537.9 1302.2,545 1303.4,539.1 1304.7,546.2 1306,543.8 1307.2,540 1308.5,546.1 1309.7,539.3 1311,546.2 1312.2,547.3 1313.5,537 1314.8,548.7 1316,541.1 1317.3,545 1318.5,544.2 1319.8,544 1321.1,546.6 1322.3,539.5 1323.6,538.3 1324.8,547.6 1326.1,540.1 1327.4,543 1328.6,543.2 1329.9,537.1 1331.1,544.5 1332.4,537.3 1333.7,550.5 1334.9,544.3 1336.2,543.5 1337.4,536.8 1338.7,539.2 1340,546.8 1341.2,543.1 1342.5,536.9 1343.7,542.1 1345,547.2 1346.3,543.9 1347.5,543.5 1348.8,547.7 1350,541.9 1351.3,538.1 1352.6,541.2 1353.8,538 1355.1,548.1 1356.3,540.8 1357.6,540.3 1358.9,545.4 1360.1,543.5 1361.4,544.4 1362.6,542.2 1363.9,539.9 1365.2,547.1 1366.4,543.1 1367.7,540.2 1368.9,548.2 1370.2,548.9 1371.5,546.2 1372.7,548.6 1374,548.5 1375.2,540.3 1376.5,538.6 1377.8,538.6 1379,537.9 1380.3,538 1381.5,538.3 1382.8,536.8 1384.1,538 1385.3,539.8 1386.6,548 1387.8,537 1389.1,544.1 1390.3,546.1 1391.6,545.1 1392.9,540.3 1394.1,540.7 1395.4,545.3 1396.6,538.8 1397.9,540.8 1399.2,534.2 1400.4,547.3 1401.7,544.8 1402.9,547.3 1404.2,546.6 1405.5,548.5 1406.7,546.8 1408,538.1 1409.2,541 1410.5,544.8 1411.8,542.6 1413,543 1414.3,548.2 1415.5,548.4 1416.8,540 1418.1,542.2 1419.3,541.8 1420.6,539.8 1421.8,543.1 1423.1,537.8 1424.4,545.2 1425.6,539.5 1426.9,538.9 1428.1,541.3 1429.4,548 1430.7,543.5 1431.9,543.3 1433.2,546.3 1434.4,545 1435.7,547.9 1437,543.2 1438.2,545.3 1439.5,542.8 1440.7,538.7 1442,545.4 1443.3,541.1 1444.5,540.4 1445.8,543 1447,548.1 1448.3,539.4 1449.6,547.1 1450.8,543.3 1452.1,546 1453.3,539.1 1454.6,543.5 1455.9,544.8 1457.1,546.5 1458.4,542.7 1459.6,545.5 1460.9,540.8 1462.1,547.9 1463.4,538.8 1464.7,542.6 1465.9,547.4 1467.2,537.9 1468.4,545.9 1469.7,545.8 1471,540.4 1472.2,545.1 1473.5,548.2 1474.7,546.7 1476,547 1477.3,542.7 1478.5,545.1 1479.8,543.1 1481,539.6 1482.3,539.5 1483.6,544.4 1484.8,547.3 1486.1,547.9 1487.3,541.4 1488.6,545.5 1489.9,545.7 1491.1,538.6 1492.4,545.2 1493.6,541.3 1494.9,540.8 1496.2,540.3 1497.4,539.8 1498.7,540.9 1499.9,542.9 1501.2,548.4 1502.5,538.8 1503.7,546.1 1505,538.9 1506.2,545.9 1507.5,543.3 1508.8,544.1 1510,544.2 1511.3,537.4 1512.5,540.1 1513.8,542.8 1515.1,540.4 1516.3,537.2 1517.6,547.3 1518.8,545.3 1520.1,545.5 1521.4,547.4 1522.6,538.3 1523.9,537.2 1525.1,542.6 1526.4,546.1 1527.7,547.4 1528.9,544.9 1530.2,541.6 1531.4,548.6 1532.7,542.5 1533.9,538.5 1535.2,547.9 1536.5,544.2 1537.7,548.5 1539,544.9 1540.2,540.4 1541.5,546.8 1542.8,544.5 1544,546.1 1545.3,545.7 1546.5,543.5 1547.8,545.1 1549.1,537.9 1550.3,538.4 1551.6,543.5 1552.8,542.2 1554.1,545.8 1555.4,540.4 1556.6,542 1557.9,538.6 1559.1,539.9 1560.4,548.6 1561.7,538.6 1562.9,538.2 1564.2,538.8 1565.4,543.9 1566.7,541 1568,542.5 1569.2,547.9 1570.5,542 1571.7,550.6 1573,543.2 1574.3,544.1 1575.5,540 1576.8,543.1 1578,541.4 1579.3,548.7 1580.6,547 1581.8,539 1583.1,549.2 1584.3,544.9 1585.6,538.5 1586.9,545.3 1588.1,545 1589.4,538 1590.6,545.7 1591.9,545.7 1593.2,545.7 1594.4,539.6 1595.7,546.1 1596.9,544.9 1598.2,546.6 1599.5,539.2 1600.7,549 1602,542.5 1603.2,537.9 1604.5,541.5 1605.8,544.4 1607,548.7 1608.3,546.8 1609.5,541 1610.8,544.4 1612,546.2 1613.3,548.5 1614.6,547.6 1615.8,537.2 1617.1,546.7 1618.3,547.8 1619.6,547.6 1620.9,540.8 1622.1,540.5 1623.4,536.6 1624.6,541.3 1625.9,537.8 1627.2,544.9 1628.4,538 1629.7,547.3 1630.9,549.5 1632.2,544.5 1633.5,546.5 1634.7,542.4 1636,543.6 1637.2,546.8 1638.5,542.1 1639.8,547.8 1641,537.6 1642.3,538.6 1643.5,548.3 1644.8,539.1 1646.1,547.2 1647.3,546.4 1648.6,549.1 1649.8,546.8 1651.1,541.3 1652.4,543.8 1653.6,541.5 1654.9,547.3 1656.1,544 1657.4,541.4 1658.7,539.1 1659.9,547.1 1661.2,547.4 1662.4,537.8 1663.7,541.2 1665,539.5 1666.2,540.9 1667.5,538.4 1668.7,547.9 1670,538.2 1671.3,547.7 1672.5,544.9 1673.8,540.5 1675,542.8 1676.3,538.9 1677.6,544.2 1678.8,542.1 1680.1,545.8 1681.3,537.8 1682.6,545.9 1683.8,537.4 1685.1,538.2 1686.4,545.9 1687.6,538.1 1688.9,541.3 1690.1,548.6 1691.4,542.5 1692.7,538.7 1693.9,544.6 1695.2,548.3 1696.4,548 1697.7,543.3 1699,548.6 1700.2,547.8 1701.5,542.4 1702.7,546.7 1704,542.6 1705.3,542.6 1706.5,543.3 1707.8,548.5 1709,540" fill="none" stroke="#7f0000" stroke-width="3" stroke-linejoin="round"/>
<path d="M1057.8 543.9L1058.9 540.6L1059.6 523L1060.6 550L1061.3 543.7L1062.4 543.2M1067 541.5L1068.2 538.1L1068.8 502L1069.8 563.8L1070.5 545.1L1071.7 542.6M1113.3 544.1L1114.4 540.8L1115.1 525L1116.1 557.5L1116.8 544.5L1117.9 543M1150.8 541.7L1151.9 523.9L1152.6 431L1153.6 611.2L1154.3 549.8L1155.4 544.4M1151.8 543.7L1152.5 543.1L1153.2 539.6L1153.9 538.5L1154.6 531.3L1155.3 522.4L1156 513.3L1156.7 500L1157.4 485.8L1158.1 476.3L1158.8 473.8L1159.5 477.9L1160.2 487.1L1160.9 500.2L1161.6 514.3L1162.3 524.7L1163 533.4L1163.7 538.9L1164.4 540.2L1165.1 541L1165.8 543.3M1158.7 542.3L1159.4 543.8L1160.1 544.9L1160.8 543.9L1161.5 546.8L1162.2 550.8L1162.9 552.7L1163.6 557.6L1164.3 559.5L1165 559L1165.7 555.3L1166.4 551.6L1167.1 549.5L1167.8 545.8L1168.5 545.8L1169.2 543.7L1169.9 542.2M1167.3 543.8L1168.4 524.2L1169.1 440L1170.1 598.8L1170.8 548.6L1171.9 543.5M1170.8 544.6L1171.9 540.2L1172.6 520L1173.6 551L1174.3 543.8L1175.4 541.6M1279.8 543.4L1280.9 540.8L1281.6 525L1282.6 561L1283.3 544.8L1284.4 542.3M1292.3 544.1L1293.4 537.5L1294.1 497L1295.1 575L1295.8 546.2L1296.9 541.6M1330.8 544.7L1331.9 538.7L1332.6 507.5L1333.6 568.8L1334.3 545.6L1335.4 543M1404.8 544.3L1405.9 541.3L1406.6 528.8L1407.6 551L1408.3 543.8L1409.4 541.9M1420.3 541.4L1421.4 541.1L1422.1 527L1423.1 552L1423.8 543.9L1424.9 543.7M1433.3 543.3L1434.4 540.8L1435.1 525L1436.1 555L1436.8 544.2L1437.9 544.5M1452 545L1453.2 536.5L1453.8 488.8L1454.8 573.2L1455.5 546L1456.7 542.1M1540.8 544L1541.9 541.8L1542.6 533L1543.6 553L1544.3 544L1545.4 542.1M1579 543.9L1580.2 540.8L1580.8 525L1581.8 551L1582.5 543.8L1583.7 543M1662.8 544.5L1663.9 541.4L1664.6 530L1665.6 552L1666.3 543.9L1667.4 541.6M1687.8 544.9L1688.9 541.7L1689.6 532L1690.6 553L1691.3 544L1692.4 541.2" fill="none" stroke="#7f0000" stroke-width="2.5" stroke-linejoin="round" stroke-linecap="round"/>
<path d="M1151.3 431L1152.2 384L1152.9 384L1153.8 431ZM1167.8 440L1168.8 386L1169.4 386L1170.3 440Z" fill="#7f0000"/>
</g>
<rect x="907.9" y="2" width="801.6" height="639.9" fill="none" stroke="#000" stroke-width="4.3"/>
<text transform="translate(907.9 671.7) scale(1 1.065)" font-size="21.4" text-anchor="middle">10</text>
<text transform="translate(1022.4 671.7) scale(1 1.065)" font-size="21.4" text-anchor="middle">20</text>
<text transform="translate(1136.9 671.7) scale(1 1.065)" font-size="21.4" text-anchor="middle">30</text>
<text transform="translate(1251.4 671.7) scale(1 1.065)" font-size="21.4" text-anchor="middle">40</text>
<text transform="translate(1366 671.7) scale(1 1.065)" font-size="21.4" text-anchor="middle">50</text>
<text transform="translate(1480.5 671.7) scale(1 1.065)" font-size="21.4" text-anchor="middle">60</text>
<text transform="translate(1595 671.7) scale(1 1.065)" font-size="21.4" text-anchor="middle">70</text>
<text transform="translate(1709.5 671.7) scale(1 1.065)" font-size="21.4" text-anchor="middle">80</text>
<text transform="translate(1308.7 717.3) scale(1 1.065)" font-size="25.7" text-anchor="middle">2<tspan font-family='"Liberation Serif", "DejaVu Serif", serif' font-size="24.4">θ</tspan> (degree)</text>
<text transform="translate(884.5 328.6) scale(1 1.097) rotate(-90)" font-size="26.3" text-anchor="middle">Intensity (arb. units)</text>
<rect x="1413.2" y="23.2" width="199.5" height="116.4" fill="#fff" stroke="#3a3a3a" stroke-width="1.1"/>
<path d="M1416.2 39.4H1463.7" stroke="#000" stroke-width="0.7"/>
<ellipse cx="1439.7" cy="39.4" rx="8.4" ry="9" fill="url(#rg)"/>
<path d="M1416.2 66.9H1463.7" stroke="#000" stroke-width="3.2"/>
<path d="M1439.7 87.1V104.3" stroke="#0000ff" stroke-width="1.5"/>
<path d="M1416.2 123.2H1463.7" stroke="#7d0000" stroke-width="3.2"/>
<text transform="translate(1468 47.1)" font-size="21.3">Yobs</text>
<text transform="translate(1468 75.2)" font-size="21.3">Ycalc</text>
<text transform="translate(1468 103)" font-size="21.3">Bragg_position</text>
<text transform="translate(1468 130.9)" font-size="21.3">Yobs-Ycalc</text>
<text transform="translate(1388 197.1) scale(1 1.050)"><tspan font-size="26" dy="0">La</tspan><tspan font-size="15.3" dy="10">1.95</tspan><tspan font-size="26" dy="-10">Y</tspan><tspan font-size="15.3" dy="10">0.05</tspan><tspan font-size="26" dy="-10">NiO</tspan><tspan font-size="15.3" dy="10">4</tspan></text>
<marker id="b3" markerUnits="userSpaceOnUse" markerWidth="17.4" markerHeight="19" refX="8.7" refY="9.5" overflow="visible"><ellipse cx="8.7" cy="9.5" rx="7.7" ry="8.5" fill="url(#rg)"/></marker>
<clipPath id="c3"><rect x="479.2" y="749" width="806.1" height="646.3"/></clipPath>
<path d="M480.7 772.2h12.1M1283.8 772.2h-12.1M480.7 795.3h6.4M1283.8 795.3h-6.4M480.7 818.4h12.1M1283.8 818.4h-12.1M480.7 841.5h6.4M1283.8 841.5h-6.4M480.7 864.5h12.1M1283.8 864.5h-12.1M480.7 887.6h6.4M1283.8 887.6h-6.4M480.7 910.7h12.1M1283.8 910.7h-12.1M480.7 933.8h6.4M1283.8 933.8h-6.4M480.7 956.9h12.1M1283.8 956.9h-12.1M480.7 980h6.4M1283.8 980h-6.4M480.7 1003.1h12.1M1283.8 1003.1h-12.1M480.7 1026.1h6.4M1283.8 1026.1h-6.4M480.7 1049.2h12.1M1283.8 1049.2h-12.1M480.7 1072.3h6.4M1283.8 1072.3h-6.4M480.7 1095.4h12.1M1283.8 1095.4h-12.1M480.7 1118.5h6.4M1283.8 1118.5h-6.4M480.7 1141.6h12.1M1283.8 1141.6h-12.1M480.7 1164.6h6.4M1283.8 1164.6h-6.4M480.7 1187.7h12.1M1283.8 1187.7h-12.1M480.7 1210.8h6.4M1283.8 1210.8h-6.4M480.7 1233.9h12.1M1283.8 1233.9h-12.1M480.7 1257h6.4M1283.8 1257h-6.4M480.7 1280.1h12.1M1283.8 1280.1h-12.1M480.7 1303.2h6.4M1283.8 1303.2h-6.4M480.7 1326.2h12.1M1283.8 1326.2h-12.1M480.7 1349.3h6.4M1283.8 1349.3h-6.4M480.7 1372.4h12.1M1283.8 1372.4h-12.1M538.1 749v6.4M538.1 1395.3v-6.4M595.4 749v12.1M595.4 1395.3v-12.1M652.8 749v6.4M652.8 1395.3v-6.4M710.2 749v12.1M710.2 1395.3v-12.1M767.5 749v6.4M767.5 1395.3v-6.4M824.9 749v12.1M824.9 1395.3v-12.1M882.2 749v6.4M882.2 1395.3v-6.4M939.6 749v12.1M939.6 1395.3v-12.1M997 749v6.4M997 1395.3v-6.4M1054.3 749v12.1M1054.3 1395.3v-12.1M1111.7 749v6.4M1111.7 1395.3v-6.4M1169.1 749v12.1M1169.1 1395.3v-12.1M1226.4 749v6.4M1226.4 1395.3v-6.4" stroke="#000" stroke-width="4.5" fill="none"/>
<g clip-path="url(#c3)">
<path d="M642.2 1073L642.3 1064M642.6 1064L642.7 1079M723.4 1152.5L723.6 1123M723.8 1101L723.9 1086.7M724.1 1064.8L724.3 1003.5M725.1 947.8L725.4 858.5M725.5 836.5L725.7 797.2M725.8 797.2L726.1 870.3M726.1 892.2L726.4 956.5M726.8 993.5L727.1 1049.8M727.2 1071.7L727.4 1088.3M727.6 1110.2L727.7 1133.6M732.4 1164.3L732.6 1137.6M740.3 1151.3L740.5 1135M741 1091.5L741.2 1044M742 996L742.2 941M742.4 919L742.6 887.7M742.7 887.7L742.9 940.8M743 962.7L743.3 1001.5M743.7 1041L743.9 1070.3M744.1 1092.2L744.2 1104M744.5 1126L744.6 1134.5M867.3 1099L867.4 1091.5M867.7 1069.5L867.8 1066.5M868 1066.5L868.2 1093M906.6 1072L906.7 1064.5M906.9 1064.5L907 1077M1028.8 1088.5L1028.9 1095" fill="none" stroke="#000" stroke-width="1.1"/>
<polyline points="480.7,1168 481,1164 481.4,1161.5 481.7,1164.1 482.1,1165.1 482.4,1165.2 482.8,1160.2 483.1,1166.1 483.5,1162.3 483.8,1167 484.1,1166.3 484.5,1166.5 484.8,1165.1 485.2,1169.4 485.5,1167.8 485.9,1160.8 486.2,1164.4 486.6,1165 486.9,1165.6 487.2,1168.4 487.6,1160.1 487.9,1160.7 488.3,1161.6 488.6,1162.5 489,1167.1 489.3,1168.8 489.6,1162.6 490,1163.6 490.3,1162 490.7,1167.8 491,1167.8 491.4,1161.4 491.7,1162 492.1,1165.7 492.4,1159.6 492.7,1167 493.1,1165.6 493.4,1159.7 493.8,1168.3 494.1,1163.7 494.5,1160.4 494.8,1164.8 495.2,1163.7 495.5,1165.3 495.8,1168.4 496.2,1168.6 496.5,1168.6 496.9,1163.9 497.2,1167.3 497.6,1159.8 497.9,1166.8 498.3,1163.6 498.6,1167.1 498.9,1168.4 499.3,1169.8 499.6,1166.5 500,1170.4 500.3,1166.2 500.7,1163.2 501,1164.4 501.4,1164.3 501.7,1167.7 502,1166.1 502.4,1169.1 502.7,1164 503.1,1167 503.4,1163.1 503.8,1163.5 504.1,1162.5 504.4,1167.5 504.8,1169.1 505.1,1169.6 505.5,1166.9 505.8,1169.1 506.2,1166.7 506.5,1163.1 506.9,1170 507.2,1162.5 507.5,1166.9 507.9,1165 508.2,1168.5 508.6,1165.4 508.9,1164.4 509.3,1162.3 509.6,1166.2 510,1169 510.3,1168.4 510.6,1165.1 511,1163.4 511.3,1163.8 511.7,1166.3 512,1161.7 512.4,1162.6 512.7,1166 513.1,1164.4 513.4,1164.7 513.7,1167.3 514.1,1166.4 514.4,1166.6 514.8,1164.9 515.1,1165.5 515.5,1167 515.8,1163.7 516.2,1167.3 516.5,1170.1 516.8,1161.4 517.2,1168.5 517.5,1167.7 517.9,1170.3 518.2,1167.2 518.6,1163.1 518.9,1167.1 519.2,1164.9 519.6,1168.1 519.9,1162 520.3,1161.7 520.6,1167 521,1163 521.3,1166.1 521.7,1162.9 522,1168.4 522.3,1163.8 522.7,1170.8 523,1168.9 523.4,1164.2 523.7,1165.2 524.1,1166.5 524.4,1164.4 524.8,1165.5 525.1,1161.8 525.4,1160.9 525.8,1149.6 526.1,1154.7 526.5,1150.7 526.8,1154.1 527.2,1154.9 527.5,1159.8 527.9,1164.1 528.2,1168.1 528.5,1166.6 528.9,1165.9 529.2,1168.9 529.6,1170.5 529.9,1162.7 530.3,1166.6 530.6,1170.2 531,1165.4 531.3,1168.1 531.6,1168.9 532,1163.8 532.3,1165.6 532.7,1170 533,1171.8 533.4,1163.7 533.7,1166.5 534,1169.3 534.4,1167.8 534.7,1170.2 535.1,1168.8 535.4,1167.8 535.8,1166.2 536.1,1164.7 536.5,1168.6 536.8,1168.4 537.1,1172.4 537.5,1168.8 537.8,1167.7 538.2,1170.2 538.5,1164.5 538.9,1171 539.2,1170.4 539.6,1168.4 539.9,1166.4 540.2,1168.9 540.6,1167.3 540.9,1167.8 541.3,1167.8 541.6,1165 542,1165.4 542.3,1165.5 542.7,1165.7 543,1168.9 543.3,1167.3 543.7,1166.1 544,1167.8 544.4,1167.2 544.7,1167.4 545.1,1168.4 545.4,1165.7 545.8,1168 546.1,1172.3 546.4,1168.1 546.8,1164.8 547.1,1172.7 547.5,1172.1 547.8,1166 548.2,1164.6 548.5,1169.9 548.8,1171.2 549.2,1164.8 549.5,1172.3 549.9,1165.5 550.2,1167.8 550.6,1164.5 550.9,1168.9 551.3,1168.4 551.6,1171.8 551.9,1168.8 552.3,1171.4 552.6,1171.5 553,1167.7 553.3,1171.2 553.7,1168.1 554,1167.3 554.4,1174.2 554.7,1168.1 555,1169.9 555.4,1174.1 555.7,1170.3 556.1,1169.2 556.4,1167.6 556.8,1169.1 557.1,1171.1 557.5,1170.9 557.8,1167.4 558.1,1166.3 558.5,1171.4 558.8,1167 559.2,1167.4 559.5,1173.8 559.9,1168.2 560.2,1170.3 560.6,1173.2 560.9,1170.1 561.2,1170 561.6,1174.3 561.9,1168.3 562.3,1173.3 562.6,1168.2 563,1166.8 563.3,1168.2 563.6,1173.3 564,1165.8 564.3,1167.6 564.7,1167.3 565,1171.8 565.4,1172.6 565.7,1173.2 566.1,1172.2 566.4,1169.9 566.7,1165.6 567.1,1173.6 567.4,1169 567.8,1174.6 568.1,1167.1 568.5,1167.1 568.8,1169.9 569.2,1168.5 569.5,1167.5 569.8,1170 570.2,1166.8 570.5,1173.1 570.9,1170.6 571.2,1168.3 571.6,1166.8 571.9,1167.2 572.3,1171 572.6,1173.2 572.9,1167.4 573.3,1169.4 573.6,1168.9 574,1170.7 574.3,1173.1 574.7,1170.3 575,1172.8 575.4,1171.8 575.7,1168.4 576,1170.3 576.4,1169.7 576.7,1167.3 577.1,1167.7 577.4,1171.5 577.8,1170.8 578.1,1170.5 578.4,1168.4 578.8,1170.9 579.1,1170.2 579.5,1168.4 579.8,1167.4 580.2,1167.4 580.5,1173.8 580.9,1167.3 581.2,1173.7 581.5,1170.1 581.9,1166.1 582.2,1170.6 582.6,1168.2 582.9,1168.8 583.3,1166.8 583.6,1170.5 584,1172.1 584.3,1174.1 584.6,1166 585,1170.9 585.3,1173.5 585.7,1173.9 586,1173.8 586.4,1173.3 586.7,1172.6 587.1,1173.9 587.4,1169.7 587.7,1169 588.1,1173.9 588.4,1168.8 588.8,1172.4 589.1,1173.9 589.5,1170.1 589.8,1170 590.2,1169.7 590.5,1167.2 590.8,1171.6 591.2,1171 591.5,1167.5 591.9,1170.2 592.2,1173.4 592.6,1171.6 592.9,1169.7 593.2,1175.5 593.6,1172.6 593.9,1166.8 594.3,1171.6 594.6,1175.2 595,1172.1 595.3,1170.3 595.7,1168.4 596,1172 596.3,1174.3 596.7,1168.5 597,1168.7 597.4,1168.5 597.7,1167.2 598.1,1170 598.4,1168.5 598.8,1175.3 599.1,1170.5 599.4,1168.7 599.8,1171.5 600.1,1172.5 600.5,1173.7 600.8,1169 601.2,1171 601.5,1170.4 601.9,1172.7 602.2,1167.6 602.5,1171 602.9,1174.9 603.2,1170.3 603.6,1169.8 603.9,1172 604.3,1170.7 604.6,1173.7 605,1171 605.3,1173.8 605.6,1175.2 606,1169.6 606.3,1169.5 606.7,1166.9 607,1172.4 607.4,1170.2 607.7,1169.1 608,1171.9 608.4,1166.4 608.7,1168.7 609.1,1172.7 609.4,1167.9 609.8,1171.1 610.1,1171.7 610.5,1170.6 610.8,1169.6 611.1,1169.2 611.5,1175.7 611.8,1170.5 612.2,1170.6 612.5,1171 612.9,1168.8 613.2,1175.5 613.6,1175.1 613.9,1171.7 614.2,1175 614.6,1169.2 614.9,1171.1 615.3,1173 615.6,1171.2 616,1171.3 616.3,1171.9 616.7,1169 617,1169.1 617.3,1169.1 617.7,1171.8 618,1173.4 618.4,1174.2 618.7,1172.8 619.1,1174.4 619.4,1169.3 619.8,1175.4 620.1,1172.5 620.4,1171.5 620.8,1170.9 621.1,1170.9 621.5,1171.7 621.8,1168.9 622.2,1174.8 622.5,1173.3 622.8,1168.7 623.2,1170.1 623.5,1169.6 623.9,1169 624.2,1171.8 624.6,1172.4 624.9,1171.8 625.3,1171.2 625.6,1174.2 625.9,1170.3 626.3,1174.6 626.6,1171.1 627,1172.6 627.3,1175 627.7,1173.2 628,1172.8 628.4,1168.3 628.7,1170.6 629,1173.4 629.4,1174.4 629.7,1172.7 630.1,1170.9 630.4,1168.6 630.8,1169.4 631.1,1165.1 631.5,1165.6 631.8,1168.2 632.1,1165 632.5,1165.7 632.8,1167 633.2,1166.8 633.5,1161.7 633.9,1165.4 634.2,1163.5 634.6,1165.2 634.9,1165.5 635.2,1170.4 635.6,1172.4 635.9,1172.9 636.3,1176.5 636.6,1171.8 637,1172.2 637.3,1171.1 637.6,1175 638,1175.2 638.3,1172.7 638.7,1171.3 639,1174.8 639.4,1174.1 639.7,1167.2 640.1,1159.6 640.4,1154.1 640.7,1144 641.1,1128 641.4,1112 641.8,1098 642.1,1084 642.5,1053 642.8,1090 643.2,1103 643.5,1118 643.8,1134 644.2,1150 644.5,1148.3 644.9,1157.9 645.2,1167.8 645.6,1175.3 645.9,1169.1 646.3,1174.9 646.6,1173.8 646.9,1171.2 647.3,1169.4 647.6,1171.2 648,1170.3 648.3,1173.8 648.7,1170.8 649,1171.9 649.4,1169.7 649.7,1172.5 650,1170.4 650.4,1168.9 650.7,1167.2 651.1,1167.5 651.4,1172.8 651.8,1169.4 652.1,1170.6 652.4,1170.9 652.8,1171.4 653.1,1172.6 653.5,1173.5 653.8,1175.9 654.2,1169.6 654.5,1174.5 654.9,1169.5 655.2,1172 655.5,1176 655.9,1170.6 656.2,1173.1 656.6,1169.5 656.9,1172.1 657.3,1172.4 657.6,1171.4 658,1173 658.3,1171.4 658.6,1172.5 659,1173 659.3,1175.5 659.7,1170.7 660,1172.5 660.4,1169.5 660.7,1171.6 661.1,1173.2 661.4,1176.6 661.7,1174.5 662.1,1175.1 662.4,1168.4 662.8,1176.6 663.1,1175.4 663.5,1168.9 663.8,1174.8 664.2,1171.3 664.5,1172.2 664.8,1175.7 665.2,1173.1 665.5,1173.7 665.9,1174.1 666.2,1175.8 666.6,1171 666.9,1172.4 667.2,1175.3 667.6,1171.8 667.9,1173.5 668.3,1171.2 668.6,1176.4 669,1171.4 669.3,1175.6 669.7,1174 670,1168.7 670.3,1172.7 670.7,1172.6 671,1174 671.4,1169.9 671.7,1174.3 672.1,1170.3 672.4,1168.4 672.8,1171.4 673.1,1171.6 673.4,1176 673.8,1175.5 674.1,1175 674.5,1175.6 674.8,1172.3 675.2,1170.5 675.5,1173.2 675.9,1171.5 676.2,1172.2 676.5,1174.5 676.9,1169.7 677.2,1170.3 677.6,1174.3 677.9,1170.4 678.3,1172.4 678.6,1172 679,1169.5 679.3,1169 679.6,1174.7 680,1175.1 680.3,1173.2 680.7,1173.6 681,1169.1 681.4,1170.6 681.7,1173.4 682,1173.3 682.4,1172.6 682.7,1173.9 683.1,1172.6 683.4,1172.2 683.8,1171.8 684.1,1172.4 684.5,1174.9 684.8,1174.2 685.1,1171.3 685.5,1168 685.8,1167.4 686.2,1169.8 686.5,1167 686.9,1168.5 687.2,1161 687.6,1153.3 687.9,1144.5 688.2,1125.9 688.6,1121 688.9,1122.1 689.3,1132 689.6,1143.9 690,1152.9 690.3,1162.1 690.7,1168.7 691,1169 691.3,1168.1 691.7,1173.9 692,1171.3 692.4,1173.3 692.7,1170.6 693.1,1170.7 693.4,1174.7 693.8,1175.4 694.1,1167.9 694.4,1170.1 694.8,1172.5 695.1,1168.9 695.5,1169.1 695.8,1167.6 696.2,1174.9 696.5,1172.2 696.8,1170.6 697.2,1168.6 697.5,1173.9 697.9,1168.4 698.2,1175.2 698.6,1169.3 698.9,1174.4 699.3,1174.9 699.6,1167.9 699.9,1171.4 700.3,1173.6 700.6,1171.9 701,1175.1 701.3,1170.8 701.7,1174.6 702,1174.6 702.4,1171.6 702.7,1175.1 703,1171.3 703.4,1172.4 703.7,1170.7 704.1,1168.1 704.4,1174.9 704.8,1172.2 705.1,1170.6 705.5,1175.2 705.8,1168.7 706.1,1172.6 706.5,1172.9 706.8,1175.3 707.2,1174.2 707.5,1173 707.9,1172 708.2,1170.2 708.6,1172.1 708.9,1169.7 709.2,1176.1 709.6,1175.1 709.9,1172 710.3,1169.5 710.6,1168.9 711,1173.3 711.3,1168.3 711.6,1172 712,1169.3 712.3,1175.4 712.7,1168.6 713,1170 713.4,1167.9 713.7,1168.7 714.1,1170.7 714.4,1171.8 714.7,1172.2 715.1,1174.5 715.4,1171.5 715.8,1174.6 716.1,1174 716.5,1169.5 716.8,1168.4 717.2,1169.3 717.5,1173.3 717.8,1171.2 718.2,1174.5 718.5,1174.4 718.9,1167.5 719.2,1169.2 719.6,1169.6 719.9,1172.8 720.3,1175.8 720.6,1168.9 720.9,1175.6 721.3,1176.7 721.6,1173.1 722,1171.1 722.3,1175.3 722.7,1169.4 723,1169.6 723.4,1163.5 723.7,1112 724,1075.8 724.4,992.5 724.7,973.8 725.1,958.8 725.4,847.5 725.8,786.2 726.1,881.2 726.4,967.5 726.8,982.5 727.1,1060.8 727.5,1099.2 727.8,1144.6 728.2,1150.7 728.5,1158.9 728.9,1167.9 729.2,1171.6 729.5,1169.8 729.9,1171.7 730.2,1176.6 730.6,1173.5 730.9,1170.3 731.3,1176.4 731.6,1169.4 732,1173.5 732.3,1175.3 732.6,1126.6 733,1136.3 733.3,1143.6 733.7,1149.8 734,1150.7 734.4,1160.2 734.7,1157.1 735.1,1162.9 735.4,1167.4 735.7,1168.1 736.1,1173.1 736.4,1173.8 736.8,1174.6 737.1,1174.8 737.5,1173.2 737.8,1169.9 738.2,1170.3 738.5,1175.3 738.8,1173.6 739.2,1171.4 739.5,1173.1 739.9,1170.4 740.2,1162.3 740.6,1124 740.9,1102.5 741.2,1033 741.6,1025 741.9,1007 742.3,930 742.6,876.8 743,951.8 743.3,1012.5 743.7,1030 744,1081.2 744.3,1115 744.7,1145.5 745,1154.7 745.4,1162.4 745.7,1168 746.1,1173.7 746.4,1175.6 746.8,1171.6 747.1,1169.3 747.4,1171.3 747.8,1170.7 748.1,1170 748.5,1171.1 748.8,1173.3 749.2,1172.2 749.5,1169.5 749.9,1170.7 750.2,1170.6 750.5,1167.3 750.9,1167.7 751.2,1172.7 751.6,1175 751.9,1167.8 752.3,1170.4 752.6,1171.8 753,1171.4 753.3,1174.5 753.6,1173.1 754,1171.1 754.3,1170.6 754.7,1173.2 755,1173.2 755.4,1171.7 755.7,1173.3 756,1174.3 756.4,1173.4 756.7,1170.7 757.1,1175.9 757.4,1170.9 757.8,1171.6 758.1,1175.8 758.5,1175.2 758.8,1170.7 759.1,1168.7 759.5,1170.7 759.8,1175.1 760.2,1174.7 760.5,1170.9 760.9,1175.6 761.2,1175.6 761.6,1175.3 761.9,1172.4 762.2,1173.4 762.6,1177.5 762.9,1173 763.3,1170.6 763.6,1176 764,1171.3 764.3,1176.4 764.7,1173.4 765,1172.3 765.3,1175.8 765.7,1170.9 766,1171.1 766.4,1172.4 766.7,1173.5 767.1,1174.3 767.4,1174.7 767.8,1172.8 768.1,1176.3 768.4,1170.6 768.8,1173.3 769.1,1178.5 769.5,1174.3 769.8,1172.5 770.2,1176.8 770.5,1178.3 770.8,1171.7 771.2,1177.3 771.5,1174.5 771.9,1173.9 772.2,1170.5 772.6,1175.4 772.9,1171.4 773.3,1170.9 773.6,1176.5 773.9,1175.5 774.3,1173.5 774.6,1176.8 775,1170.2 775.3,1174.1 775.7,1173.3 776,1171.4 776.4,1172.5 776.7,1170.2 777,1170.5 777.4,1166.7 777.7,1166.6 778.1,1167.9 778.4,1176.2 778.8,1170.2 779.1,1172.6 779.5,1174.9 779.8,1174.2 780.1,1173.8 780.5,1177.7 780.8,1172.6 781.2,1172.6 781.5,1174.7 781.9,1173.6 782.2,1173.7 782.6,1170.1 782.9,1175.9 783.2,1172.7 783.6,1171.1 783.9,1171.4 784.3,1169.9 784.6,1172.2 785,1170.4 785.3,1174.3 785.6,1176 786,1170.7 786.3,1171.9 786.7,1170.1 787,1171.2 787.4,1175 787.7,1173.9 788.1,1170 788.4,1173.9 788.7,1178.1 789.1,1173.4 789.4,1176 789.8,1178.6 790.1,1173.1 790.5,1171.6 790.8,1175.3 791.2,1173.2 791.5,1174.6 791.8,1177.2 792.2,1175.3 792.5,1174.3 792.9,1171.3 793.2,1170.9 793.6,1172 793.9,1175.2 794.3,1176.3 794.6,1174.6 794.9,1175.8 795.3,1176.2 795.6,1171.4 796,1175.8 796.3,1173.7 796.7,1171.7 797,1170.1 797.4,1175.4 797.7,1170.6 798,1175.3 798.4,1176.2 798.7,1173.4 799.1,1172.2 799.4,1171.1 799.8,1175.2 800.1,1177.3 800.4,1175.4 800.8,1171.6 801.1,1176.5 801.5,1169.9 801.8,1174.2 802.2,1175.1 802.5,1176.2 802.9,1173.9 803.2,1172.9 803.5,1172.6 803.9,1171.6 804.2,1172 804.6,1172.6 804.9,1172 805.3,1177.4 805.6,1173.4 806,1173.6 806.3,1176.5 806.6,1171.4 807,1173.8 807.3,1176.8 807.7,1171.9 808,1173.6 808.4,1173.6 808.7,1171.1 809.1,1177.1 809.4,1177.9 809.7,1171.3 810.1,1174.9 810.4,1174.8 810.8,1177.3 811.1,1175.6 811.5,1177.4 811.8,1177.9 812.2,1175.6 812.5,1176.1 812.8,1176.7 813.2,1171.9 813.5,1174.9 813.9,1176.6 814.2,1171.7 814.6,1177 814.9,1169.5 815.2,1175.2 815.6,1173.6 815.9,1173.8 816.3,1172.2 816.6,1174 817,1173.5 817.3,1178.7 817.7,1175 818,1171.4 818.3,1171.5 818.7,1173.4 819,1175.7 819.4,1176.6 819.7,1178.5 820.1,1172.9 820.4,1171.4 820.8,1177.3 821.1,1176.4 821.4,1174.2 821.8,1172.2 822.1,1173.3 822.5,1178.5 822.8,1173.7 823.2,1176 823.5,1175.7 823.9,1175.5 824.2,1174.2 824.5,1178 824.9,1178.6 825.2,1175 825.6,1171.4 825.9,1173.5 826.3,1171.1 826.6,1171.8 827,1177 827.3,1177.2 827.6,1172.2 828,1173.1 828.3,1177.9 828.7,1171.7 829,1171.2 829.4,1174 829.7,1171.5 830,1171.4 830.4,1173.1 830.7,1178 831.1,1174.3 831.4,1176.3 831.8,1176.4 832.1,1174.7 832.5,1174.5 832.8,1176.1 833.1,1175.1 833.5,1175 833.8,1177.2 834.2,1175.2 834.5,1174.9 834.9,1175.7 835.2,1175.2 835.6,1172.7 835.9,1175.4 836.2,1177.8 836.6,1174.1 836.9,1174.1 837.3,1171.8 837.6,1171.2 838,1174.8 838.3,1175.2 838.7,1176.3 839,1172 839.3,1176.2 839.7,1171.3 840,1171 840.4,1176.6 840.7,1175.1 841.1,1172.7 841.4,1177.7 841.8,1176.4 842.1,1175.5 842.4,1170.8 842.8,1174.5 843.1,1171.9 843.5,1173.3 843.8,1175.7 844.2,1175.5 844.5,1174.1 844.8,1175.1 845.2,1173.1 845.5,1176.1 845.9,1173.5 846.2,1170.9 846.6,1172.9 846.9,1170.9 847.3,1170.1 847.6,1173.4 847.9,1172.4 848.3,1174.9 848.6,1175 849,1170.2 849.3,1174.9 849.7,1170.2 850,1169.3 850.4,1167.4 850.7,1169.4 851,1167.6 851.4,1172.4 851.7,1167.8 852.1,1162.6 852.4,1162.3 852.8,1159.5 853.1,1152.9 853.5,1140.5 853.8,1132.9 854.1,1122.7 854.5,1112.3 854.8,1111 855.2,1114.2 855.5,1116.3 855.9,1127.9 856.2,1135.5 856.6,1148.7 856.9,1150.1 857.2,1160.1 857.6,1160.4 857.9,1165.3 858.3,1169.8 858.6,1165.1 859,1168.4 859.3,1171.3 859.6,1171.5 860,1164.4 860.3,1169.6 860.7,1167.8 861,1172.8 861.4,1172.4 861.7,1171 862.1,1175.4 862.4,1173 862.7,1172.1 863.1,1173.4 863.4,1178.2 863.8,1173 864.1,1175 864.5,1175.9 864.8,1176.1 865.2,1173.5 865.5,1166.4 865.8,1160.6 866.2,1150 866.5,1136 866.9,1122 867.2,1110 867.6,1080.5 867.9,1055.5 868.3,1104 868.6,1116 868.9,1130 869.3,1144 869.6,1139.5 870,1156.9 870.3,1165.4 870.7,1173.9 871,1174.5 871.4,1176.2 871.7,1174.9 872,1175.2 872.4,1170.8 872.7,1173.8 873.1,1174.8 873.4,1176.9 873.8,1172.5 874.1,1175.3 874.4,1168.7 874.8,1169.5 875.1,1170.6 875.5,1173.9 875.8,1168.2 876.2,1173.4 876.5,1169.9 876.9,1169.6 877.2,1174.6 877.5,1175.8 877.9,1173.3 878.2,1172.2 878.6,1170.4 878.9,1173.6 879.3,1176.6 879.6,1174.3 880,1171.2 880.3,1177.2 880.6,1176.7 881,1176.4 881.3,1170.6 881.7,1173.4 882,1176.2 882.4,1172.2 882.7,1171.9 883.1,1172.8 883.4,1176.6 883.7,1173.7 884.1,1170.9 884.4,1175.4 884.8,1172.4 885.1,1178.3 885.5,1170.8 885.8,1169.8 886.2,1177.1 886.5,1171.1 886.8,1172.3 887.2,1171.3 887.5,1175.3 887.9,1172.3 888.2,1176.9 888.6,1175.8 888.9,1178 889.2,1173.6 889.6,1176 889.9,1174.9 890.3,1172.6 890.6,1178.1 891,1171.3 891.3,1172.3 891.7,1173.2 892,1172.1 892.3,1177.7 892.7,1170.6 893,1172.9 893.4,1176.1 893.7,1172.2 894.1,1174 894.4,1173.7 894.8,1173.6 895.1,1174.8 895.4,1171.7 895.8,1171.8 896.1,1171.5 896.5,1175 896.8,1174.3 897.2,1171.5 897.5,1170.2 897.9,1171.6 898.2,1170.8 898.5,1174.7 898.9,1168.3 899.2,1170.1 899.6,1170.3 899.9,1172.4 900.3,1174.4 900.6,1171.1 901,1174.1 901.3,1177.3 901.6,1173 902,1171.4 902.3,1177.2 902.7,1171.2 903,1175.5 903.4,1171.3 903.7,1168.6 904,1162.5 904.4,1156 904.7,1146 905.1,1140 905.4,1122 905.8,1108 906.1,1095 906.5,1083 906.8,1053.5 907.1,1088 907.5,1100 907.8,1114 908.2,1130 908.5,1148 908.9,1140.1 909.2,1154.7 909.6,1161.2 909.9,1167.3 910.2,1176.7 910.6,1171 910.9,1171.9 911.3,1178.7 911.6,1173.8 912,1171.3 912.3,1176.6 912.7,1172 913,1177.4 913.3,1172.9 913.7,1175 914,1175.8 914.4,1171.5 914.7,1168.7 915.1,1175 915.4,1171.2 915.8,1171.1 916.1,1176.1 916.4,1172.7 916.8,1171.5 917.1,1169.6 917.5,1175.4 917.8,1170 918.2,1173.7 918.5,1170.6 918.8,1176.4 919.2,1171.6 919.5,1175.9 919.9,1174.2 920.2,1176.6 920.6,1174.9 920.9,1174.4 921.3,1174.1 921.6,1173.9 921.9,1174.6 922.3,1171 922.6,1175.2 923,1172.8 923.3,1172.8 923.7,1175.8 924,1170.8 924.4,1174.5 924.7,1177.2 925,1176.4 925.4,1171.2 925.7,1177.6 926.1,1173.4 926.4,1172.4 926.8,1171.9 927.1,1177.4 927.5,1178 927.8,1174.1 928.1,1172.5 928.5,1173.6 928.8,1174.1 929.2,1175 929.5,1171.3 929.9,1176.9 930.2,1172.6 930.6,1175.5 930.9,1172.4 931.2,1177.6 931.6,1170.6 931.9,1171.9 932.3,1176.8 932.6,1175.9 933,1177.5 933.3,1173.8 933.6,1171 934,1175.1 934.3,1172.9 934.7,1176.1 935,1172.4 935.4,1173.4 935.7,1176.2 936.1,1178.2 936.4,1173.3 936.7,1172.4 937.1,1171.6 937.4,1174.4 937.8,1178.3 938.1,1175 938.5,1176.4 938.8,1176.3 939.2,1176.4 939.5,1174.7 939.8,1173 940.2,1173.3 940.5,1179.5 940.9,1177 941.2,1176.5 941.6,1172.4 941.9,1175.2 942.3,1171.3 942.6,1174.1 942.9,1175.9 943.3,1176.6 943.6,1175.8 944,1175.5 944.3,1175.9 944.7,1175.2 945,1174.2 945.4,1173.8 945.7,1174 946,1175.2 946.4,1176.8 946.7,1178 947.1,1175 947.4,1174.1 947.8,1175.5 948.1,1172.6 948.4,1178.2 948.8,1174.7 949.1,1172.4 949.5,1173.2 949.8,1172.8 950.2,1174.7 950.5,1174.1 950.9,1174.9 951.2,1173 951.5,1175.8 951.9,1178.1 952.2,1171 952.6,1172.7 952.9,1176.9 953.3,1178.6 953.6,1177.7 954,1178.8 954.3,1171.9 954.6,1174.5 955,1173.1 955.3,1175.4 955.7,1173.3 956,1174.6 956.4,1175.1 956.7,1170.8 957.1,1175.9 957.4,1176.3 957.7,1175 958.1,1172.9 958.4,1171.4 958.8,1174.8 959.1,1175.1 959.5,1174.4 959.8,1173.7 960.2,1177.3 960.5,1175.6 960.8,1175.1 961.2,1178.5 961.5,1172.3 961.9,1177.2 962.2,1175.9 962.6,1173.5 962.9,1176.5 963.2,1177.9 963.6,1175.4 963.9,1176.2 964.3,1172.4 964.6,1174.5 965,1173 965.3,1173.2 965.7,1174 966,1175.5 966.3,1175.7 966.7,1173.5 967,1176.1 967.4,1171.1 967.7,1174.6 968.1,1178.1 968.4,1174.1 968.8,1176.2 969.1,1175.5 969.4,1173.6 969.8,1173.6 970.1,1171.6 970.5,1178.4 970.8,1173.7 971.2,1173.6 971.5,1174.5 971.9,1177.5 972.2,1173.1 972.5,1174.6 972.9,1176.3 973.2,1171.3 973.6,1172.9 973.9,1178.1 974.3,1176.3 974.6,1174.1 975,1172.8 975.3,1175 975.6,1176.1 976,1173.2 976.3,1172.1 976.7,1172.8 977,1172 977.4,1172.4 977.7,1169.6 978,1168.1 978.4,1171.4 978.7,1166.8 979.1,1169 979.4,1164.4 979.8,1159.9 980.1,1157 980.5,1150.4 980.8,1149 981.1,1147.5 981.5,1151.8 981.8,1147.4 982.2,1153.3 982.5,1155.8 982.9,1162.6 983.2,1163 983.6,1166.7 983.9,1169.1 984.2,1172 984.6,1173.9 984.9,1171.9 985.3,1170.1 985.6,1171.9 986,1170.3 986.3,1175 986.7,1172 987,1171.1 987.3,1176.4 987.7,1171.5 988,1173.7 988.4,1172.5 988.7,1174.3 989.1,1170.3 989.4,1174 989.8,1174.8 990.1,1171 990.4,1174.5 990.8,1170.6 991.1,1169.9 991.5,1174.2 991.8,1171.9 992.2,1170.6 992.5,1171.7 992.8,1164.6 993.2,1167 993.5,1162.5 993.9,1160 994.2,1153.4 994.6,1147.3 994.9,1147.3 995.3,1144.8 995.6,1140.5 995.9,1140 996.3,1141.1 996.6,1145.7 997,1153.9 997.3,1160.6 997.7,1157 998,1162.9 998.4,1167.8 998.7,1169.8 999,1168.8 999.4,1169.9 999.7,1171.4 1000.1,1169.4 1000.4,1173.4 1000.8,1170.9 1001.1,1172.4 1001.5,1169.1 1001.8,1168.4 1002.1,1176 1002.5,1171.5 1002.8,1174 1003.2,1174.7 1003.5,1169.3 1003.9,1166 1004.2,1167.2 1004.6,1166.2 1004.9,1160.6 1005.2,1162.4 1005.6,1153.6 1005.9,1155.9 1006.3,1147.1 1006.6,1145.6 1007,1142.4 1007.3,1140.4 1007.6,1140.1 1008,1143.4 1008.3,1134.9 1008.7,1136 1009,1133.5 1009.4,1142.3 1009.7,1149.4 1010.1,1148.5 1010.4,1155.1 1010.7,1160 1011.1,1166.2 1011.4,1168.3 1011.8,1165.5 1012.1,1167.8 1012.5,1174.9 1012.8,1173.6 1013.2,1169.9 1013.5,1173.1 1013.8,1174.5 1014.2,1169.5 1014.5,1170.3 1014.9,1170.9 1015.2,1172.6 1015.6,1174.7 1015.9,1175 1016.3,1175.5 1016.6,1175.5 1016.9,1173.4 1017.3,1171.1 1017.6,1177 1018,1175 1018.3,1172.8 1018.7,1170.7 1019,1174.4 1019.4,1173 1019.7,1176.7 1020,1174.6 1020.4,1175.3 1020.7,1175.4 1021.1,1175.5 1021.4,1173.6 1021.8,1171.2 1022.1,1170.4 1022.4,1174.9 1022.8,1173.7 1023.1,1172.9 1023.5,1171.9 1023.8,1174.6 1024.2,1176.3 1024.5,1177.3 1024.9,1173.7 1025.2,1172.3 1025.5,1177.4 1025.9,1172.3 1026.2,1168.6 1026.6,1158.6 1026.9,1153 1027.3,1139 1027.6,1125 1028,1112 1028.3,1101 1028.6,1077.5 1029,1106 1029.3,1118 1029.7,1131 1030,1146 1030.4,1137.5 1030.7,1159 1031.1,1167.4 1031.4,1176.4 1031.7,1177 1032.1,1179.1 1032.4,1176.4 1032.8,1174.2 1033.1,1175.8 1033.5,1176 1033.8,1174.5 1034.2,1173.9 1034.5,1172.3 1034.8,1174.3 1035.2,1163.6 1035.5,1167.5 1035.9,1171.1 1036.2,1173.4 1036.6,1172 1036.9,1169.8 1037.2,1173.8 1037.6,1175.6 1037.9,1172.7 1038.3,1170.3 1038.6,1174.3 1039,1174.6 1039.3,1177.2 1039.7,1173.8 1040,1171.8 1040.3,1178.5 1040.7,1175 1041,1176.4 1041.4,1173.5 1041.7,1172.6 1042.1,1176.2 1042.4,1178.6 1042.8,1178.1 1043.1,1173 1043.4,1175 1043.8,1175.3 1044.1,1171 1044.5,1173.3 1044.8,1175.5 1045.2,1171.1 1045.5,1177 1045.9,1175.1 1046.2,1174.6 1046.5,1177.6 1046.9,1172.6 1047.2,1177.2 1047.6,1174 1047.9,1178.1 1048.3,1178.1 1048.6,1175.6 1049,1174.3 1049.3,1170.8 1049.6,1176.5 1050,1173.5 1050.3,1174.4 1050.7,1174.7 1051,1175.6 1051.4,1173.2 1051.7,1176.2 1052,1179.2 1052.4,1175.7 1052.7,1174.4 1053.1,1172.3 1053.4,1174.9 1053.8,1178.3 1054.1,1176.9 1054.5,1171.8 1054.8,1178.9 1055.1,1172.3 1055.5,1178.1 1055.8,1172 1056.2,1175.1 1056.5,1172 1056.9,1172.6 1057.2,1172.6 1057.6,1174 1057.9,1176 1058.2,1178.2 1058.6,1176.4 1058.9,1175.3 1059.3,1173.3 1059.6,1172.8 1060,1178.5 1060.3,1174.7 1060.7,1176.3 1061,1173.9 1061.3,1178.9 1061.7,1173.8 1062,1176.9 1062.4,1172.4 1062.7,1173.8 1063.1,1174.9 1063.4,1174.9 1063.8,1177.9 1064.1,1174.9 1064.4,1175.7 1064.8,1175.5 1065.1,1176.7 1065.5,1172.2 1065.8,1176.2 1066.2,1174.6 1066.5,1176.9 1066.8,1176.4 1067.2,1174 1067.5,1173.6 1067.9,1177.4 1068.2,1175.5 1068.6,1173.6 1068.9,1175.2 1069.3,1177.2 1069.6,1175.1 1069.9,1178.8 1070.3,1172.5 1070.6,1177.6 1071,1176.7 1071.3,1173.4 1071.7,1176.4 1072,1173.2 1072.4,1171.1 1072.7,1175.1 1073,1172.9 1073.4,1176.7 1073.7,1175.3 1074.1,1178.4 1074.4,1173.5 1074.8,1175.5 1075.1,1178.2 1075.5,1176.3 1075.8,1176.1 1076.1,1174.4 1076.5,1174 1076.8,1172.8 1077.2,1172.9 1077.5,1176.1 1077.9,1174.3 1078.2,1176.1 1078.6,1176.7 1078.9,1173.8 1079.2,1177.2 1079.6,1176.1 1079.9,1177 1080.3,1178.5 1080.6,1176.1 1081,1177 1081.3,1175.3 1081.6,1174.5 1082,1175.7 1082.3,1173.3 1082.7,1173.9 1083,1177.5 1083.4,1178.7 1083.7,1178.5 1084.1,1173.3 1084.4,1175.4 1084.7,1173.8 1085.1,1177.4 1085.4,1175 1085.8,1177.2 1086.1,1179.8 1086.5,1179.6 1086.8,1173 1087.2,1174.6 1087.5,1179.9 1087.8,1176 1088.2,1172.1 1088.5,1172.3 1088.9,1176.2 1089.2,1175.9 1089.6,1176.9 1089.9,1171.4 1090.3,1174.7 1090.6,1174.1 1090.9,1176.4 1091.3,1178.6 1091.6,1173.8 1092,1172.7 1092.3,1176.6 1092.7,1174.3 1093,1178 1093.4,1176.1 1093.7,1175.1 1094,1173.5 1094.4,1172.3 1094.7,1177.1 1095.1,1172.9 1095.4,1176.4 1095.8,1177.6 1096.1,1175.8 1096.4,1178.1 1096.8,1171.4 1097.1,1178.3 1097.5,1177.1 1097.8,1173.8 1098.2,1181 1098.5,1176.9 1098.9,1179 1099.2,1173.5 1099.5,1177.6 1099.9,1174 1100.2,1177.3 1100.6,1174.4 1100.9,1175.6 1101.3,1174.4 1101.6,1174.7 1102,1177 1102.3,1174.7 1102.6,1176.7 1103,1176.5 1103.3,1175.4 1103.7,1173.4 1104,1178.6 1104.4,1175.6 1104.7,1173.1 1105.1,1177.1 1105.4,1179.1 1105.7,1180.3 1106.1,1174.4 1106.4,1178.8 1106.8,1177.4 1107.1,1173.5 1107.5,1177.5 1107.8,1178.5 1108.2,1177.8 1108.5,1172.6 1108.8,1175.6 1109.2,1176 1109.5,1174.8 1109.9,1173.4 1110.2,1173.6 1110.6,1175.9 1110.9,1177.1 1111.2,1176.8 1111.6,1171.6 1111.9,1170.1 1112.3,1172.6 1112.6,1171.2 1113,1173.7 1113.3,1168.3 1113.7,1167.5 1114,1169.9 1114.3,1169.3 1114.7,1161.7 1115,1158 1115.4,1157.7 1115.7,1153.3 1116.1,1145.5 1116.4,1145.7 1116.8,1140 1117.1,1143.4 1117.4,1145.6 1117.8,1150.2 1118.1,1151.8 1118.5,1159.3 1118.8,1163.2 1119.2,1163.9 1119.5,1168.5 1119.9,1170.8 1120.2,1168.1 1120.5,1174.1 1120.9,1172.9 1121.2,1173 1121.6,1175.7 1121.9,1173.8 1122.3,1175.4 1122.6,1177.2 1123,1176.2 1123.3,1174.1 1123.6,1177.5 1124,1173.9 1124.3,1172.1 1124.7,1173.6 1125,1178 1125.4,1177.7 1125.7,1177 1126,1178.2 1126.4,1179.9 1126.7,1172 1127.1,1180.2 1127.4,1172.4 1127.8,1178.4 1128.1,1175.7 1128.5,1179.4 1128.8,1171.6 1129.1,1177.2 1129.5,1178.9 1129.8,1179 1130.2,1176.4 1130.5,1176.9 1130.9,1175.6 1131.2,1171.5 1131.6,1177.6 1131.9,1171.6 1132.2,1174.4 1132.6,1174.3 1132.9,1173.8 1133.3,1173.5 1133.6,1174.3 1134,1177.6 1134.3,1174.5 1134.7,1177 1135,1173.9 1135.3,1175.1 1135.7,1176.3 1136,1176.1 1136.4,1173.5 1136.7,1173.4 1137.1,1174.1 1137.4,1177.6 1137.8,1177.5 1138.1,1177.4 1138.4,1175.7 1138.8,1178.9 1139.1,1174.6 1139.5,1172.3 1139.8,1176.8 1140.2,1174.5 1140.5,1175.8 1140.8,1176.6 1141.2,1178.4 1141.5,1174.4 1141.9,1175.7 1142.2,1171.8 1142.6,1179.4 1142.9,1178.4 1143.3,1173.4 1143.6,1176.7 1143.9,1178.2 1144.3,1173.3 1144.6,1176.2 1145,1174.4 1145.3,1175.5 1145.7,1173.6 1146,1177.2 1146.4,1177 1146.7,1173.7 1147,1177.5 1147.4,1175.7 1147.7,1170.6 1148.1,1173.5 1148.4,1170.1 1148.8,1171.6 1149.1,1171.1 1149.5,1165.8 1149.8,1164.2 1150.1,1165.3 1150.5,1163.1 1150.8,1162 1151.2,1166 1151.5,1163.7 1151.9,1164.4 1152.2,1164.5 1152.6,1166.7 1152.9,1167.8 1153.2,1165.1 1153.6,1167.1 1153.9,1165.8 1154.3,1165.6 1154.6,1164 1155,1162.4 1155.3,1158.3 1155.6,1150.8 1156,1150.5 1156.3,1149 1156.7,1145.7 1157,1154 1157.4,1151.8 1157.7,1159.8 1158.1,1164.7 1158.4,1167.9 1158.7,1164 1159.1,1166 1159.4,1171.4 1159.8,1169 1160.1,1171.9 1160.5,1175.5 1160.8,1175.3 1161.2,1170.3 1161.5,1177.5 1161.8,1171.2 1162.2,1177.3 1162.5,1174.1 1162.9,1179.3 1163.2,1172.1 1163.6,1176.2 1163.9,1177.9 1164.3,1172.8 1164.6,1172.5 1164.9,1177.5 1165.3,1177.7 1165.6,1174.9 1166,1171.3 1166.3,1173.6 1166.7,1174.3 1167,1175.1 1167.4,1177.3 1167.7,1178.3 1168,1174.4 1168.4,1175.4 1168.7,1174 1169.1,1176.7 1169.4,1176.4 1169.8,1179.3 1170.1,1174.9 1170.4,1175.4 1170.8,1179.7 1171.1,1173.8 1171.5,1178.6 1171.8,1178.4 1172.2,1175.5 1172.5,1172.9 1172.9,1173.1 1173.2,1177.7 1173.5,1178.9 1173.9,1174.3 1174.2,1174.7 1174.6,1175.2 1174.9,1178.1 1175.3,1174.9 1175.6,1178.8 1176,1175.8 1176.3,1175.5 1176.6,1179.6 1177,1175.1 1177.3,1179.6 1177.7,1175.1 1178,1176.5 1178.4,1178.2 1178.7,1175 1179.1,1172.8 1179.4,1175 1179.7,1177.2 1180.1,1176 1180.4,1176.8 1180.8,1173.2 1181.1,1179.1 1181.5,1178 1181.8,1172.9 1182.2,1175.1 1182.5,1176.2 1182.8,1174.6 1183.2,1179.9 1183.5,1179.2 1183.9,1177.4 1184.2,1176.9 1184.6,1175.5 1184.9,1174.9 1185.2,1174.3 1185.6,1174.9 1185.9,1179.8 1186.3,1177.8 1186.6,1179 1187,1179.7 1187.3,1176.6 1187.7,1175.1 1188,1177.7 1188.3,1174.7 1188.7,1179.9 1189,1180.1 1189.4,1175.7 1189.7,1173.9 1190.1,1172.8 1190.4,1180 1190.8,1180.8 1191.1,1179.2 1191.4,1179.5 1191.8,1173.5 1192.1,1179.8 1192.5,1179.3 1192.8,1177.2 1193.2,1177.9 1193.5,1173.8 1193.9,1175.1 1194.2,1175.5 1194.5,1180.1 1194.9,1180.3 1195.2,1175.7 1195.6,1177.4 1195.9,1178.9 1196.3,1176.5 1196.6,1175.4 1197,1173.7 1197.3,1175.5 1197.6,1177.9 1198,1175 1198.3,1174.8 1198.7,1175.9 1199,1179.7 1199.4,1174.1 1199.7,1178.5 1200,1179.2 1200.4,1177 1200.7,1176.6 1201.1,1174.1 1201.4,1177.6 1201.8,1181.3 1202.1,1180.8 1202.5,1175.8 1202.8,1178.4 1203.1,1177.3 1203.5,1173.9 1203.8,1173.6 1204.2,1179.8 1204.5,1172.9 1204.9,1173.3 1205.2,1175.9 1205.6,1175.5 1205.9,1175.2 1206.2,1180.5 1206.6,1176.8 1206.9,1174 1207.3,1173.4 1207.6,1178 1208,1173.6 1208.3,1175.6 1208.7,1178.4 1209,1176.4 1209.3,1176.2 1209.7,1172.3 1210,1177.6 1210.4,1178.9 1210.7,1174.6 1211.1,1176 1211.4,1176.8 1211.8,1176.8 1212.1,1180.4 1212.4,1178.6 1212.8,1177.5 1213.1,1172.8 1213.5,1176.6 1213.8,1180 1214.2,1175.9 1214.5,1175 1214.8,1178.4 1215.2,1176.7 1215.5,1172.5 1215.9,1173.8 1216.2,1172.9 1216.6,1175.8 1216.9,1170.2 1217.3,1172.4 1217.6,1177.5 1217.9,1178.8 1218.3,1172.2 1218.6,1174 1219,1178 1219.3,1176.1 1219.7,1176.6 1220,1177 1220.4,1180.4 1220.7,1173.5 1221,1173.2 1221.4,1174.7 1221.7,1178.7 1222.1,1178 1222.4,1177.2 1222.8,1178.4 1223.1,1174.8 1223.5,1176.2 1223.8,1174.2 1224.1,1175.4 1224.5,1179.2 1224.8,1177.5 1225.2,1178 1225.5,1173.5 1225.9,1180.3 1226.2,1173.6 1226.6,1174.4 1226.9,1173.8 1227.2,1175.2 1227.6,1173.2 1227.9,1176.8 1228.3,1178.8 1228.6,1173.9 1229,1174.7 1229.3,1174.9 1229.6,1178.1 1230,1179.6 1230.3,1178 1230.7,1177.5 1231,1177.8 1231.4,1174.4 1231.7,1174.5 1232.1,1177.1 1232.4,1178.7 1232.7,1178.3 1233.1,1176.2 1233.4,1177 1233.8,1173 1234.1,1174.7 1234.5,1171.8 1234.8,1171.5 1235.2,1169.5 1235.5,1169 1235.8,1169.5 1236.2,1164 1236.5,1162.5 1236.9,1164.1 1237.2,1158.8 1237.6,1160.9 1237.9,1152.1 1238.3,1156.1 1238.6,1147.2 1238.9,1150 1239.3,1147 1239.6,1149.6 1240,1147.1 1240.3,1149.9 1240.7,1150.6 1241,1154.7 1241.4,1159.7 1241.7,1158.9 1242,1164.9 1242.4,1168.5 1242.7,1167 1243.1,1166.6 1243.4,1168.8 1243.8,1170.6 1244.1,1168.8 1244.4,1172.2 1244.8,1176.2 1245.1,1172.6 1245.5,1178.3 1245.8,1178.9 1246.2,1171.7 1246.5,1176.7 1246.9,1175.9 1247.2,1174 1247.5,1178.6 1247.9,1179 1248.2,1177.2 1248.6,1172 1248.9,1175.7 1249.3,1176.5 1249.6,1173.4 1250,1175.9 1250.3,1173.4 1250.6,1177.1 1251,1175.6 1251.3,1174.9 1251.7,1171.4 1252,1175.3 1252.4,1177.6 1252.7,1176.4 1253.1,1172.8 1253.4,1174.9 1253.7,1170.4 1254.1,1173.1 1254.4,1167.4 1254.8,1170.2 1255.1,1167.8 1255.5,1168.8 1255.8,1162 1256.2,1159.2 1256.5,1155.7 1256.8,1160 1257.2,1154.9 1257.5,1153.2 1257.9,1151.4 1258.2,1158.6 1258.6,1158.4 1258.9,1161.7 1259.2,1158.2 1259.6,1164.7 1259.9,1164.1 1260.3,1168.5 1260.6,1167.5 1261,1170.3 1261.3,1167.9 1261.7,1165.5 1262,1164 1262.3,1164.4 1262.7,1161.4 1263,1159.5 1263.4,1156.4 1263.7,1158.2 1264.1,1153.7 1264.4,1155.8 1264.8,1151.1 1265.1,1148.6 1265.4,1150 1265.8,1149.8 1266.1,1149.7 1266.5,1151.8 1266.8,1156.5 1267.2,1156.2 1267.5,1159.6 1267.9,1165.9 1268.2,1161.3 1268.5,1164.4 1268.9,1166.5 1269.2,1170.6 1269.6,1172.2 1269.9,1172.7 1270.3,1169.9 1270.6,1174.1 1271,1177 1271.3,1173.9 1271.6,1174.1 1272,1179.6 1272.3,1173.1 1272.7,1176.6 1273,1178.3 1273.4,1176.3 1273.7,1177.5 1274,1175.1 1274.4,1175.4 1274.7,1179.4 1275.1,1180.4 1275.4,1178.2 1275.8,1179.9 1276.1,1180.2 1276.5,1176 1276.8,1180.3 1277.1,1176.2 1277.5,1174.4 1277.8,1175.9 1278.2,1174 1278.5,1182.1 1278.9,1174 1279.2,1173.8 1279.6,1180 1279.9,1178.1 1280.2,1180 1280.6,1177.4 1280.9,1178.1 1281.3,1175.1 1281.6,1175.9 1282,1175.7 1282.3,1176.5 1282.7,1179.9 1283,1179.7 1283.3,1180.3 1283.7,1177.4" fill="none" stroke="none" marker-start="url(#b3)" marker-mid="url(#b3)" marker-end="url(#b3)"/>
<polyline points="480.7,1163.7 519,1166.3 522.5,1166.3 523.6,1166.1 524.2,1165.6 524.5,1165.1 524.9,1164.1 525.1,1163.2 525.3,1161.9 525.9,1158.1 526,1157.5 526.1,1157.1 526.2,1157 526.4,1157.1 526.5,1157.5 526.6,1158.1 527.2,1162 527.4,1163.3 527.6,1164.3 528,1165.4 528.3,1166 528.9,1166.5 530.3,1167 534.3,1167.6 562,1170 607.8,1171.6 625.3,1172.1 629.2,1171.9 630.3,1171.6 631.1,1171.1 631.9,1170.1 632.6,1169.2 632.9,1169 633.4,1169.1 634.7,1170.4 635.5,1170.8 636.4,1170.8 637.4,1170.3 638.2,1169.6 638.8,1168.8 639.3,1167.7 639.6,1166.6 639.8,1165.6 640.1,1164.3 640.2,1163.5 640.3,1162.5 640.4,1161.3 640.5,1159.8 640.6,1158.1 640.7,1156 640.9,1153.4 641,1150.3 641.1,1146.6 641.2,1142.3 641.3,1137.3 641.4,1131.5 641.5,1125.1 641.7,1117.9 641.8,1110.2 642,1094.2 642.1,1086.7 642.2,1080.4 642.4,1075.9 642.5,1073.8 642.6,1074.3 642.7,1077.6 642.8,1082.9 642.9,1089.9 643,1097.6 643.2,1105.7 643.3,1113.6 643.4,1121.1 643.5,1128 643.6,1134.2 643.7,1139.6 643.8,1144.3 644,1148.4 644.1,1151.8 644.2,1154.6 644.3,1157 644.4,1159 644.5,1160.6 644.6,1161.9 644.8,1163 644.9,1164 645.1,1165.4 645.3,1166.5 645.7,1167.7 646.1,1168.8 646.7,1169.8 647.5,1170.6 648.8,1171.4 650.7,1171.9 654.5,1172.4 664.2,1172.8 677.6,1172.5 681.9,1172.1 683.9,1171.6 684.9,1171 685.6,1170.3 686.1,1169.5 686.4,1168.5 686.6,1167.6 686.8,1166.9 686.9,1166.2 687,1165.2 687.1,1164.1 687.2,1162.7 687.3,1161.1 687.4,1159.2 687.6,1157 687.7,1154.4 687.8,1151.5 687.9,1148.3 688,1144.9 688.2,1137.6 688.4,1134.2 688.5,1131.3 688.6,1129.1 688.7,1128 688.8,1128.1 688.9,1129.4 689,1131.7 689.2,1134.8 689.3,1138.3 689.5,1145.5 689.6,1148.9 689.7,1152 689.9,1154.8 690,1157.3 690.1,1159.5 690.2,1161.4 690.3,1162.9 690.4,1164.2 690.5,1165.3 690.7,1166.2 690.8,1167 691,1168.1 691.2,1168.9 691.6,1169.7 692.1,1170.5 693.1,1171.2 694.6,1171.7 697.4,1172 704.1,1172 712.3,1171.5 715.7,1171 717.7,1170.3 719.1,1169.5 720.1,1168.5 720.8,1167.5 721.4,1166.3 721.9,1165 722.2,1163.8 722.5,1162.2 722.8,1160.9 723,1159.3 723.2,1157.4 723.4,1156.3 723.5,1155.1 723.6,1153.7 723.7,1152.1 723.8,1150.2 723.9,1148 724,1145.4 724.2,1142.3 724.3,1138.6 724.4,1134 724.5,1128.4 724.6,1121.5 724.7,1113.1 724.8,1102.8 725,1090.5 725.1,1076 725.2,1058.9 725.3,1039.4 725.4,1017.4 725.5,993.4 725.6,967.8 725.8,941.9 725.9,917.3 726,896.1 726.1,880.9 726.2,873.8 726.3,875.9 726.4,887 726.6,905.2 726.7,928.2 726.8,953.6 726.9,979.5 727,1004.4 727.1,1027.5 727.3,1048.3 727.4,1066.6 727.5,1082.5 727.6,1095.9 727.7,1107.2 727.8,1116.5 727.9,1124.1 728.1,1130.3 728.2,1135.4 728.3,1139.5 728.4,1142.9 728.5,1145.7 728.6,1148 728.7,1150 728.9,1151.7 729,1153.2 729.1,1154.4 729.2,1155.6 729.4,1157.5 729.7,1159 730,1160.8 730.3,1162.1 730.8,1163.4 731.4,1164.5 732.1,1165.4 733.1,1166.1 734.9,1166.8 736.4,1166.9 737.3,1166.7 738,1166.1 738.6,1165.3 739.1,1164.3 739.4,1163.2 739.8,1161.8 740,1160.5 740.2,1158.9 740.3,1157.9 740.4,1156.8 740.6,1155.5 740.7,1153.9 740.8,1152.1 740.9,1149.9 741,1147.2 741.1,1143.9 741.2,1139.9 741.4,1134.9 741.5,1128.8 741.6,1121.4 741.7,1112.5 741.8,1101.9 741.9,1089.5 742.1,1075.3 742.2,1059.3 742.3,1041.8 742.4,1023.3 742.5,1004.5 742.6,986.6 742.7,971.2 742.9,960.1 743,955 743.1,956.6 743.2,964.7 743.3,978.1 743.4,994.9 743.5,1013.5 743.7,1032.4 743.8,1050.5 743.9,1067.4 744,1082.6 744.1,1096 744.2,1107.6 744.3,1117.4 744.5,1125.7 744.6,1132.5 744.7,1138.1 744.8,1142.7 744.9,1146.4 745,1149.4 745.1,1151.9 745.3,1154 745.4,1155.8 745.5,1157.3 745.6,1158.5 745.7,1159.6 746,1161.5 746.2,1163 746.5,1164.7 746.9,1166 747.3,1167.3 747.9,1168.5 748.7,1169.7 749.7,1170.6 751.2,1171.5 753.5,1172.2 757.5,1172.8 765.8,1173.3 773.4,1173.5 774.9,1173.3 775.4,1173 775.9,1172.4 776.7,1170.8 776.9,1170.5 777.2,1170.6 777.5,1171.2 778.1,1172.4 778.5,1173 779.2,1173.4 781.4,1173.7 803.9,1174.1 830.6,1174.4 842.6,1174.2 846.7,1173.8 848.9,1173.2 850.1,1172.6 850.9,1171.8 851.5,1170.9 851.8,1170.2 852.2,1169 852.4,1168 852.7,1166.5 852.8,1165.6 852.9,1164.6 853,1163.4 853.1,1162 853.2,1160.3 853.3,1158.5 853.5,1156.4 853.6,1154.1 853.7,1151.5 853.8,1148.6 853.9,1145.5 854,1142.2 854.4,1131.7 854.5,1128.3 854.6,1125.3 854.7,1122.7 854.8,1120.9 854.9,1120 855.1,1120 855.2,1121 855.3,1122.8 855.4,1125.3 855.5,1128.4 855.6,1131.7 856,1142.2 856.1,1145.5 856.2,1148.6 856.3,1151.5 856.4,1154 856.6,1156.4 856.7,1158.4 856.8,1160.3 856.9,1161.9 857,1163.2 857.1,1164.5 857.2,1165.5 857.4,1166.4 857.6,1167.8 857.8,1168.8 858.2,1169.9 858.6,1170.8 859.3,1171.7 860.2,1172.2 861.4,1172.5 862.5,1172.3 863.4,1171.9 864.1,1171.2 864.7,1170.3 865,1169.4 865.4,1168.2 865.6,1167 865.7,1166.2 865.8,1165.3 866,1164.2 866.1,1162.9 866.2,1161.3 866.3,1159.3 866.4,1157 866.5,1154.1 866.6,1150.8 866.8,1146.9 866.9,1142.4 867,1137.2 867.1,1131.5 867.2,1125.3 867.3,1118.6 867.5,1111.9 867.6,1105.3 867.7,1099.4 867.8,1094.8 867.9,1091.9 868,1091.2 868.1,1092.9 868.3,1096.5 868.4,1101.8 868.5,1108 868.7,1121.5 868.8,1128 868.9,1134 869.1,1139.5 869.2,1144.4 869.3,1148.7 869.4,1152.4 869.5,1155.5 869.6,1158.1 869.7,1160.3 869.9,1162.1 870,1163.6 870.1,1164.9 870.2,1165.9 870.3,1166.8 870.5,1168.1 870.8,1169.1 871.1,1170.1 871.6,1171.1 872.3,1172.1 873.2,1172.9 874.7,1173.5 877.2,1174 882.6,1174.4 892.3,1174.4 897.4,1174.1 899.8,1173.6 901.3,1173 902.2,1172.2 902.9,1171.3 903.4,1170.4 903.7,1169.4 903.9,1168.5 904.2,1167.4 904.3,1166.6 904.4,1165.8 904.5,1164.7 904.6,1163.5 904.7,1162.1 904.9,1160.4 905,1158.4 905.1,1156 905.2,1153.3 905.3,1150.2 905.4,1146.6 905.5,1142.5 905.7,1138 905.8,1133 905.9,1127.7 906.2,1110.7 906.3,1105.5 906.5,1101.1 906.6,1097.9 906.7,1096.1 906.8,1096 906.9,1097.6 907,1100.8 907.1,1105.1 907.3,1110.2 907.4,1115.8 907.6,1127.2 907.7,1132.5 907.8,1137.5 907.9,1142.1 908.1,1146.2 908.2,1149.9 908.3,1153.1 908.4,1155.8 908.5,1158.2 908.6,1160.2 908.8,1162 908.9,1163.4 909,1164.7 909.1,1165.7 909.2,1166.6 909.4,1168 909.7,1169 910,1170.1 910.5,1171.1 911.2,1172.1 912.1,1173 913.5,1173.6 915.8,1174.2 920.5,1174.6 935,1174.9 969.4,1175 975.1,1174.8 977.1,1174.4 978.2,1173.9 978.7,1173.2 979.1,1172.5 979.4,1171.4 979.7,1170.4 979.9,1169.1 980.1,1167.5 980.5,1164.7 980.8,1161.8 980.9,1161.1 981,1160.5 981.1,1160.1 981.3,1160 981.4,1160.2 981.5,1160.6 981.6,1161.2 981.8,1162.9 982.3,1166.7 982.5,1168.4 982.8,1169.9 983,1171 983.3,1172.2 983.7,1173 984.1,1173.7 984.9,1174.2 986.5,1174.6 989.2,1174.6 991.1,1174.3 992.3,1173.7 992.8,1173.2 993.2,1172.6 993.5,1171.7 993.8,1170.8 994,1169.6 994.2,1168.1 994.5,1166.2 994.7,1163.9 995.3,1157.4 995.4,1156.3 995.5,1155.4 995.6,1154.8 995.7,1154.5 995.8,1154.6 995.9,1155 996.1,1155.7 996.2,1156.7 996.4,1159.2 996.7,1163.1 997,1165.5 997.2,1167.5 997.4,1169.1 997.7,1170.4 997.9,1171.3 998.2,1172.3 998.7,1173 999.4,1173.6 1000.5,1173.9 1001.9,1173.8 1002.9,1173.4 1003.5,1172.8 1004,1172 1004.3,1171 1004.6,1170.1 1004.8,1168.9 1005,1167.4 1005.2,1165.7 1005.8,1160.7 1005.9,1159.8 1006,1159 1006.2,1158.4 1006.3,1158 1006.4,1157.8 1006.5,1157.7 1006.8,1158.2 1007.1,1158.4 1007.2,1158.4 1007.3,1158.2 1007.4,1157.9 1007.5,1157.5 1007.6,1156.9 1007.9,1155.5 1008.2,1152.9 1008.3,1152.1 1008.5,1151.4 1008.6,1151 1008.7,1150.9 1008.8,1151 1008.9,1151.4 1009,1152.2 1009.1,1153.2 1009.3,1154.3 1009.5,1157 1009.8,1161.1 1010.1,1163.7 1010.3,1165.8 1010.5,1167.6 1010.7,1169.1 1011,1170.2 1011.3,1171.5 1011.7,1172.3 1012.1,1173 1012.9,1173.7 1014.3,1174.3 1016.6,1174.6 1019.7,1174.6 1022,1174.2 1023.4,1173.6 1024.3,1172.9 1025,1172 1025.4,1171 1025.8,1170 1026,1169 1026.2,1167.7 1026.3,1166.9 1026.5,1165.9 1026.6,1164.8 1026.7,1163.5 1026.8,1162.1 1026.9,1160.3 1027,1158.4 1027.2,1156.1 1027.3,1153.6 1027.4,1150.8 1027.5,1147.7 1027.6,1144.3 1027.7,1140.7 1027.8,1136.8 1028.2,1124.9 1028.3,1121.3 1028.4,1118.2 1028.5,1115.7 1028.6,1114.2 1028.8,1113.8 1028.9,1114.4 1029,1116 1029.1,1118.5 1029.2,1121.7 1029.3,1125.4 1029.7,1137.2 1029.8,1141 1029.9,1144.6 1030,1147.9 1030.1,1150.9 1030.2,1153.6 1030.4,1156.1 1030.5,1158.2 1030.6,1160.1 1030.7,1161.7 1030.8,1163.1 1030.9,1164.3 1031.1,1165.3 1031.2,1166.1 1031.4,1167.4 1031.6,1168.3 1032,1169.1 1032.4,1169.5 1033.5,1170 1034,1170.7 1035.3,1172.8 1036.1,1173.8 1037.1,1174.4 1038.9,1174.9 1043,1175.4 1055.1,1175.7 1098.4,1176 1107.9,1175.9 1111,1175.5 1112.5,1175 1113.3,1174.5 1113.9,1173.7 1114.2,1172.9 1114.5,1172.2 1114.7,1171.2 1114.9,1169.8 1115.1,1168 1115.3,1167 1115.4,1165.8 1115.6,1163 1115.8,1159.9 1116.2,1154.8 1116.3,1153.2 1116.4,1151.9 1116.5,1150.9 1116.6,1150.2 1116.8,1150 1116.9,1150.3 1117,1150.9 1117.1,1152 1117.2,1153.4 1117.4,1156.6 1117.8,1161.6 1118,1164.6 1118.1,1165.9 1118.2,1167.1 1118.5,1169.1 1118.7,1170.6 1118.9,1171.8 1119.2,1172.7 1119.5,1173.5 1120,1174.3 1120.8,1174.9 1122.1,1175.5 1124.9,1175.9 1132.4,1176.2 1142.5,1176.1 1145.8,1175.8 1147,1175.4 1147.7,1174.9 1148.3,1174 1148.8,1173 1149.2,1171.6 1149.9,1169.1 1150.1,1168.5 1150.4,1168.1 1150.6,1168 1150.8,1168.3 1151.2,1169.2 1151.9,1171.4 1152.3,1172.5 1152.7,1173 1153,1173.2 1153.4,1173.1 1153.7,1172.7 1154,1172 1154.4,1170.9 1154.7,1169.3 1155.1,1167.4 1155.6,1163.9 1155.9,1162.8 1156,1162.4 1156.1,1162.1 1156.2,1162 1156.3,1162.1 1156.5,1162.3 1156.6,1162.6 1156.8,1163.7 1157.3,1166.5 1157.7,1169.4 1158.1,1171.1 1158.4,1172.5 1158.7,1173.4 1159.2,1174.3 1159.8,1175 1160.8,1175.6 1162.9,1176 1167.9,1176.4 1205.6,1176.8 1214.4,1176.8 1215.4,1176.6 1216.1,1176.1 1216.8,1175.4 1217.1,1175.3 1218.3,1176.4 1219.2,1176.8 1223.5,1176.9 1229.9,1176.7 1232.7,1176.3 1234.1,1175.8 1234.9,1175.2 1235.6,1174.3 1236.2,1173.2 1236.6,1171.9 1237.1,1170.2 1237.7,1167.6 1238.4,1164.3 1238.7,1162.9 1238.9,1162.3 1239.2,1162 1239.4,1162.1 1239.6,1162.5 1239.9,1163.2 1240.2,1164.6 1241.1,1169 1241.6,1170.9 1242,1172.4 1242.5,1173.6 1243.1,1174.6 1243.8,1175.4 1244.8,1175.9 1246.6,1176.4 1249.4,1176.5 1251.6,1176.2 1252.7,1175.7 1253.6,1174.9 1254.3,1173.9 1255,1172.6 1255.8,1170.5 1256.6,1168.3 1257.1,1167.4 1257.4,1167 1257.8,1167.1 1258.1,1167.4 1258.7,1168.6 1259.6,1170.7 1260.2,1171.6 1260.7,1172.2 1261.3,1172.2 1261.9,1171.8 1262.5,1170.8 1263,1169.5 1264,1166.6 1264.5,1164.9 1264.9,1164.1 1265.2,1163.6 1265.6,1163.5 1265.9,1163.8 1266.2,1164.5 1266.7,1165.9 1268,1170.2 1268.7,1172.2 1269.3,1173.7 1270,1174.8 1270.8,1175.7 1272,1176.4 1273.9,1176.9 1277.9,1177.4 1283.8,1177.8" fill="none" stroke="#000" stroke-width="3" stroke-linejoin="round"/>
<path d="M526.2 1195.2V1209.2M642.5 1195.2V1209.2M688.8 1195.2V1209.2M726.2 1195.2V1209.2M743 1195.2V1209.2M777 1195.2V1209.2M854.5 1195.2V1209.2M855.8 1195.2V1209.2M868 1195.2V1209.2M906.8 1195.2V1209.2M933 1195.2V1209.2M981.2 1195.2V1209.2M995.8 1195.2V1209.2M1006.2 1195.2V1209.2M1008.2 1195.2V1209.2M1028.2 1195.2V1209.2M1032 1195.2V1209.2M1116.2 1195.2V1209.2M1117.2 1195.2V1209.2M1150.5 1195.2V1209.2M1156.2 1195.2V1209.2M1177 1195.2V1209.2M1182.5 1195.2V1209.2M1217 1195.2V1209.2M1223 1195.2V1209.2M1237.5 1195.2V1209.2M1239.5 1195.2V1209.2M1257 1195.2V1209.2M1260 1195.2V1209.2M1263 1195.2V1209.2M1266 1195.2V1209.2" stroke="#2222ff" stroke-width="1.1" fill="none"/>
<path d="M480.7 1275H1283.8" stroke="#7f0000" stroke-width="8.4" fill="none"/>
<polyline points="480.7,1273.7 482,1269.1 483.2,1276.8 484.5,1276.8 485.7,1279.2 487,1273.1 488.3,1278.7 489.5,1270.1 490.8,1279.8 492.1,1277.9 493.3,1273 494.6,1271.4 495.8,1276.9 497.1,1280 498.4,1276.6 499.6,1275.5 500.9,1271.7 502.2,1274 503.4,1277.3 504.7,1273.2 505.9,1277.3 507.2,1279 508.5,1273.3 509.7,1272.9 511,1270.5 512.3,1271.6 513.5,1273.3 514.8,1270.7 516,1278.7 517.3,1279.2 518.6,1272.3 519.8,1276.4 521.1,1276.4 522.3,1280.5 523.6,1274.6 524.9,1272.5 526.1,1279.9 527.4,1278 528.7,1270.5 529.9,1279.7 531.2,1279 532.4,1275.5 533.7,1279.3 535,1273.4 536.2,1273.7 537.5,1279.2 538.8,1277.6 540,1279.5 541.3,1275.2 542.5,1271.9 543.8,1276.9 545.1,1272.7 546.3,1278.9 547.6,1275.3 548.8,1277.2 550.1,1275.7 551.4,1270.2 552.6,1271.9 553.9,1270.2 555.2,1277.1 556.4,1274.5 557.7,1278.4 558.9,1270.1 560.2,1273.1 561.5,1272.8 562.7,1274.8 564,1273.6 565.3,1279.5 566.5,1272.1 567.8,1270.8 569,1271.1 570.3,1279.1 571.6,1272.4 572.8,1275.7 574.1,1276.2 575.4,1275.6 576.6,1270.4 577.9,1278 579.1,1270.7 580.4,1276.5 581.7,1273.8 582.9,1266.9 584.2,1276.8 585.4,1273.5 586.7,1271.6 588,1277.4 589.2,1276.7 590.5,1270.3 591.8,1272.7 593,1275.9 594.3,1270.2 595.5,1272.5 596.8,1271.6 598.1,1274.2 599.3,1270.5 600.6,1271.2 601.9,1275.9 603.1,1274 604.4,1280.3 605.6,1277.9 606.9,1275.7 608.2,1279.3 609.4,1270 610.7,1277.1 611.9,1280 613.2,1279.6 614.5,1278.5 615.7,1271.6 617,1275.6 618.3,1272.4 619.5,1277.2 620.8,1272.8 622,1275.6 623.3,1274.2 624.6,1269.7 625.8,1272.9 627.1,1279.4 628.4,1278.1 629.6,1277.2 630.9,1277 632.1,1272.9 633.4,1271.2 634.7,1278.1 635.9,1276.7 637.2,1270.8 638.5,1269.9 639.7,1274.6 641,1276 642.2,1273.7 643.5,1273.9 644.8,1274.9 646,1279.1 647.3,1276 648.5,1278.8 649.8,1270.8 651.1,1275.1 652.3,1278.8 653.6,1271 654.9,1274.1 656.1,1271.8 657.4,1274.4 658.6,1278.9 659.9,1275.9 661.2,1269.9 662.4,1270.6 663.7,1273.1 665,1275.9 666.2,1275.5 667.5,1277.3 668.7,1278.3 670,1279.6 671.3,1274.2 672.5,1278.1 673.8,1273.7 675.1,1274.2 676.3,1271.8 677.6,1278 678.8,1279.2 680.1,1275.4 681.4,1277.8 682.6,1276.4 683.9,1276.3 685.1,1272 686.4,1276.1 687.7,1270.7 688.9,1278.3 690.2,1274.3 691.5,1278.4 692.7,1276.5 694,1273.9 695.2,1281.3 696.5,1280.4 697.8,1272.5 699,1272.4 700.3,1273.7 701.6,1276.8 702.8,1278.7 704.1,1274.5 705.3,1270.6 706.6,1280 707.9,1273 709.1,1278.3 710.4,1276.3 711.6,1272.4 712.9,1276.7 714.2,1278.1 715.4,1280.4 716.7,1271.5 718,1277.8 719.2,1277.7 720.5,1279.9 721.7,1277.5 723,1271.1 724.3,1274.8 725.5,1276.3 726.8,1278.3 728.1,1272.1 729.3,1278.1 730.6,1278 731.8,1274.6 733.1,1278.3 734.4,1272.6 735.6,1271.8 736.9,1274.9 738.2,1276.2 739.4,1274.9 740.7,1276.1 741.9,1278.3 743.2,1279.2 744.5,1270.1 745.7,1271.2 747,1275.2 748.2,1276.5 749.5,1274.9 750.8,1279.4 752,1273.4 753.3,1270.9 754.6,1273.2 755.8,1278 757.1,1279.8 758.3,1271.3 759.6,1271 760.9,1276.8 762.1,1273.9 763.4,1275 764.7,1269.2 765.9,1270.1 767.2,1275.8 768.4,1269.9 769.7,1279.2 771,1273.5 772.2,1269.9 773.5,1271.9 774.7,1276.6 776,1279.4 777.3,1280.1 778.5,1276.4 779.8,1271.2 781.1,1279.9 782.3,1273.8 783.6,1275.1 784.8,1274 786.1,1277.9 787.4,1280.6 788.6,1277.5 789.9,1273.2 791.2,1274.2 792.4,1275 793.7,1275.6 794.9,1272.7 796.2,1277.2 797.5,1277.7 798.7,1276.7 800,1273.9 801.3,1273.7 802.5,1275.2 803.8,1276.1 805,1278.4 806.3,1270 807.6,1273.9 808.8,1277 810.1,1271.6 811.3,1274.2 812.6,1277.7 813.9,1278.3 815.1,1273.8 816.4,1276.3 817.7,1271.7 818.9,1273 820.2,1274.8 821.4,1280.3 822.7,1277.6 824,1279.4 825.2,1278.3 826.5,1270.9 827.8,1276.2 829,1270.9 830.3,1272.6 831.5,1271.5 832.8,1271.2 834.1,1278.3 835.3,1276.7 836.6,1276.1 837.9,1272 839.1,1276.9 840.4,1277.4 841.6,1276.2 842.9,1270.2 844.2,1273.9 845.4,1272.9 846.7,1270.4 847.9,1272.5 849.2,1277.5 850.5,1275.3 851.7,1272.4 853,1279.6 854.3,1276.1 855.5,1279.2 856.8,1275 858,1269.9 859.3,1270.3 860.6,1270.7 861.8,1279.7 863.1,1278.2 864.4,1280.4 865.6,1279.9 866.9,1273.7 868.1,1280.3 869.4,1277 870.7,1272.8 871.9,1269.7 873.2,1278.7 874.4,1278.3 875.7,1276.2 877,1277 878.2,1276.5 879.5,1273.6 880.8,1271.8 882,1273 883.3,1278.3 884.5,1274.2 885.8,1279.6 887.1,1274.3 888.3,1274.4 889.6,1279.3 890.9,1277.9 892.1,1273.5 893.4,1270.2 894.6,1273.1 895.9,1274.2 897.2,1273.8 898.4,1272.1 899.7,1271.9 901,1266.8 902.2,1269.9 903.5,1275.8 904.7,1275.8 906,1269.5 907.3,1271.2 908.5,1277.4 909.8,1276 911,1271.7 912.3,1270.7 913.6,1272.8 914.8,1271.5 916.1,1270.8 917.4,1279 918.6,1273.5 919.9,1276.5 921.1,1270.1 922.4,1276.6 923.7,1273.8 924.9,1274 926.2,1273.5 927.5,1279.2 928.7,1272 930,1276.3 931.2,1278.8 932.5,1271.2 933.8,1274.9 935,1271.6 936.3,1271.7 937.5,1279.5 938.8,1277.3 940.1,1271.5 941.3,1274.2 942.6,1278.3 943.9,1278 945.1,1270.2 946.4,1270 947.6,1278.9 948.9,1275.9 950.2,1278.8 951.4,1271.5 952.7,1274.5 954,1281 955.2,1277.2 956.5,1275.2 957.7,1280 959,1274.5 960.3,1271.8 961.5,1274.9 962.8,1272.3 964.1,1271 965.3,1280.5 966.6,1272.2 967.8,1274.6 969.1,1280.4 970.4,1275 971.6,1274.5 972.9,1279.7 974.1,1270.5 975.4,1279.3 976.7,1269.8 977.9,1275.1 979.2,1278.2 980.5,1278.1 981.7,1278 983,1276.5 984.2,1269.7 985.5,1275.3 986.8,1277.4 988,1275.5 989.3,1277.4 990.6,1276.7 991.8,1272.2 993.1,1276.3 994.3,1273.1 995.6,1277.7 996.9,1270.4 998.1,1273.1 999.4,1273.1 1000.6,1277.3 1001.9,1277.4 1003.2,1274.6 1004.4,1275.5 1005.7,1274.7 1007,1270.3 1008.2,1278.1 1009.5,1272.9 1010.7,1275 1012,1274.6 1013.3,1279.7 1014.5,1276.9 1015.8,1280.5 1017.1,1278.1 1018.3,1277 1019.6,1272 1020.8,1273.8 1022.1,1277.3 1023.4,1276.7 1024.6,1272.2 1025.9,1269.6 1027.2,1272.5 1028.4,1269.5 1029.7,1271 1030.9,1277.6 1032.2,1271.9 1033.5,1271.1 1034.7,1271.7 1036,1273.1 1037.2,1272.8 1038.5,1274.8 1039.8,1279.4 1041,1277.2 1042.3,1277.1 1043.6,1279 1044.8,1276.6 1046.1,1280.5 1047.3,1281.1 1048.6,1279.1 1049.9,1274.8 1051.1,1271.1 1052.4,1272.2 1053.7,1272 1054.9,1274.8 1056.2,1270 1057.4,1277.1 1058.7,1275.6 1060,1279.1 1061.2,1273.3 1062.5,1273 1063.8,1279.7 1065,1277.2 1066.3,1277.1 1067.5,1280.4 1068.8,1280.4 1070.1,1277 1071.3,1276.2 1072.6,1280.7 1073.8,1278.6 1075.1,1278.9 1076.4,1279.7 1077.6,1278 1078.9,1272.4 1080.2,1275.6 1081.4,1278.1 1082.7,1280.2 1083.9,1278.3 1085.2,1274.4 1086.5,1275.2 1087.7,1271.8 1089,1280.5 1090.3,1271.7 1091.5,1270.1 1092.8,1271.2 1094,1277.3 1095.3,1277.7 1096.6,1274.4 1097.8,1271.7 1099.1,1275.2 1100.3,1275.5 1101.6,1278.8 1102.9,1281.1 1104.1,1277.3 1105.4,1283.3 1106.7,1276.9 1107.9,1277.2 1109.2,1275.1 1110.4,1278.4 1111.7,1279 1113,1279.3 1114.2,1278.8 1115.5,1274.8 1116.8,1277.6 1118,1278.3 1119.3,1276.5 1120.5,1274.7 1121.8,1277.4 1123.1,1272.9 1124.3,1275.5 1125.6,1273.5 1126.9,1276.8 1128.1,1279.4 1129.4,1279.2 1130.6,1279.8 1131.9,1282.2 1133.2,1276.3 1134.4,1274.2 1135.7,1273.5 1136.9,1271.3 1138.2,1278.6 1139.5,1280.2 1140.7,1276.5 1142,1279.8 1143.3,1271.9 1144.5,1277 1145.8,1280.4 1147,1272.3 1148.3,1274.5 1149.6,1272.9 1150.8,1278.2 1152.1,1276 1153.4,1276.8 1154.6,1277.8 1155.9,1271.3 1157.1,1277.6 1158.4,1272 1159.7,1272.2 1160.9,1273.3 1162.2,1273.7 1163.4,1279.5 1164.7,1276.2 1166,1279.2 1167.2,1272 1168.5,1276.7 1169.8,1280.5 1171,1272.5 1172.3,1270.1 1173.5,1279.2 1174.8,1277.5 1176.1,1270.8 1177.3,1276.7 1178.6,1275.3 1179.9,1279.1 1181.1,1275.9 1182.4,1273.3 1183.6,1276.9 1184.9,1278 1186.2,1274.6 1187.4,1272.8 1188.7,1275.4 1190,1276.8 1191.2,1278.3 1192.5,1280.5 1193.7,1274.7 1195,1276.3 1196.3,1272.5 1197.5,1275.5 1198.8,1279.8 1200,1273.2 1201.3,1271.8 1202.6,1277.6 1203.8,1276.7 1205.1,1272.3 1206.4,1278.9 1207.6,1278.9 1208.9,1273.8 1210.1,1271 1211.4,1271.2 1212.7,1270.2 1213.9,1279.6 1215.2,1275.6 1216.5,1274.5 1217.7,1278.4 1219,1276.3 1220.2,1272.4 1221.5,1272.7 1222.8,1270.8 1224,1270.9 1225.3,1273.5 1226.6,1274.5 1227.8,1277.8 1229.1,1281.1 1230.3,1270.6 1231.6,1272.1 1232.9,1274.9 1234.1,1270.1 1235.4,1270 1236.6,1271.9 1237.9,1278.9 1239.2,1274.6 1240.4,1272.1 1241.7,1272.5 1243,1277.6 1244.2,1272.6 1245.5,1272.6 1246.7,1277.6 1248,1273.5 1249.3,1276.4 1250.5,1277.5 1251.8,1277.6 1253.1,1276.3 1254.3,1278.7 1255.6,1278.2 1256.8,1271.6 1258.1,1270.7 1259.4,1276.3 1260.6,1272.3 1261.9,1278.7 1263.1,1280.3 1264.4,1280.4 1265.7,1271.4 1266.9,1279 1268.2,1275.4 1269.5,1274.5 1270.7,1271.5 1272,1274.4 1273.2,1275.3 1274.5,1273.2 1275.8,1275 1277,1275.9 1278.3,1275.6 1279.6,1279.7 1280.8,1277.5 1282.1,1272.7 1283.3,1275.7" fill="none" stroke="#7f0000" stroke-width="3.2" stroke-linejoin="round"/>
<path d="M640.3 1274.5L641.4 1269.1L642.1 1226L643.1 1292.5L643.8 1276.8L644.9 1276.8M686.5 1275.9L687.6 1273.5L688.4 1262.5L689.4 1284L690 1275.9L691.1 1275.4M724 1273.6L725.1 1258.2L725.9 1159L726.9 1362L727.5 1283.7L728.6 1273.6M724.2 1273.7L724.9 1275.3L725.6 1274L726.3 1272.9L727 1268.9L727.7 1267.5L728.4 1262.1L729.1 1254.4L729.8 1248L730.5 1242.7L731.2 1239.9L731.9 1240.5L732.6 1243.4L733.3 1248.4L734 1255.5L734.7 1260.6L735.4 1266L736.1 1269.8L736.8 1272.4L737.5 1274.5L738.2 1273.8L738.9 1274.8M740.8 1275.4L741.9 1259.4L742.6 1163L743.6 1333.8L744.3 1280.9L745.4 1273.2M852.8 1275.4L853.9 1272.7L854.6 1256L855.6 1295L856.3 1277L857.4 1273.7M865.8 1273.3L866.9 1268.3L867.6 1219.5L868.6 1307L869.3 1278.2L870.4 1276.8M904.5 1276.9L905.6 1267.9L906.4 1215.5L907.4 1301L908 1277.6L909.1 1276.2M979 1274.2L980.1 1273.3L980.9 1260.8L981.9 1285L982.5 1276L983.6 1273.4M993.5 1275.7L994.6 1273.2L995.4 1260L996.4 1285L997 1276L998.1 1274.8M1005.8 1273.5L1006.9 1273.1L1007.6 1259L1008.6 1285L1009.3 1276L1010.4 1275M1026.5 1273.1L1027.7 1269.3L1028.3 1227.5L1029.3 1298L1030 1277.3L1031.2 1276.6M1114.5 1274L1115.7 1273.6L1116.3 1263L1117.3 1287L1118 1276.2L1119.2 1275.7M1154 1274.2L1155.2 1273.3L1155.8 1261L1156.8 1285L1157.5 1276L1158.7 1275.1M1237 1275.2L1238.2 1273.5L1238.8 1262.5L1239.8 1285L1240.5 1276L1241.7 1273.7M1259.8 1276.9L1260.9 1273.4L1261.6 1262L1262.6 1285L1263.3 1276L1264.4 1276.1" fill="none" stroke="#7f0000" stroke-width="2.7" stroke-linejoin="round" stroke-linecap="round"/>
<path d="M724.5 1159L725.5 1135L726.2 1135L727.2 1159ZM741.2 1163L742.2 1145L743 1145L744 1163Z" fill="#7f0000"/>
</g>
<rect x="480.7" y="749" width="803.1" height="646.3" fill="none" stroke="#000" stroke-width="4.4"/>
<text transform="translate(480.7 1429.6) scale(1 1.070)" font-size="24.4" text-anchor="middle">10</text>
<text transform="translate(595.4 1429.6) scale(1 1.070)" font-size="24.4" text-anchor="middle">20</text>
<text transform="translate(710.2 1429.6) scale(1 1.070)" font-size="24.4" text-anchor="middle">30</text>
<text transform="translate(824.9 1429.6) scale(1 1.070)" font-size="24.4" text-anchor="middle">40</text>
<text transform="translate(939.6 1429.6) scale(1 1.070)" font-size="24.4" text-anchor="middle">50</text>
<text transform="translate(1054.3 1429.6) scale(1 1.070)" font-size="24.4" text-anchor="middle">60</text>
<text transform="translate(1169.1 1429.6) scale(1 1.070)" font-size="24.4" text-anchor="middle">70</text>
<text transform="translate(1283.8 1429.6) scale(1 1.070)" font-size="24.4" text-anchor="middle">80</text>
<text transform="translate(882.2 1479.2) scale(1 1.070)" font-size="28.5" text-anchor="middle">2<tspan font-family='"Liberation Serif", "DejaVu Serif", serif' font-size="27.1">θ</tspan> (degree)</text>
<text transform="translate(456.7 1077.9) scale(1 1.082) rotate(-90)" font-size="29" text-anchor="middle">Intensity (arb. units)</text>
<rect x="1022.4" y="762.2" width="183.3" height="108.9" fill="#fff" stroke="#3a3a3a" stroke-width="1.1"/>
<path d="M1025.2 777.2H1069.6" stroke="#000" stroke-width="0.7"/>
<ellipse cx="1047.4" cy="777.2" rx="8.4" ry="9" fill="url(#rg)"/>
<path d="M1025.2 803.3H1069.6" stroke="#000" stroke-width="3.6"/>
<path d="M1047.4 821.6V838.4" stroke="#0000ff" stroke-width="1.4"/>
<path d="M1025.2 856.4H1069.6" stroke="#7d0000" stroke-width="3.6"/>
<text transform="translate(1074.6 784.3) scale(1 1.040)" font-size="19.5">Yobs</text>
<text transform="translate(1074.6 810.8) scale(1 1.040)" font-size="19.5">Ycalc</text>
<text transform="translate(1074.6 837.2) scale(1 1.040)" font-size="19.5">Bragg_position</text>
<text transform="translate(1074.6 863.6) scale(1 1.040)" font-size="19.5">Yobs-Ycalc</text>
<text transform="translate(1002.5 944.8) scale(1 1.100)"><tspan font-size="22.3" dy="0">La</tspan><tspan font-size="12.9" dy="8.2">1.90</tspan><tspan font-size="22.3" dy="-8.2">Ba</tspan><tspan font-size="12.9" dy="8.2">0.05</tspan><tspan font-size="22.3" dy="-8.2">Y</tspan><tspan font-size="12.9" dy="8.2">0.05</tspan><tspan font-size="22.3" dy="-8.2">NiO</tspan><tspan font-size="12.9" dy="8.2">4</tspan></text>
</svg>
</body>
</html>
